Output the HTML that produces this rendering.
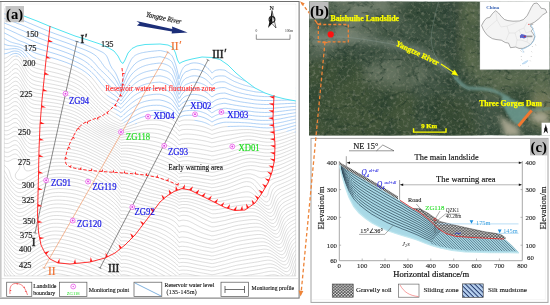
<!DOCTYPE html><html><head><meta charset="utf-8"><title>Baishuihe landslide</title><style>html,body{margin:0;padding:0;background:#fff;overflow:hidden}svg{display:block}</style></head><body><svg width="550" height="305" viewBox="0 0 550 305" font-family="'Liberation Serif','Times New Roman',serif"><rect x="0.5" y="1.5" width="298.6" height="296.6" fill="#fff" stroke="#6e6e6e" stroke-width="1"/>
<line x1="0.8" y1="2" x2="0.8" y2="298" stroke="#c8c8c8" stroke-width="1.6"/>
<rect x="4.2" y="4.2" width="291.6" height="271.8" fill="none" stroke="#d4d4d4" stroke-width="0.6"/>
<defs><clipPath id="mapclip"><rect x="4.2" y="4.2" width="291.6" height="271.8"/></clipPath></defs>
<g clip-path="url(#mapclip)" fill="none" stroke-linejoin="round">
<path d="M91.0,77.0 92.0,78.0 92.9,79.0 93.5,79.8 94.1,80.5 94.9,81.5 95.5,82.3 96.0,83.0 96.8,84.0 97.5,85.0 98.0,85.7 98.6,86.5 99.3,87.5 100.0,88.4 100.9,89.5 101.5,90.1 102.3,91.0 103.0,91.7 103.8,92.5 104.5,93.2 105.4,94.0 106.5,94.9 107.3,95.5 M36.0,58.5 37.0,58.8 38.0,59.1 39.0,59.4 40.0,59.7 41.0,59.9 42.0,60.2 43.0,60.5 44.0,60.7 45.0,61.0 46.0,61.2 47.0,61.5 48.0,61.8 49.0,62.0 50.0,62.3 51.0,62.6 52.0,62.8 53.0,63.1 54.0,63.4 55.0,63.6 56.0,63.9 57.0,64.2 58.0,64.5 59.0,64.8 60.0,65.1 61.0,65.4 62.0,65.7 63.0,66.1 64.0,66.4 65.0,66.7 66.0,67.1 67.0,67.4 68.0,67.8 69.0,68.2 70.0,68.6 71.0,69.0 72.0,69.4 73.0,69.8 74.0,70.2 75.0,70.7 76.0,71.1 77.0,71.6 77.8,72.0 78.8,72.5 79.7,73.0 80.6,73.5 81.5,74.0 82.2,74.5 83.0,75.0 83.7,75.5 84.5,76.1 85.5,76.9 86.3,77.5 87.0,78.2 87.9,79.0 88.9,80.0 89.5,80.6 90.3,81.5 91.0,82.3 91.9,83.5 92.5,84.2 93.1,85.0 93.9,86.0 94.5,86.9 95.3,88.0 96.0,88.9 96.8,90.0 97.5,90.9 98.4,92.0 99.0,92.8 99.6,93.5 100.5,94.5 101.5,95.5 102.5,96.5 103.5,97.4 104.2,98.0 105.0,98.6 106.0,99.4 106.9,100.0 107.6,100.5 108.3,101.0 109.1,101.5 109.9,102.0 110.8,102.5 111.6,103.0 M27.6,57.0 28.4,58.0 29.0,58.8 29.7,59.5 30.5,60.3 31.3,61.0 32.0,61.5 33.0,62.2 34.0,62.7 35.0,63.1 36.0,63.5 37.0,63.8 38.0,64.1 39.0,64.4 40.0,64.6 41.0,64.9 42.0,65.1 43.0,65.3 44.0,65.6 45.0,65.8 46.0,66.1 47.0,66.3 48.0,66.5 49.0,66.8 50.0,67.0 51.0,67.3 52.0,67.5 53.0,67.8 54.0,68.0 55.0,68.3 56.0,68.5 57.0,68.8 58.0,69.1 59.0,69.4 60.0,69.7 61.0,69.9 62.0,70.2 63.0,70.5 64.0,70.9 65.0,71.2 66.0,71.5 67.0,71.8 68.0,72.2 68.9,72.5 70.0,72.9 71.0,73.3 72.0,73.7 73.0,74.1 73.9,74.5 75.0,75.0 76.0,75.4 77.0,75.9 78.0,76.4 79.0,77.0 79.9,77.5 80.8,78.0 81.5,78.5 82.2,79.0 83.0,79.5 84.0,80.3 84.8,81.0 85.5,81.6 86.4,82.5 87.4,83.5 88.4,84.5 89.0,85.2 89.7,86.0 90.5,87.0 91.3,88.0 92.0,88.9 92.8,90.0 93.5,90.9 94.4,92.0 95.0,92.8 95.6,93.5 96.4,94.5 97.0,95.3 97.6,96.0 98.5,97.0 99.4,98.0 100.4,99.0 101.5,100.0 102.5,100.9 103.2,101.5 104.0,102.1 105.0,102.9 105.8,103.5 106.5,104.0 107.5,104.7 108.5,105.4 109.4,106.0 110.2,106.5 111.0,107.0 111.9,107.5 112.9,108.0 114.0,108.5 M25.0,57.5 25.5,58.4 26.0,59.2 26.5,60.0 27.0,60.9 27.5,61.7 28.0,62.4 28.8,63.5 29.5,64.3 30.2,65.0 31.0,65.6 32.0,66.4 33.0,67.0 34.0,67.4 35.0,67.8 36.0,68.2 37.0,68.5 38.0,68.8 39.0,69.0 40.0,69.2 41.0,69.5 42.0,69.7 43.0,69.9 44.0,70.1 45.0,70.4 46.0,70.6 47.0,70.8 48.0,71.1 49.0,71.3 50.0,71.5 51.0,71.7 52.0,72.0 53.0,72.2 54.0,72.4 55.0,72.7 56.0,72.9 57.0,73.2 58.0,73.4 59.0,73.7 60.0,74.0 61.0,74.2 62.0,74.5 63.0,74.8 64.0,75.1 65.0,75.4 66.0,75.7 67.0,76.0 68.0,76.3 69.0,76.7 70.0,77.0 71.0,77.4 72.0,77.8 73.0,78.2 74.0,78.7 75.0,79.1 76.0,79.6 77.0,80.1 78.0,80.6 79.0,81.2 80.0,81.8 81.0,82.5 82.0,83.2 83.0,84.0 84.0,84.9 84.7,85.5 85.5,86.3 86.2,87.0 87.0,87.8 87.6,88.5 88.5,89.5 89.4,90.5 90.0,91.2 90.6,92.0 91.4,93.0 92.0,93.7 92.7,94.5 93.5,95.5 94.3,96.5 95.0,97.3 95.6,98.0 96.5,99.0 97.5,100.0 98.4,101.0 99.4,102.0 100.4,103.0 101.5,104.0 102.5,104.8 103.3,105.5 104.0,106.1 105.0,106.9 105.8,107.5 106.5,108.0 107.5,108.8 108.5,109.5 109.3,110.0 110.1,110.5 110.8,111.0 111.6,111.5 112.5,112.0 113.4,112.5 114.3,113.0 115.2,113.5 116.1,114.0 M0.0,57.6 0.9,58.0 2.0,58.3 3.5,58.5 5.0,58.3 6.0,57.9 7.0,57.4 8.0,56.7 9.0,56.1 9.8,55.5 M21.6,56.5 22.4,57.5 23.0,58.4 23.5,59.3 24.0,60.3 24.5,61.3 25.0,62.3 25.5,63.2 25.9,64.0 26.5,65.0 27.0,65.8 27.5,66.5 28.2,67.5 29.0,68.4 30.0,69.4 30.7,70.0 31.5,70.6 32.5,71.2 33.5,71.7 34.5,72.1 35.5,72.5 36.5,72.8 37.5,73.1 38.5,73.3 39.5,73.5 40.5,73.8 41.5,74.0 42.5,74.2 43.5,74.4 44.5,74.6 45.5,74.8 46.5,75.0 47.5,75.2 48.5,75.4 49.5,75.7 50.5,75.9 51.5,76.1 52.5,76.3 53.5,76.5 54.5,76.7 55.5,77.0 56.5,77.2 57.5,77.4 58.5,77.7 59.5,77.9 60.5,78.2 61.5,78.4 62.5,78.7 63.5,79.0 64.5,79.3 65.5,79.6 66.5,79.9 67.5,80.2 68.4,80.5 69.5,80.9 70.5,81.2 71.5,81.6 72.4,82.0 73.5,82.5 74.5,82.9 75.5,83.4 76.5,83.9 77.5,84.5 78.4,85.0 79.2,85.5 79.9,86.0 80.7,86.5 81.5,87.1 82.5,87.9 83.2,88.5 84.0,89.2 84.8,90.0 85.5,90.7 86.3,91.5 87.0,92.2 87.7,93.0 88.5,93.9 89.5,95.0 90.4,96.0 91.0,96.7 91.7,97.5 92.5,98.4 93.5,99.5 94.4,100.5 95.0,101.2 95.8,102.0 96.5,102.7 97.2,103.5 98.0,104.3 98.7,105.0 99.5,105.8 100.3,106.5 101.0,107.2 101.9,108.0 103.0,108.9 103.7,109.5 104.5,110.2 105.5,111.0 106.5,111.8 107.3,112.5 108.5,113.4 109.4,114.0 110.1,114.5 110.8,115.0 111.6,115.5 112.4,116.0 113.2,116.5 114.0,117.0 115.0,117.5 115.9,118.0 116.7,118.5 117.5,119.0 118.4,119.5 119.1,120.0 119.9,120.5 120.6,121.0 122.0,120.5 M178.8,117.5 180.0,117.1 M0.0,62.2 1.0,62.6 2.0,62.9 3.5,63.0 5.0,62.8 5.9,62.5 6.8,62.0 7.5,61.5 8.5,60.7 9.2,60.0 10.0,59.1 10.6,58.5 11.5,57.7 12.5,57.0 13.4,56.5 14.5,56.1 16.0,56.0 M17.5,56.2 18.5,56.7 19.5,57.5 20.4,58.5 21.0,59.3 21.5,60.2 22.0,61.2 22.4,62.0 22.9,63.0 23.4,64.0 23.9,65.0 24.5,66.0 25.0,67.0 25.5,67.9 26.0,68.8 26.5,69.6 27.0,70.4 27.5,71.1 28.2,72.0 29.0,72.9 29.6,73.5 30.5,74.3 31.5,75.0 32.4,75.5 33.4,76.0 34.5,76.5 35.5,76.8 36.5,77.1 37.5,77.3 38.5,77.5 39.5,77.8 40.5,78.0 42.0,78.3 43.3,78.5 44.5,78.7 45.8,79.0 47.0,79.2 48.0,79.4 49.0,79.6 50.0,79.8 51.5,80.1 52.5,80.3 53.5,80.5 54.5,80.8 55.5,81.0 56.5,81.2 57.5,81.4 58.5,81.7 59.5,81.9 60.5,82.1 61.5,82.4 62.5,82.6 63.5,82.9 64.5,83.2 65.5,83.5 66.5,83.8 67.5,84.1 68.5,84.4 69.5,84.8 70.5,85.1 71.4,85.5 72.5,85.9 73.5,86.4 74.5,86.9 75.5,87.4 76.5,87.9 77.5,88.5 78.4,89.0 79.2,89.5 79.9,90.0 81.0,90.8 81.9,91.5 83.0,92.5 84.0,93.4 84.7,94.0 85.5,94.8 86.2,95.5 87.0,96.3 87.7,97.0 88.5,97.8 89.1,98.5 90.0,99.4 91.0,100.5 91.9,101.5 92.9,102.5 93.5,103.2 94.3,104.0 95.0,104.7 95.8,105.5 96.5,106.3 97.2,107.0 98.0,107.8 98.7,108.5 99.5,109.3 100.3,110.0 101.0,110.7 101.9,111.5 103.0,112.5 104.0,113.4 104.7,114.0 105.5,114.7 106.5,115.5 107.5,116.3 108.3,117.0 109.5,117.9 110.4,118.5 111.1,119.0 111.8,119.5 112.7,120.0 113.5,120.5 114.5,121.0 115.5,121.5 116.5,122.0 117.5,122.4 118.5,122.9 119.5,123.4 120.5,124.0 122.0,123.7 123.0,123.1 124.0,122.5 M174.5,116.8 175.2,117.5 176.0,118.3 176.7,119.0 177.5,119.9 178.4,121.0 179.0,121.8 180.0,121.2 181.0,120.8 182.0,120.4 183.0,120.2 184.5,120.0 186.0,120.0 187.5,120.0 189.0,120.0 190.2,120.0 191.5,120.1 193.0,120.2 194.5,120.3 M209.5,124.8 210.5,125.3 211.5,125.9 213.0,125.7 214.0,125.2 M0.0,66.5 1.0,66.9 2.0,67.2 3.5,67.4 5.0,67.2 6.0,66.9 7.0,66.4 8.0,65.7 8.8,65.0 9.5,64.3 10.3,63.5 11.0,62.7 11.6,62.0 12.5,61.1 13.1,60.5 14.0,59.8 15.0,59.3 16.5,59.3 17.5,59.7 18.5,60.5 19.3,61.5 20.0,62.5 20.5,63.3 21.0,64.2 21.5,65.0 22.0,66.0 22.5,66.9 23.0,67.9 23.5,68.8 24.0,69.7 24.5,70.7 25.0,71.5 25.5,72.4 26.0,73.3 26.5,74.0 27.0,74.8 27.5,75.5 28.4,76.5 29.0,77.2 29.9,78.0 31.0,78.9 32.0,79.5 33.0,80.0 34.0,80.4 35.0,80.8 36.0,81.1 37.0,81.3 38.0,81.5 39.0,81.7 40.4,82.0 41.5,82.2 43.0,82.5 44.5,82.7 45.9,83.0 47.0,83.2 48.5,83.5 50.0,83.8 51.2,84.0 52.5,84.3 53.8,84.5 55.0,84.7 56.0,85.0 57.0,85.2 58.0,85.4 59.0,85.6 60.0,85.8 61.0,86.1 62.0,86.3 63.0,86.6 64.0,86.8 65.0,87.1 66.0,87.4 67.0,87.7 68.0,88.0 69.0,88.4 70.0,88.7 71.0,89.1 72.0,89.5 73.0,90.0 74.0,90.4 75.0,90.9 76.0,91.5 77.0,92.0 77.8,92.5 78.6,93.0 79.4,93.5 80.1,94.0 81.0,94.7 82.0,95.5 83.0,96.3 83.8,97.0 84.5,97.6 85.4,98.5 86.5,99.5 87.5,100.5 88.5,101.5 89.5,102.5 90.5,103.5 91.5,104.5 92.5,105.5 93.4,106.5 94.4,107.5 95.4,108.5 96.0,109.1 96.9,110.0 97.5,110.6 98.4,111.5 99.0,112.1 99.9,113.0 100.5,113.6 101.4,114.5 102.5,115.5 103.5,116.5 104.5,117.4 105.2,118.0 106.0,118.7 107.0,119.5 108.0,120.3 109.0,121.0 109.8,121.5 110.6,122.0 111.5,122.5 112.5,123.0 113.5,123.4 114.5,123.8 115.5,124.2 116.5,124.6 117.4,125.0 118.5,125.5 119.5,125.9 120.5,126.4 122.0,126.3 123.0,125.8 124.0,125.4 124.9,125.0 126.0,124.5 M164.5,116.6 165.5,116.9 166.5,117.2 167.5,117.5 168.5,117.9 169.5,118.2 170.5,118.7 171.5,119.1 172.5,119.7 173.5,120.5 174.5,121.4 175.2,122.0 176.0,122.8 176.7,123.5 177.5,124.4 178.3,125.5 179.0,126.4 180.0,125.8 181.0,125.3 182.0,125.0 183.5,124.8 185.0,124.7 186.5,124.7 188.0,124.7 189.5,124.7 191.0,124.8 192.5,124.9 194.0,125.1 195.5,125.3 197.0,125.5 198.5,125.7 199.8,126.0 201.0,126.3 202.0,126.5 203.0,126.8 204.0,127.0 205.0,127.4 206.0,127.7 207.0,128.1 208.0,128.5 209.0,128.9 210.0,129.4 211.0,129.9 212.0,130.4 212.9,130.0 214.0,129.5 215.0,129.2 216.0,128.8 217.0,128.5 218.0,128.2 219.0,127.9 220.0,127.6 221.0,127.4 222.0,127.2 223.1,127.0 224.5,126.8 226.0,126.6 227.5,126.6 M0.0,70.7 1.0,71.1 2.0,71.4 3.5,71.6 4.7,71.5 6.0,71.2 7.0,70.7 8.0,70.0 9.0,69.2 9.7,68.5 10.5,67.7 11.2,67.0 12.0,66.2 12.8,65.5 13.5,64.9 14.5,64.3 15.5,63.9 17.0,64.2 18.0,64.8 18.7,65.5 19.5,66.5 20.0,67.2 20.5,68.0 21.0,68.8 21.5,69.7 22.0,70.5 22.5,71.4 23.0,72.4 23.5,73.3 24.0,74.2 24.5,75.0 25.0,75.9 25.5,76.8 26.0,77.5 26.5,78.3 27.0,79.0 27.8,80.0 28.5,80.9 29.1,81.5 30.0,82.3 31.0,83.0 31.8,83.5 32.8,84.0 34.0,84.5 35.0,84.8 36.0,85.1 37.0,85.3 38.0,85.5 39.5,85.8 40.6,86.0 42.0,86.2 43.5,86.5 45.0,86.7 46.5,87.0 48.0,87.2 49.4,87.5 50.5,87.7 52.0,88.0 53.5,88.2 54.8,88.5 56.0,88.7 57.0,88.9 58.0,89.1 59.0,89.4 60.0,89.6 61.0,89.8 62.0,90.1 63.0,90.3 64.0,90.6 65.0,90.8 66.0,91.1 67.0,91.4 68.0,91.7 69.0,92.1 70.0,92.4 71.0,92.8 72.0,93.2 73.0,93.7 74.0,94.1 75.0,94.6 76.0,95.2 77.0,95.7 78.0,96.3 79.0,97.0 79.8,97.5 80.5,98.0 81.5,98.7 82.5,99.5 83.5,100.4 84.2,101.0 85.0,101.7 85.9,102.5 87.0,103.5 88.0,104.4 89.0,105.4 89.6,106.0 90.5,106.9 91.1,107.5 92.0,108.3 92.6,109.0 93.5,109.9 94.1,110.5 95.0,111.4 95.6,112.0 96.5,112.9 97.5,113.9 98.5,115.0 99.5,116.0 100.5,117.0 101.5,118.0 102.5,118.9 103.5,119.9 104.2,120.5 105.0,121.2 106.0,121.9 106.9,122.5 107.7,123.0 108.5,123.5 109.5,124.0 110.5,124.5 111.5,124.9 112.5,125.4 113.5,125.8 114.5,126.1 115.4,126.5 116.5,126.9 117.5,127.3 118.5,127.7 119.5,128.2 120.5,128.7 122.0,128.6 123.0,128.2 124.0,127.8 125.0,127.5 126.0,127.2 127.0,126.8 128.0,126.5 129.0,126.1 130.0,125.8 131.0,125.4 132.0,125.1 133.0,124.7 134.0,124.3 135.0,124.0 M137.0,123.2 138.0,122.8 139.0,122.5 140.0,122.2 141.0,121.8 142.0,121.6 143.0,121.3 144.0,121.0 145.0,120.8 146.5,120.6 148.0,120.4 149.5,120.2 151.0,120.1 152.5,120.0 154.0,120.0 155.5,120.0 157.0,120.1 158.5,120.2 160.0,120.4 161.0,120.6 162.0,120.8 163.0,121.1 164.0,121.3 165.0,121.6 166.0,121.9 167.0,122.2 168.0,122.6 169.0,122.9 170.0,123.3 171.0,123.7 172.0,124.2 173.0,125.0 174.0,125.8 174.8,126.5 175.5,127.1 176.4,128.0 177.0,128.6 177.7,129.5 178.5,130.5 179.0,131.2 180.0,130.6 181.0,130.1 182.0,129.8 183.5,129.5 185.0,129.5 186.5,129.4 188.0,129.4 189.5,129.5 191.0,129.5 192.5,129.7 194.0,129.8 195.3,130.0 196.5,130.2 198.0,130.4 199.5,130.7 201.0,131.0 202.0,131.2 203.0,131.4 204.0,131.7 205.0,131.9 206.0,132.2 207.0,132.5 208.0,132.9 209.0,133.2 210.0,133.6 210.9,134.0 212.0,134.5 213.0,134.1 214.0,133.8 215.0,133.5 216.0,133.2 217.0,132.9 218.0,132.6 219.0,132.4 220.0,132.1 221.0,131.9 222.0,131.7 223.1,131.5 224.5,131.3 226.0,131.1 227.5,130.9 229.0,130.8 230.5,130.6 231.9,130.5 233.0,130.4 234.5,130.2 236.0,130.1 237.5,130.0 239.0,129.8 240.5,129.7 242.0,129.6 243.5,129.6 245.0,129.6 246.5,129.5 248.0,129.6 249.5,129.6 251.0,129.7 252.5,129.9 254.0,130.1 255.5,130.3 257.0,130.5 258.5,130.7 260.0,130.9 261.5,131.1 263.0,131.2 264.5,131.3 266.0,131.4 267.5,131.5 269.0,131.5 270.5,131.4 272.0,131.3 273.5,131.1 275.0,130.9 M0.0,74.7 1.0,75.1 2.0,75.4 3.5,75.6 5.0,75.5 6.0,75.2 7.0,74.8 8.0,74.2 8.9,73.5 10.0,72.5 11.0,71.6 12.0,70.6 12.7,70.0 13.5,69.4 14.5,68.8 15.5,68.5 17.0,68.8 18.0,69.4 18.6,70.0 19.5,71.0 20.2,72.0 20.9,73.0 21.5,74.0 22.0,74.9 22.5,75.8 23.0,76.7 23.5,77.5 24.0,78.4 24.5,79.3 25.0,80.2 25.5,81.0 26.0,81.7 26.5,82.5 27.3,83.5 28.0,84.4 29.0,85.5 30.0,86.3 30.9,87.0 31.7,87.5 32.7,88.0 34.0,88.5 35.0,88.8 36.0,89.1 37.0,89.3 38.3,89.5 39.5,89.7 41.0,89.9 42.5,90.2 44.0,90.4 45.5,90.6 47.0,90.9 48.5,91.1 50.0,91.4 51.5,91.6 53.0,91.9 54.5,92.2 56.0,92.4 57.5,92.7 58.5,92.9 59.5,93.1 60.5,93.4 61.5,93.6 62.5,93.8 63.5,94.1 64.5,94.3 65.5,94.6 66.5,94.9 67.5,95.2 68.4,95.5 69.5,95.9 70.5,96.2 71.5,96.6 72.4,97.0 73.5,97.5 74.5,98.0 75.5,98.5 76.5,99.0 77.4,99.5 78.2,100.0 79.0,100.5 79.7,101.0 80.5,101.5 81.5,102.3 82.5,103.0 83.5,103.8 84.3,104.5 85.0,105.1 86.0,105.9 86.6,106.5 87.5,107.3 88.3,108.0 89.0,108.7 89.9,109.5 90.5,110.1 91.4,111.0 92.4,112.0 93.4,113.0 94.0,113.6 94.9,114.5 95.5,115.1 96.3,116.0 97.0,116.7 97.8,117.5 98.5,118.3 99.2,119.0 100.0,119.8 100.7,120.5 101.5,121.2 102.5,122.0 103.5,122.8 104.5,123.5 105.3,124.0 106.1,124.5 107.0,125.0 108.0,125.5 109.0,126.0 110.0,126.5 111.0,126.9 112.0,127.3 113.0,127.7 114.0,128.1 115.0,128.4 116.0,128.8 117.0,129.2 118.0,129.6 118.9,130.0 119.9,130.5 120.8,131.0 122.0,130.8 123.0,130.4 124.0,130.2 125.0,129.9 126.0,129.6 127.0,129.4 128.0,129.1 129.0,128.8 130.0,128.6 131.0,128.3 132.0,128.1 133.0,127.8 134.0,127.5 135.0,127.2 136.0,127.0 137.0,126.7 138.0,126.4 139.0,126.2 140.0,125.9 141.0,125.7 142.0,125.5 143.5,125.2 144.8,125.0 146.0,124.8 147.5,124.7 149.0,124.6 150.5,124.5 151.8,124.5 153.3,124.5 154.5,124.5 156.0,124.6 157.5,124.8 159.0,125.0 160.5,125.2 161.5,125.5 162.5,125.7 163.5,126.0 164.5,126.2 165.5,126.5 166.5,126.9 167.5,127.2 168.5,127.6 169.5,128.0 170.5,128.4 171.5,128.9 172.5,129.5 173.5,130.2 174.5,131.0 175.5,131.9 176.1,132.5 177.0,133.4 178.0,134.5 178.5,135.2 179.5,135.5 180.5,135.0 181.5,134.7 182.5,134.4 184.0,134.2 185.5,134.1 187.0,134.1 188.5,134.1 190.0,134.2 191.5,134.3 193.0,134.4 194.5,134.6 196.0,134.8 197.2,135.0 198.5,135.2 200.0,135.5 201.5,135.7 202.8,136.0 204.0,136.3 205.0,136.5 206.0,136.7 207.0,137.0 208.0,137.3 209.0,137.6 210.0,137.9 211.0,138.3 212.0,138.6 213.0,138.3 214.0,138.1 215.0,137.8 216.0,137.6 217.0,137.3 218.0,137.1 219.0,136.8 220.0,136.6 221.0,136.4 222.5,136.1 224.0,135.8 225.5,135.6 227.0,135.3 228.5,135.1 230.0,134.9 231.5,134.7 233.0,134.4 234.5,134.2 236.0,133.9 237.5,133.7 238.6,133.5 240.0,133.3 241.5,133.1 242.6,133.0 244.0,132.9 245.5,132.8 247.0,132.8 248.5,132.7 250.0,132.8 251.5,132.9 253.0,133.1 254.5,133.3 255.8,133.5 257.0,133.7 258.5,134.0 260.0,134.2 261.5,134.4 263.0,134.6 264.5,134.8 266.0,134.9 267.1,135.0 268.5,135.0 270.0,135.0 271.5,134.9 273.0,134.8 274.5,134.6 276.0,134.3 277.5,134.0 278.5,133.8 279.5,133.6 280.5,133.3 281.5,133.0 282.5,132.8 283.5,132.5 284.5,132.2 285.5,131.9 286.5,131.6 M0.0,78.5 1.0,78.9 2.0,79.3 3.0,79.5 4.5,79.5 6.0,79.2 7.0,78.8 8.0,78.2 9.0,77.5 10.0,76.7 10.7,76.0 11.5,75.3 12.4,74.5 13.5,73.7 14.5,73.1 15.5,72.9 16.6,73.0 17.5,73.4 18.3,74.0 19.0,74.7 19.6,75.5 20.3,76.5 21.0,77.5 21.5,78.3 22.0,79.2 22.5,80.0 23.0,80.9 23.5,81.7 24.0,82.6 24.5,83.5 25.0,84.3 25.5,85.1 26.0,85.9 26.5,86.6 27.2,87.5 28.0,88.5 29.0,89.5 30.0,90.4 30.9,91.0 31.7,91.5 32.8,92.0 34.0,92.4 35.0,92.7 36.0,93.0 37.5,93.3 39.0,93.5 40.5,93.7 42.0,93.9 43.5,94.1 45.0,94.3 46.3,94.5 47.5,94.7 49.0,94.9 50.5,95.1 52.0,95.4 53.5,95.6 55.0,95.9 56.5,96.2 58.0,96.5 59.0,96.7 60.0,96.9 61.0,97.1 62.0,97.3 63.0,97.5 64.0,97.8 65.0,98.0 66.0,98.3 67.0,98.6 68.0,98.9 69.0,99.2 70.0,99.6 71.0,100.0 72.0,100.4 73.0,100.8 74.0,101.2 75.0,101.7 76.0,102.2 77.0,102.8 78.0,103.3 79.0,104.0 79.8,104.5 80.6,105.0 81.3,105.5 82.5,106.4 83.3,107.0 84.0,107.5 85.0,108.4 85.8,109.0 86.5,109.6 87.5,110.5 88.5,111.4 89.5,112.4 90.2,113.0 91.0,113.8 91.7,114.5 92.5,115.3 93.2,116.0 94.0,116.8 94.7,117.5 95.5,118.4 96.1,119.0 97.0,119.9 98.0,120.9 99.0,121.9 99.7,122.5 100.5,123.1 101.5,123.9 102.4,124.5 103.2,125.0 104.0,125.5 104.8,126.0 105.8,126.5 106.7,127.0 107.8,127.5 108.9,128.0 110.0,128.5 111.0,128.9 112.0,129.3 113.0,129.7 113.9,130.0 115.0,130.4 116.0,130.8 117.0,131.2 118.0,131.6 118.8,132.0 119.8,132.5 120.7,133.0 122.0,132.9 123.0,132.6 124.0,132.4 125.0,132.2 126.0,132.0 127.5,131.7 129.0,131.4 130.5,131.1 132.0,130.9 133.5,130.6 135.0,130.3 136.5,130.0 138.0,129.8 139.5,129.5 141.0,129.3 142.5,129.1 144.0,128.9 145.5,128.8 147.0,128.7 148.5,128.7 150.0,128.7 151.5,128.7 153.0,128.8 154.5,128.9 156.0,129.1 157.5,129.3 159.0,129.5 160.0,129.7 161.0,129.9 162.0,130.2 163.0,130.5 164.0,130.8 165.0,131.1 166.0,131.4 167.0,131.8 168.0,132.1 168.9,132.5 170.0,133.0 171.0,133.5 172.0,134.0 172.8,134.5 173.5,135.0 174.5,135.8 175.3,136.5 176.0,137.1 176.9,138.0 177.8,139.0 178.5,139.8 179.5,140.2 180.5,139.7 181.5,139.3 182.5,139.1 184.0,138.9 185.5,138.8 187.0,138.7 188.5,138.8 190.0,138.9 191.5,139.0 193.0,139.1 194.5,139.3 195.9,139.5 197.0,139.6 198.5,139.9 200.0,140.1 201.5,140.4 203.0,140.6 204.5,140.9 205.5,141.1 206.5,141.4 207.5,141.6 208.5,141.8 209.5,142.1 210.5,142.4 211.5,142.7 213.0,142.6 214.0,142.4 215.5,142.1 216.5,141.8 217.5,141.6 218.5,141.4 219.5,141.2 220.5,141.0 222.0,140.7 223.5,140.4 225.0,140.1 226.5,139.8 228.0,139.6 229.5,139.3 230.5,139.1 231.5,138.8 232.5,138.6 233.5,138.4 234.5,138.2 235.5,137.9 236.5,137.7 237.5,137.5 238.5,137.3 239.5,137.0 241.0,136.8 242.5,136.5 244.0,136.3 245.5,136.1 247.0,136.0 248.5,136.0 250.0,136.0 251.5,136.2 253.0,136.3 254.5,136.6 256.0,136.8 257.5,137.1 258.5,137.3 260.0,137.6 261.5,137.9 263.0,138.2 264.5,138.3 266.0,138.5 267.5,138.6 269.0,138.6 270.5,138.6 272.0,138.5 273.5,138.3 275.0,138.0 276.5,137.8 277.5,137.6 278.5,137.3 279.5,137.1 280.5,136.8 281.5,136.5 282.5,136.2 283.5,135.9 284.5,135.6 285.5,135.3 286.5,135.0 287.5,134.6 288.5,134.3 289.5,133.9 290.5,133.6 291.5,133.2 292.5,132.9 293.5,132.6 294.5,132.2 M0.0,82.3 1.0,82.7 2.0,83.1 3.0,83.3 4.5,83.4 6.0,83.1 7.0,82.7 8.0,82.2 9.0,81.5 10.0,80.7 10.8,80.0 11.5,79.4 12.5,78.6 13.3,78.0 14.1,77.5 15.5,77.1 17.0,77.4 18.0,78.0 19.0,79.0 19.8,80.0 20.5,80.9 21.0,81.7 21.5,82.5 22.0,83.3 22.5,84.2 23.0,85.0 23.5,85.9 24.0,86.7 24.5,87.5 25.0,88.4 25.5,89.2 26.0,89.9 26.5,90.7 27.1,91.5 28.0,92.5 28.9,93.5 30.0,94.4 30.9,95.0 31.8,95.5 32.9,96.0 34.0,96.4 35.0,96.6 36.0,96.9 37.5,97.1 39.0,97.3 40.5,97.5 42.0,97.7 43.5,97.9 44.7,98.0 46.0,98.2 47.5,98.4 49.0,98.6 50.5,98.8 51.8,99.0 53.0,99.2 54.5,99.4 56.0,99.7 57.5,100.0 59.0,100.2 60.3,100.5 61.5,100.8 62.5,101.0 63.5,101.2 64.5,101.5 65.5,101.7 66.5,102.0 67.5,102.3 68.5,102.6 69.5,102.9 70.5,103.2 71.5,103.6 72.4,104.0 73.5,104.5 74.5,104.9 75.5,105.4 76.5,105.9 77.5,106.4 78.5,107.0 79.3,107.5 80.1,108.0 80.8,108.5 81.6,109.0 82.5,109.7 83.5,110.4 84.2,111.0 85.0,111.6 86.0,112.4 86.6,113.0 87.5,113.7 88.3,114.5 89.0,115.1 89.9,116.0 91.0,117.0 92.0,118.0 93.0,119.0 94.0,120.0 95.0,121.0 96.0,122.0 97.0,122.8 97.8,123.5 98.5,124.1 99.5,124.8 100.5,125.5 101.2,126.0 102.0,126.5 102.9,127.0 103.7,127.5 104.7,128.0 105.5,128.4 106.5,128.9 107.5,129.4 108.5,129.8 109.5,130.2 110.5,130.6 111.5,131.0 112.5,131.4 113.5,131.8 114.5,132.2 115.4,132.5 116.5,133.0 117.5,133.4 118.5,133.9 119.5,134.4 120.5,135.0 121.5,135.2 122.5,135.0 123.5,134.7 124.9,134.5 126.0,134.3 127.5,134.1 129.0,133.9 130.5,133.8 132.0,133.6 133.5,133.4 135.0,133.3 136.5,133.1 138.0,133.0 139.5,132.8 141.0,132.7 142.5,132.6 144.0,132.6 145.5,132.6 147.0,132.6 148.5,132.7 150.0,132.8 151.5,132.9 153.0,133.0 154.5,133.2 156.0,133.4 157.5,133.6 159.0,133.9 160.0,134.2 161.0,134.4 162.0,134.7 163.0,135.0 164.0,135.4 165.0,135.7 166.0,136.0 167.0,136.4 168.0,136.8 169.0,137.2 170.0,137.7 171.0,138.2 172.0,138.7 173.0,139.4 173.9,140.0 175.0,140.9 175.7,141.5 176.5,142.2 177.3,143.0 178.0,143.8 178.6,144.5 179.9,144.5 181.0,144.0 182.0,143.7 183.4,143.5 185.0,143.4 186.5,143.3 188.0,143.3 189.5,143.4 190.7,143.5 192.0,143.6 193.5,143.8 195.0,144.0 196.5,144.2 198.0,144.4 199.5,144.6 201.0,144.9 202.5,145.1 204.0,145.4 205.5,145.7 207.0,145.9 208.0,146.2 209.0,146.4 210.0,146.6 211.0,146.9 212.0,147.1 213.5,146.8 215.0,146.6 216.0,146.4 217.0,146.1 218.0,145.9 219.0,145.7 220.1,145.5 221.5,145.2 222.7,145.0 224.0,144.8 225.3,144.5 226.5,144.3 227.5,144.1 228.5,143.8 229.5,143.6 230.5,143.4 231.5,143.1 232.5,142.9 233.5,142.6 234.5,142.3 235.5,142.1 236.5,141.8 237.5,141.5 238.5,141.3 239.5,141.0 240.5,140.8 241.5,140.5 242.5,140.3 244.0,140.0 245.5,139.8 247.0,139.6 248.5,139.6 250.0,139.5 251.5,139.7 253.0,139.9 254.5,140.1 256.0,140.4 257.0,140.6 258.0,140.9 259.0,141.1 260.0,141.3 261.1,141.5 262.5,141.7 264.0,141.9 265.5,142.1 267.0,142.2 268.5,142.2 270.0,142.2 271.5,142.1 273.0,141.9 274.5,141.7 276.0,141.4 277.0,141.2 278.0,141.0 279.0,140.7 280.0,140.4 281.0,140.1 282.0,139.8 283.0,139.5 284.0,139.2 285.0,138.8 286.0,138.5 287.0,138.1 288.0,137.8 289.0,137.4 290.0,137.1 291.0,136.7 292.0,136.3 292.9,136.0 294.0,135.6 295.0,135.2 296.0,134.9 297.0,134.5 298.0,134.2 299.0,133.8 300.0,133.5 M0.0,86.1 1.0,86.5 2.0,86.8 3.0,87.1 4.5,87.2 5.9,87.0 7.0,86.6 8.0,86.1 8.9,85.5 10.0,84.7 10.8,84.0 11.5,83.4 12.5,82.6 13.4,82.0 14.4,81.5 15.5,81.2 16.9,81.5 17.8,82.0 18.5,82.6 19.3,83.5 20.0,84.3 20.5,85.0 21.0,85.8 21.5,86.6 22.0,87.4 22.5,88.3 23.0,89.1 23.5,90.0 24.0,90.8 24.5,91.6 25.0,92.5 25.5,93.3 26.0,94.0 26.5,94.7 27.1,95.5 27.9,96.5 28.9,97.5 30.0,98.4 30.9,99.0 31.8,99.5 33.0,100.0 34.0,100.3 35.0,100.5 36.5,100.8 37.8,101.0 39.0,101.1 40.5,101.3 42.0,101.4 43.5,101.6 45.0,101.7 46.5,101.9 48.0,102.1 49.5,102.3 51.0,102.5 52.5,102.7 54.0,102.9 55.5,103.2 57.0,103.4 58.5,103.7 60.0,104.0 61.5,104.3 62.5,104.5 63.5,104.7 64.5,104.9 65.5,105.2 66.5,105.5 67.5,105.7 68.5,106.0 69.5,106.3 70.5,106.7 71.5,107.0 72.5,107.4 73.5,107.8 74.5,108.3 75.5,108.8 76.5,109.3 77.5,109.8 78.5,110.3 79.5,110.9 80.4,111.5 81.2,112.0 81.9,112.5 82.6,113.0 83.5,113.7 84.5,114.4 85.2,115.0 86.0,115.7 87.0,116.5 88.0,117.4 88.7,118.0 89.5,118.8 90.3,119.5 91.0,120.2 91.8,121.0 92.5,121.6 93.5,122.5 94.5,123.4 95.3,124.0 96.0,124.6 97.0,125.4 97.9,126.0 98.6,126.5 99.4,127.0 100.1,127.5 101.0,128.0 101.8,128.5 102.7,129.0 103.7,129.5 104.5,129.9 105.5,130.4 106.5,130.8 107.5,131.3 108.5,131.7 109.5,132.1 110.4,132.5 111.5,132.9 112.5,133.3 113.5,133.7 114.5,134.1 115.5,134.5 116.5,135.0 117.5,135.4 118.5,136.0 119.4,136.5 120.1,137.0 121.0,137.7 122.0,137.4 123.0,137.2 124.1,137.0 125.5,136.8 127.0,136.7 128.5,136.6 130.0,136.5 131.5,136.4 133.0,136.3 134.5,136.3 136.0,136.2 137.5,136.2 139.0,136.1 140.5,136.1 142.0,136.1 143.5,136.2 145.0,136.2 146.5,136.4 148.0,136.5 149.5,136.7 151.0,136.9 152.1,137.0 153.5,137.2 155.0,137.4 156.5,137.7 157.5,138.0 158.5,138.2 159.5,138.4 160.5,138.7 161.4,139.0 162.5,139.3 163.5,139.7 164.4,140.0 165.5,140.4 166.5,140.8 167.5,141.2 168.5,141.6 169.4,142.0 170.4,142.5 171.4,143.0 172.2,143.5 173.0,144.0 173.7,144.5 174.5,145.0 175.5,145.8 176.3,146.5 177.0,147.2 177.8,148.0 178.5,148.8 179.5,149.2 180.5,148.7 181.5,148.3 182.5,148.1 184.0,147.9 185.5,147.9 187.0,147.8 188.5,147.8 190.0,148.0 191.5,148.1 193.0,148.3 194.5,148.5 196.0,148.7 197.5,148.9 199.0,149.1 200.5,149.4 202.0,149.6 203.5,149.8 205.0,150.1 206.5,150.4 208.0,150.7 209.0,150.9 210.0,151.1 211.0,151.3 212.0,151.6 213.5,151.3 215.0,151.1 216.0,150.8 217.0,150.6 218.0,150.4 219.0,150.2 220.0,149.9 221.0,149.7 222.0,149.5 223.5,149.2 224.5,149.0 225.5,148.8 226.5,148.6 227.5,148.4 228.5,148.1 229.5,147.9 230.5,147.6 231.5,147.3 232.5,147.1 233.5,146.8 234.4,146.5 235.5,146.2 236.5,145.9 237.5,145.6 238.5,145.3 239.5,145.0 240.5,144.8 241.5,144.5 242.5,144.3 243.5,144.1 245.0,143.8 246.5,143.6 248.0,143.5 249.5,143.4 251.0,143.5 252.5,143.6 254.0,143.8 255.1,144.0 256.5,144.3 257.5,144.5 258.5,144.7 260.0,145.0 261.5,145.2 263.0,145.5 264.5,145.6 266.0,145.7 267.5,145.8 269.0,145.8 270.5,145.7 272.0,145.6 273.5,145.4 275.0,145.1 276.5,144.8 277.5,144.6 278.5,144.3 279.5,144.0 280.5,143.7 281.5,143.4 282.5,143.1 283.5,142.7 284.5,142.4 285.5,142.0 286.5,141.7 287.5,141.3 288.5,140.9 289.5,140.5 290.5,140.2 291.5,139.8 292.5,139.4 293.5,139.0 294.5,138.6 295.5,138.2 296.5,137.8 297.4,137.5 298.5,137.1 299.5,136.8 300.0,136.6 M0.0,89.8 1.0,90.2 2.0,90.6 3.0,90.8 4.5,91.0 6.0,90.8 7.0,90.5 8.0,90.0 8.8,89.5 9.5,89.0 10.5,88.2 11.4,87.5 12.5,86.6 13.4,86.0 14.5,85.5 15.5,85.3 16.7,85.5 17.7,86.0 18.5,86.7 19.3,87.5 20.0,88.4 20.5,89.1 21.0,89.9 21.5,90.7 22.0,91.5 22.5,92.4 23.0,93.2 23.5,94.0 24.0,94.9 24.5,95.7 25.0,96.5 25.5,97.3 26.0,98.1 26.5,98.8 27.1,99.5 27.9,100.5 28.5,101.1 29.5,102.0 30.5,102.8 31.5,103.3 32.5,103.8 33.5,104.1 34.5,104.4 36.0,104.6 37.5,104.8 39.0,104.9 40.5,105.1 42.0,105.2 43.5,105.3 45.0,105.4 46.5,105.6 48.0,105.7 49.5,105.9 51.0,106.1 52.5,106.3 54.0,106.5 55.5,106.7 57.0,106.9 58.5,107.2 60.0,107.5 61.5,107.8 62.5,108.0 63.5,108.2 64.5,108.4 65.5,108.6 66.5,108.9 67.5,109.2 68.5,109.4 69.5,109.8 70.5,110.1 71.5,110.4 72.5,110.8 73.5,111.2 74.5,111.6 75.5,112.1 76.4,112.5 77.3,113.0 78.3,113.5 79.1,114.0 80.0,114.5 80.8,115.0 81.5,115.5 82.2,116.0 83.0,116.5 84.0,117.3 84.9,118.0 86.0,118.9 86.8,119.5 87.5,120.1 88.5,121.0 89.5,121.9 90.2,122.5 91.0,123.1 92.0,124.0 92.7,124.5 93.5,125.2 94.5,125.9 95.3,126.5 96.0,127.0 96.8,127.5 97.5,128.0 98.3,128.5 99.1,129.0 100.0,129.5 100.8,130.0 101.8,130.5 102.7,131.0 103.8,131.5 104.8,132.0 105.9,132.5 107.0,133.0 108.0,133.4 109.0,133.8 110.0,134.2 111.0,134.7 112.0,135.1 113.0,135.5 114.0,135.9 115.0,136.4 116.0,136.8 117.0,137.4 118.0,137.9 118.9,138.5 120.0,139.3 120.7,140.0 122.0,140.0 123.0,139.8 124.5,139.6 126.0,139.4 127.5,139.3 129.0,139.3 130.5,139.3 132.0,139.3 133.5,139.3 135.0,139.4 136.5,139.4 138.0,139.5 139.5,139.5 141.0,139.6 142.5,139.7 144.0,139.9 145.3,140.0 146.5,140.2 148.0,140.4 149.5,140.6 151.0,140.9 152.5,141.1 154.0,141.4 155.0,141.6 156.0,141.8 157.0,142.1 158.0,142.3 159.0,142.6 160.0,142.9 161.0,143.2 162.0,143.5 163.0,143.9 164.0,144.3 165.0,144.6 166.0,145.0 167.0,145.4 168.0,145.9 169.0,146.3 170.0,146.8 171.0,147.3 172.0,147.9 173.0,148.5 173.8,149.0 174.5,149.5 175.5,150.3 176.4,151.0 177.0,151.6 177.9,152.5 178.5,153.2 179.5,153.5 180.5,153.0 181.5,152.7 182.5,152.5 184.0,152.3 185.5,152.3 187.0,152.2 188.5,152.2 190.0,152.4 191.5,152.6 193.0,152.7 194.5,152.9 196.0,153.2 197.5,153.4 199.0,153.6 200.5,153.8 202.0,154.1 203.5,154.3 205.0,154.6 206.5,154.8 208.0,155.1 209.5,155.4 210.5,155.6 211.5,155.9 213.0,155.8 214.5,155.6 215.5,155.3 216.5,155.1 217.5,154.9 218.5,154.6 219.5,154.4 220.5,154.2 221.5,154.0 222.5,153.8 223.5,153.6 224.5,153.3 225.5,153.1 226.5,152.9 227.5,152.6 228.5,152.3 229.5,152.0 230.5,151.8 231.5,151.5 232.5,151.2 233.5,150.9 234.5,150.5 235.5,150.2 236.5,149.9 237.5,149.6 238.5,149.3 239.5,149.0 240.5,148.7 241.5,148.5 242.5,148.2 243.5,148.0 244.5,147.8 246.0,147.5 247.5,147.3 249.0,147.2 250.5,147.2 252.0,147.3 253.5,147.5 255.0,147.7 256.5,148.0 258.0,148.2 259.4,148.5 260.5,148.7 262.0,148.9 263.5,149.1 265.0,149.2 266.5,149.3 268.0,149.4 269.5,149.3 271.0,149.2 272.5,149.0 274.0,148.8 275.0,148.6 276.0,148.4 277.0,148.1 278.0,147.9 279.0,147.6 280.0,147.3 281.0,147.0 282.0,146.7 283.0,146.3 284.0,146.0 285.0,145.6 286.0,145.2 287.0,144.8 288.0,144.4 289.0,144.0 290.0,143.6 291.0,143.2 292.0,142.8 293.0,142.4 294.0,142.0 295.0,141.6 296.0,141.2 297.0,140.8 298.0,140.4 299.0,140.0 300.0,139.7 M0.0,93.4 1.0,93.9 2.0,94.3 3.0,94.6 4.5,94.8 6.0,94.6 7.0,94.3 8.0,93.9 9.0,93.3 10.0,92.5 11.0,91.7 11.9,91.0 13.0,90.3 14.0,89.7 15.0,89.4 16.5,89.5 17.5,89.9 18.2,90.5 19.0,91.3 19.6,92.0 20.3,93.0 21.0,94.0 21.5,94.8 22.0,95.6 22.5,96.4 23.0,97.3 23.5,98.1 24.0,99.0 24.5,99.8 25.0,100.6 25.5,101.4 26.0,102.2 26.5,102.9 27.4,104.0 28.0,104.7 28.8,105.5 29.5,106.1 30.5,106.8 31.5,107.3 32.5,107.7 33.5,108.1 34.5,108.3 36.0,108.5 37.5,108.6 39.0,108.7 40.5,108.8 42.0,108.9 43.5,109.0 45.0,109.1 46.5,109.2 48.0,109.3 49.5,109.5 51.0,109.6 52.5,109.8 53.9,110.0 55.0,110.1 56.5,110.4 58.0,110.6 59.5,110.9 61.0,111.1 62.5,111.4 63.5,111.6 64.5,111.8 65.5,112.1 66.5,112.3 67.5,112.6 68.5,112.8 69.5,113.1 70.5,113.5 71.5,113.8 72.5,114.2 73.4,114.5 74.5,115.0 75.5,115.4 76.5,115.9 77.5,116.4 78.5,116.9 79.5,117.5 80.4,118.0 81.2,118.5 81.9,119.0 82.6,119.5 83.3,120.0 84.5,120.9 85.4,121.5 86.5,122.4 87.3,123.0 88.0,123.5 89.0,124.3 89.9,125.0 91.0,125.8 91.9,126.5 93.0,127.3 94.0,127.9 94.8,128.5 95.6,129.0 96.4,129.5 97.2,130.0 98.0,130.5 98.9,131.0 99.8,131.5 100.8,132.0 101.8,132.5 102.8,133.0 103.8,133.5 104.9,134.0 106.0,134.5 107.0,134.9 108.0,135.4 109.0,135.8 110.0,136.2 111.0,136.7 112.0,137.1 113.0,137.6 113.8,138.0 114.8,138.5 115.7,139.0 116.5,139.5 117.3,140.0 118.0,140.5 119.0,141.3 119.9,142.0 121.0,143.0 122.0,142.8 123.5,142.5 125.0,142.4 126.5,142.3 128.0,142.3 129.5,142.4 131.0,142.4 132.4,142.5 134.0,142.6 135.5,142.7 137.0,142.8 138.5,142.9 140.0,143.1 141.5,143.2 143.0,143.4 144.5,143.6 146.0,143.9 147.5,144.1 148.5,144.3 149.5,144.6 150.5,144.8 151.8,145.0 153.0,145.3 154.0,145.5 155.0,145.7 156.0,146.0 157.0,146.2 158.0,146.5 159.0,146.8 160.0,147.1 161.0,147.5 162.0,147.8 163.0,148.2 164.0,148.6 165.0,149.0 166.0,149.4 167.0,149.8 168.0,150.2 169.0,150.7 170.0,151.2 171.0,151.7 172.0,152.3 173.0,152.9 174.0,153.5 174.7,154.0 175.5,154.6 176.5,155.4 177.1,156.0 178.0,156.9 178.6,157.5 180.0,157.5 181.0,157.1 182.0,156.9 183.5,156.7 185.0,156.6 186.5,156.5 188.0,156.5 189.5,156.6 191.0,156.8 192.4,157.0 193.5,157.2 195.0,157.4 196.5,157.6 198.0,157.8 199.2,158.0 200.5,158.2 202.0,158.4 203.5,158.7 205.0,158.9 206.5,159.2 208.0,159.4 209.5,159.7 210.5,159.9 211.5,160.2 213.0,160.1 214.5,159.8 215.5,159.6 216.5,159.4 217.5,159.1 218.5,158.9 219.5,158.6 220.5,158.4 221.5,158.2 222.5,158.0 223.5,157.7 224.5,157.5 225.5,157.3 226.5,157.0 227.5,156.7 228.5,156.4 229.5,156.1 230.5,155.8 231.5,155.5 232.5,155.2 233.5,154.9 234.5,154.5 235.5,154.2 236.5,153.9 237.5,153.5 238.5,153.2 239.5,152.9 240.5,152.6 241.5,152.3 242.5,152.1 243.5,151.8 244.5,151.6 246.0,151.3 247.5,151.1 249.0,151.0 250.5,150.9 251.9,151.0 253.0,151.1 254.5,151.3 256.0,151.5 257.0,151.7 258.5,152.0 260.0,152.2 261.5,152.4 263.0,152.6 264.5,152.8 266.0,152.9 267.5,152.9 269.0,152.9 270.5,152.8 272.0,152.6 273.5,152.4 275.0,152.1 276.0,151.8 277.0,151.6 278.0,151.3 279.0,151.1 280.0,150.7 281.0,150.4 282.0,150.1 283.0,149.7 284.0,149.3 285.0,148.9 286.0,148.6 287.0,148.2 288.0,147.8 289.0,147.3 290.0,146.9 291.0,146.5 292.0,146.1 293.0,145.7 294.0,145.2 295.0,144.8 296.0,144.4 296.9,144.0 298.0,143.6 299.0,143.2 300.0,142.8 M0.0,97.1 1.0,97.6 1.9,98.0 3.0,98.4 4.5,98.6 6.0,98.5 7.0,98.2 8.0,97.8 9.0,97.2 10.0,96.5 11.0,95.7 11.9,95.0 12.6,94.5 13.4,94.0 14.5,93.5 16.0,93.4 17.0,93.7 18.0,94.4 18.7,95.0 19.5,95.9 20.3,97.0 20.9,98.0 21.5,98.9 22.0,99.7 22.5,100.5 23.0,101.4 23.5,102.3 24.0,103.1 24.5,103.9 25.0,104.8 25.5,105.5 26.0,106.3 26.5,107.0 27.3,108.0 28.0,108.8 28.7,109.5 29.5,110.1 30.5,110.8 31.5,111.3 32.5,111.7 33.5,112.0 35.0,112.3 36.5,112.4 38.0,112.5 39.5,112.6 41.0,112.6 42.5,112.6 44.0,112.7 45.5,112.8 47.0,112.9 48.5,113.0 50.0,113.1 51.5,113.2 53.0,113.4 54.5,113.6 56.0,113.8 57.5,114.0 59.0,114.2 60.5,114.5 62.0,114.7 63.3,115.0 64.5,115.2 65.5,115.5 66.5,115.7 67.5,115.9 68.5,116.2 69.5,116.5 70.5,116.8 71.5,117.1 72.5,117.5 73.5,117.9 74.5,118.3 75.5,118.7 76.5,119.1 77.5,119.6 78.5,120.2 79.5,120.7 80.5,121.3 81.5,121.9 82.4,122.5 83.2,123.0 83.9,123.5 84.7,124.0 85.4,124.5 86.1,125.0 86.9,125.5 87.6,126.0 88.3,126.5 89.0,127.0 89.8,127.5 90.5,128.0 91.3,128.5 92.0,129.0 92.8,129.5 93.6,130.0 94.4,130.5 95.2,131.0 96.0,131.5 96.9,132.0 97.8,132.5 98.7,133.0 99.7,133.5 100.5,133.9 101.5,134.4 102.5,134.9 103.5,135.4 104.5,135.9 105.5,136.3 106.5,136.8 107.5,137.2 108.5,137.7 109.5,138.2 110.5,138.7 111.5,139.2 112.5,139.7 113.5,140.3 114.5,140.9 115.5,141.5 116.3,142.0 117.0,142.5 117.7,143.0 118.5,143.6 119.5,144.4 120.2,145.0 121.0,145.8 122.0,145.6 123.5,145.4 125.0,145.3 126.5,145.3 128.0,145.3 129.5,145.4 131.0,145.5 132.5,145.7 134.0,145.8 135.5,146.0 137.0,146.2 138.5,146.4 140.0,146.6 141.5,146.8 142.7,147.0 144.0,147.2 145.4,147.5 146.5,147.7 147.5,147.9 148.5,148.2 149.5,148.4 150.5,148.7 151.5,148.9 152.5,149.1 153.5,149.4 154.5,149.6 155.5,149.9 156.5,150.2 157.5,150.5 158.5,150.8 159.5,151.1 160.5,151.5 161.5,151.8 162.5,152.2 163.5,152.6 164.5,153.0 165.5,153.4 166.5,153.8 167.5,154.3 168.5,154.7 169.5,155.2 170.5,155.7 171.5,156.3 172.5,156.8 173.5,157.4 174.4,158.0 175.1,158.5 176.0,159.2 177.0,160.0 178.0,161.0 178.9,162.0 180.0,161.6 181.0,161.3 182.0,161.0 183.5,160.8 185.0,160.8 186.5,160.7 188.0,160.7 189.5,160.9 190.7,161.0 192.0,161.2 193.5,161.4 195.0,161.6 196.5,161.8 197.6,162.0 199.0,162.2 200.5,162.4 202.0,162.7 203.5,162.9 205.0,163.1 206.5,163.4 208.0,163.6 209.5,163.9 211.0,164.2 212.0,164.4 213.5,164.1 215.0,163.9 216.0,163.6 217.0,163.4 218.0,163.1 219.0,162.9 220.0,162.6 221.0,162.4 222.0,162.2 223.0,161.9 224.0,161.7 225.0,161.5 226.0,161.2 227.0,160.9 228.0,160.6 229.0,160.3 230.0,159.9 231.0,159.6 232.0,159.3 233.0,158.9 234.0,158.6 235.0,158.2 236.0,157.9 237.0,157.6 238.0,157.2 239.0,156.9 240.0,156.6 241.0,156.3 241.9,156.0 243.0,155.7 244.0,155.5 245.0,155.2 246.2,155.0 247.5,154.8 249.0,154.6 250.5,154.6 252.0,154.7 253.5,154.8 255.0,155.0 256.5,155.2 258.0,155.5 259.5,155.7 261.0,155.9 262.5,156.1 264.0,156.3 265.5,156.4 267.0,156.4 268.5,156.4 270.0,156.3 271.5,156.2 272.7,156.0 274.0,155.8 275.0,155.5 276.0,155.3 277.0,155.1 278.0,154.8 279.0,154.5 280.0,154.2 281.0,153.9 282.0,153.5 283.0,153.1 284.0,152.7 285.0,152.3 286.0,151.9 287.0,151.5 288.0,151.1 289.0,150.7 290.0,150.2 291.0,149.8 292.0,149.4 292.8,149.0 294.0,148.5 295.0,148.0 296.0,147.6 297.0,147.2 298.0,146.7 299.0,146.3 300.0,145.9 M0.0,100.8 1.0,101.3 2.0,101.8 3.0,102.1 4.0,102.4 5.5,102.4 7.0,102.1 8.0,101.7 9.0,101.1 9.9,100.5 11.0,99.7 11.9,99.0 12.6,98.5 13.5,98.0 14.5,97.6 16.0,97.5 17.0,97.8 18.0,98.5 19.0,99.4 19.8,100.5 20.5,101.4 21.0,102.2 21.5,103.0 22.0,103.8 22.5,104.7 23.0,105.5 23.5,106.4 24.0,107.3 24.5,108.1 25.0,108.9 25.5,109.7 26.0,110.4 26.8,111.5 27.5,112.4 28.1,113.0 29.0,113.8 29.9,114.5 30.7,115.0 31.8,115.5 33.0,115.9 34.0,116.1 35.5,116.3 37.0,116.3 38.5,116.4 40.0,116.4 41.5,116.4 43.0,116.4 44.5,116.4 46.0,116.4 47.5,116.5 49.0,116.6 50.5,116.7 52.0,116.8 53.5,117.0 55.0,117.1 56.5,117.3 57.9,117.5 59.0,117.7 60.5,117.9 62.0,118.1 63.5,118.4 65.0,118.7 66.0,118.9 67.0,119.2 68.0,119.4 69.0,119.7 70.0,120.0 71.0,120.3 72.0,120.6 73.0,121.0 74.0,121.3 75.0,121.7 76.0,122.2 77.0,122.6 77.8,123.0 78.8,123.5 79.8,124.0 80.7,124.5 81.5,124.9 82.5,125.5 83.3,126.0 84.1,126.5 84.9,127.0 85.7,127.5 86.5,128.0 87.3,128.5 88.1,129.0 88.9,129.5 89.7,130.0 90.5,130.5 91.4,131.0 92.2,131.5 93.0,132.0 93.9,132.5 94.8,133.0 95.7,133.5 96.5,134.0 97.5,134.5 98.5,135.0 99.4,135.5 100.4,136.0 101.4,136.5 102.4,137.0 103.4,137.5 104.4,138.0 105.4,138.5 106.4,139.0 107.4,139.5 108.3,140.0 109.2,140.5 110.0,140.9 111.0,141.5 111.9,142.0 112.8,142.5 113.6,143.0 114.5,143.5 115.3,144.0 116.0,144.5 116.8,145.0 117.5,145.5 118.5,146.3 119.4,147.0 120.0,147.6 120.9,148.5 122.5,148.3 124.0,148.2 125.5,148.2 127.0,148.2 128.5,148.3 129.9,148.5 131.0,148.6 132.5,148.8 133.6,149.0 135.0,149.2 136.5,149.4 138.0,149.7 139.5,150.0 141.0,150.2 142.3,150.5 143.5,150.8 144.5,151.0 145.5,151.2 146.5,151.5 147.5,151.7 148.5,152.0 149.5,152.3 150.5,152.5 151.5,152.8 152.5,153.0 153.5,153.3 154.5,153.6 155.5,153.9 156.5,154.2 157.4,154.5 158.5,154.9 159.5,155.2 160.5,155.6 161.5,155.9 162.5,156.3 163.5,156.7 164.5,157.1 165.4,157.5 166.5,158.0 167.5,158.4 168.5,158.9 169.5,159.4 170.5,159.9 171.5,160.4 172.5,161.0 173.4,161.5 174.2,162.0 174.9,162.5 176.0,163.3 176.9,164.0 177.5,164.6 178.4,165.5 179.0,166.2 180.0,165.7 181.0,165.3 182.0,165.1 183.5,164.9 185.0,164.9 186.5,164.8 188.0,164.8 189.5,165.0 191.0,165.2 192.5,165.4 194.0,165.6 195.5,165.8 196.6,166.0 198.0,166.2 199.5,166.4 201.0,166.7 202.5,166.9 204.0,167.1 205.5,167.3 207.0,167.6 208.5,167.8 210.0,168.1 211.5,168.4 213.0,168.3 214.5,168.0 215.5,167.8 216.5,167.6 217.5,167.3 218.5,167.0 219.5,166.8 220.5,166.5 221.5,166.3 222.5,166.1 223.5,165.8 224.5,165.6 225.5,165.3 226.5,165.0 227.5,164.7 228.5,164.4 229.5,164.0 230.5,163.7 231.5,163.4 232.5,163.0 233.5,162.6 234.5,162.3 235.5,161.9 236.5,161.6 237.5,161.2 238.5,160.9 239.5,160.5 240.5,160.2 241.5,159.9 242.5,159.6 243.5,159.3 244.5,159.1 245.5,158.8 247.0,158.6 248.5,158.4 250.0,158.2 251.5,158.3 253.0,158.4 254.5,158.5 256.0,158.7 257.5,159.0 259.0,159.2 260.5,159.4 262.0,159.6 263.5,159.8 265.0,159.9 266.5,160.0 268.0,160.0 269.5,159.9 271.0,159.8 272.5,159.6 274.0,159.3 275.0,159.1 276.0,158.8 277.0,158.6 278.0,158.3 279.0,158.0 280.0,157.7 281.0,157.3 281.9,157.0 283.0,156.6 284.0,156.2 285.0,155.8 286.0,155.4 287.0,154.9 288.0,154.5 289.0,154.1 290.0,153.6 291.0,153.2 292.0,152.7 293.0,152.2 294.0,151.8 295.0,151.3 296.0,150.9 297.0,150.4 297.9,150.0 299.0,149.5 300.0,149.1 M0.0,104.5 0.8,105.0 1.8,105.5 3.0,106.0 4.0,106.2 5.5,106.3 7.0,106.0 8.0,105.6 9.0,105.1 9.9,104.5 11.0,103.7 11.9,103.0 12.7,102.5 13.5,102.0 14.5,101.6 16.0,101.6 17.0,101.9 17.9,102.5 18.9,103.5 19.5,104.2 20.1,105.0 20.8,106.0 21.4,107.0 22.0,108.0 22.5,108.9 23.0,109.7 23.5,110.6 24.0,111.5 24.5,112.3 25.0,113.1 25.5,113.9 26.0,114.6 26.7,115.5 27.5,116.5 28.5,117.5 29.5,118.4 30.5,119.0 31.5,119.5 32.5,119.8 33.5,120.0 35.0,120.2 36.5,120.2 38.0,120.2 39.5,120.2 41.0,120.1 42.5,120.1 44.0,120.0 45.5,120.0 47.0,120.1 48.5,120.1 50.0,120.2 51.5,120.3 53.0,120.4 54.5,120.5 56.0,120.7 57.5,120.9 59.0,121.1 60.5,121.3 61.8,121.5 63.0,121.7 64.5,122.0 66.0,122.3 67.0,122.5 68.0,122.7 69.0,123.0 70.0,123.3 71.0,123.6 72.0,123.9 73.0,124.2 74.0,124.5 75.0,124.9 76.0,125.3 77.0,125.7 78.0,126.2 79.0,126.6 80.0,127.1 81.0,127.6 82.0,128.1 83.0,128.7 84.0,129.2 85.0,129.8 86.0,130.4 87.0,130.9 88.0,131.5 88.9,132.0 89.8,132.5 90.6,133.0 91.5,133.5 92.4,134.0 93.3,134.5 94.2,135.0 95.2,135.5 96.0,136.0 97.0,136.5 98.0,137.0 98.9,137.5 99.9,138.0 100.8,138.5 101.8,139.0 102.7,139.5 103.5,140.0 104.4,140.5 105.3,141.0 106.2,141.5 107.2,142.0 108.0,142.5 109.0,143.0 109.9,143.5 110.8,144.0 111.7,144.5 112.5,145.0 113.4,145.5 114.2,146.0 115.0,146.5 115.8,147.0 116.5,147.5 117.5,148.2 118.5,149.0 119.5,149.9 120.2,150.5 121.0,151.4 122.5,151.1 124.0,151.0 125.5,151.1 127.0,151.2 128.5,151.4 130.0,151.6 131.5,151.8 133.0,152.1 134.5,152.4 136.0,152.7 137.0,152.9 138.0,153.1 139.0,153.3 140.0,153.5 141.0,153.8 142.0,154.0 143.0,154.2 144.0,154.5 145.0,154.8 146.0,155.0 147.0,155.3 148.0,155.6 149.0,155.9 150.0,156.2 151.0,156.5 152.0,156.8 153.0,157.1 154.0,157.4 155.0,157.7 156.0,158.0 157.0,158.3 158.0,158.7 158.9,159.0 160.0,159.4 161.0,159.8 162.0,160.1 162.9,160.5 164.0,160.9 165.0,161.4 166.0,161.8 167.0,162.2 168.0,162.7 169.0,163.2 170.0,163.7 171.0,164.2 172.0,164.8 173.0,165.3 174.0,165.9 174.9,166.5 175.6,167.0 176.5,167.7 177.5,168.5 178.5,169.5 179.2,170.0 180.4,169.5 181.5,169.2 182.7,169.0 184.0,168.9 185.5,168.9 187.0,168.8 188.5,168.9 190.0,169.1 191.5,169.3 193.0,169.5 194.5,169.7 196.0,170.0 197.5,170.2 199.0,170.4 200.5,170.6 202.0,170.9 203.5,171.1 205.0,171.3 206.2,171.5 207.5,171.7 209.0,171.9 210.5,172.2 211.5,172.4 213.0,172.3 214.5,172.1 215.5,171.8 216.5,171.6 217.5,171.3 218.5,171.0 219.5,170.8 220.5,170.5 221.5,170.3 222.5,170.0 223.5,169.8 224.5,169.5 225.5,169.3 226.5,168.9 227.5,168.6 228.5,168.3 229.5,167.9 230.5,167.6 231.5,167.2 232.5,166.9 233.5,166.5 234.5,166.1 235.5,165.7 236.5,165.4 237.5,165.0 238.5,164.7 239.5,164.3 240.5,164.0 241.5,163.6 242.5,163.3 243.5,163.0 244.5,162.8 245.5,162.5 247.0,162.2 248.5,162.0 250.0,161.9 251.5,161.9 253.0,162.0 254.5,162.1 256.0,162.3 257.5,162.6 259.0,162.8 260.1,163.0 261.5,163.2 263.0,163.4 264.5,163.5 266.0,163.6 267.5,163.6 269.0,163.6 270.5,163.5 272.0,163.3 273.5,163.0 274.5,162.8 275.5,162.6 276.5,162.3 277.5,162.0 278.5,161.7 279.5,161.4 280.5,161.1 281.5,160.7 282.5,160.3 283.5,159.9 284.4,159.5 285.5,159.0 286.5,158.6 287.5,158.2 288.5,157.7 289.5,157.3 290.5,156.8 291.5,156.3 292.5,155.9 293.5,155.4 294.5,154.9 295.3,154.5 296.4,154.0 297.5,153.5 298.5,153.0 299.5,152.6 300.0,152.3 M0.0,108.3 1.0,108.9 2.0,109.4 3.0,109.8 4.0,110.1 5.5,110.3 7.0,110.0 8.0,109.7 9.0,109.1 10.0,108.5 10.7,108.0 11.5,107.4 12.5,106.7 13.5,106.1 14.5,105.8 16.0,105.7 16.9,106.0 17.7,106.5 18.5,107.2 19.2,108.0 20.0,109.0 20.5,109.8 21.0,110.6 21.5,111.4 22.0,112.2 22.5,113.1 23.0,114.0 23.5,114.8 24.0,115.7 24.5,116.5 25.0,117.3 25.5,118.1 26.0,118.8 26.9,120.0 27.5,120.7 28.3,121.5 29.0,122.1 30.0,122.8 31.0,123.3 32.0,123.7 33.0,123.9 34.5,124.1 36.0,124.1 37.5,124.1 38.9,124.0 40.5,123.9 42.0,123.8 43.5,123.7 45.0,123.7 46.5,123.7 48.0,123.7 49.5,123.7 51.0,123.8 52.5,123.9 54.0,124.0 55.5,124.1 57.0,124.3 58.5,124.4 60.0,124.6 61.5,124.8 62.6,125.0 64.0,125.2 65.4,125.5 66.5,125.7 67.5,125.9 68.5,126.1 69.5,126.4 70.5,126.6 71.5,126.9 72.5,127.2 73.5,127.5 74.5,127.9 75.5,128.2 76.5,128.6 77.5,129.0 78.5,129.4 79.5,129.8 80.5,130.3 81.5,130.8 82.5,131.2 83.5,131.7 84.5,132.2 85.5,132.8 86.5,133.3 87.5,133.8 88.5,134.3 89.5,134.9 90.5,135.4 91.5,135.9 92.5,136.5 93.5,137.0 94.4,137.5 95.3,138.0 96.2,138.5 97.1,139.0 98.0,139.5 98.9,140.0 99.8,140.5 100.6,141.0 101.5,141.5 102.4,142.0 103.3,142.5 104.2,143.0 105.0,143.4 106.0,144.0 107.0,144.5 107.9,145.0 108.8,145.5 109.7,146.0 110.5,146.4 111.5,147.0 112.3,147.5 113.2,148.0 114.0,148.5 114.8,149.0 115.5,149.5 116.2,150.0 117.0,150.5 118.0,151.3 118.8,152.0 119.5,152.7 120.4,153.5 121.0,154.2 122.5,154.0 124.0,154.0 125.5,154.0 127.0,154.2 128.5,154.4 130.0,154.7 131.0,154.9 132.0,155.1 133.0,155.3 134.0,155.6 135.0,155.8 136.0,156.0 137.0,156.3 138.0,156.5 139.0,156.8 140.0,157.0 141.0,157.3 142.0,157.6 143.0,157.8 144.0,158.1 145.0,158.4 146.0,158.7 147.0,159.0 148.0,159.3 149.0,159.7 149.9,160.0 151.0,160.3 152.0,160.6 153.0,160.9 154.0,161.2 155.0,161.5 156.0,161.9 157.0,162.2 158.0,162.6 159.0,162.9 160.0,163.3 161.0,163.7 162.0,164.1 163.0,164.5 164.0,164.9 165.0,165.3 166.0,165.7 167.0,166.2 168.0,166.6 169.0,167.1 170.0,167.6 171.0,168.1 172.0,168.7 173.0,169.2 174.0,169.8 175.0,170.4 175.8,171.0 176.5,171.5 177.5,172.4 178.1,173.0 179.0,173.9 179.9,173.5 181.0,173.2 182.0,173.0 183.5,172.8 185.0,172.8 186.5,172.7 188.0,172.8 189.5,172.9 191.0,173.1 192.5,173.3 194.0,173.6 195.5,173.8 196.7,174.0 198.0,174.2 199.5,174.4 201.0,174.7 202.5,174.9 204.0,175.1 205.5,175.3 206.6,175.5 208.0,175.7 209.5,176.0 211.0,176.3 212.0,176.5 213.5,176.2 215.0,175.9 216.0,175.6 217.0,175.4 218.0,175.1 219.0,174.9 220.0,174.6 221.0,174.3 222.0,174.1 223.0,173.8 224.0,173.6 225.0,173.3 226.0,173.0 227.0,172.7 228.0,172.4 229.0,172.0 230.0,171.7 231.0,171.3 232.0,170.9 233.0,170.5 234.0,170.2 235.0,169.8 236.0,169.4 237.0,169.0 238.0,168.6 239.0,168.3 240.0,167.9 241.0,167.6 242.0,167.2 243.0,166.9 244.0,166.6 245.0,166.4 246.0,166.2 247.5,165.9 249.0,165.7 250.5,165.6 252.0,165.6 253.5,165.7 255.0,165.9 256.5,166.1 258.0,166.4 259.5,166.7 261.0,166.9 262.5,167.1 264.0,167.2 265.5,167.3 267.0,167.4 268.5,167.3 270.0,167.2 271.5,167.1 273.0,166.8 274.0,166.6 275.0,166.4 276.0,166.1 277.0,165.9 278.0,165.6 279.0,165.2 280.0,164.9 281.0,164.5 282.0,164.1 283.0,163.7 284.0,163.3 285.0,162.9 286.0,162.4 286.9,162.0 288.0,161.5 289.0,161.0 290.0,160.6 291.0,160.1 292.0,159.6 293.0,159.1 294.0,158.6 295.0,158.1 296.0,157.6 297.0,157.1 298.0,156.6 299.0,156.1 300.0,155.7 M0.0,112.1 1.0,112.7 2.0,113.3 3.0,113.7 4.0,114.0 5.5,114.2 7.0,114.0 8.0,113.7 9.0,113.2 10.0,112.6 10.8,112.0 11.5,111.5 12.2,111.0 13.0,110.5 14.0,110.1 15.0,109.8 16.5,110.0 17.4,110.5 18.5,111.4 19.4,112.5 20.0,113.3 20.5,114.0 21.0,114.8 21.5,115.7 22.0,116.5 22.5,117.4 23.0,118.2 23.5,119.1 24.0,120.0 24.5,120.8 25.0,121.6 25.5,122.4 26.0,123.1 26.7,124.0 27.5,124.9 28.5,125.9 29.3,126.5 30.0,127.0 31.0,127.5 32.0,127.8 33.2,128.0 34.5,128.1 36.0,128.1 37.5,128.0 39.0,127.8 40.5,127.7 42.0,127.5 43.5,127.4 45.0,127.3 46.5,127.3 48.0,127.2 49.5,127.2 51.0,127.3 52.5,127.3 54.0,127.4 55.5,127.5 57.0,127.7 58.5,127.8 60.0,128.0 61.5,128.2 63.0,128.4 64.5,128.6 66.0,128.9 67.5,129.2 68.5,129.4 69.5,129.6 70.5,129.9 71.5,130.1 72.5,130.4 73.5,130.7 74.5,131.0 75.5,131.3 76.5,131.6 77.5,132.0 78.5,132.4 79.5,132.8 80.5,133.2 81.5,133.6 82.3,134.0 83.4,134.5 84.5,135.0 85.5,135.5 86.5,136.0 87.5,136.5 88.5,137.0 89.5,137.5 90.5,138.0 91.4,138.5 92.4,139.0 93.3,139.5 94.1,140.0 95.0,140.5 95.9,141.0 96.8,141.5 97.7,142.0 98.5,142.5 99.4,143.0 100.3,143.5 101.2,144.0 102.1,144.5 103.0,145.0 104.0,145.5 104.9,146.0 105.8,146.5 106.7,147.0 107.7,147.5 108.5,148.0 109.5,148.5 110.4,149.0 111.3,149.5 112.1,150.0 112.9,150.5 113.7,151.0 114.5,151.5 115.2,152.0 115.9,152.5 117.0,153.3 117.9,154.0 119.0,155.0 120.0,156.0 120.9,157.0 122.5,157.0 124.0,156.9 125.5,157.1 127.0,157.3 128.2,157.5 129.5,157.8 130.5,158.0 131.5,158.3 132.5,158.5 133.5,158.8 134.5,159.0 135.5,159.3 136.5,159.6 137.5,159.9 138.5,160.1 139.5,160.4 140.5,160.7 141.5,161.0 142.5,161.3 143.5,161.6 144.5,161.9 145.5,162.2 146.5,162.6 147.5,162.9 148.5,163.3 149.5,163.6 150.5,163.9 151.5,164.2 152.5,164.6 153.5,164.9 154.5,165.2 155.5,165.5 156.5,165.9 157.5,166.2 158.5,166.6 159.5,167.0 160.5,167.4 161.5,167.8 162.5,168.1 163.4,168.5 164.5,169.0 165.5,169.4 166.5,169.8 167.5,170.3 168.5,170.7 169.5,171.2 170.5,171.7 171.5,172.2 172.5,172.8 173.5,173.3 174.5,173.9 175.4,174.5 176.1,175.0 177.0,175.7 177.9,176.5 178.9,177.5 180.0,177.1 181.0,176.8 182.5,176.6 184.0,176.5 185.5,176.5 187.0,176.5 188.5,176.6 190.0,176.7 191.5,177.0 193.0,177.2 194.5,177.4 196.0,177.7 197.5,177.9 199.0,178.1 200.5,178.4 202.0,178.6 203.5,178.9 205.0,179.1 206.5,179.3 207.6,179.5 209.0,179.7 210.5,180.0 211.5,180.2 213.0,180.1 214.5,179.9 215.5,179.6 216.5,179.4 217.5,179.1 218.5,178.9 219.5,178.6 220.5,178.4 221.5,178.1 222.5,177.9 223.5,177.6 224.5,177.3 225.5,177.1 226.5,176.7 227.5,176.4 228.5,176.1 229.5,175.7 230.5,175.3 231.4,175.0 232.5,174.6 233.5,174.2 234.5,173.8 235.5,173.4 236.5,173.1 237.5,172.7 238.5,172.3 239.5,171.9 240.5,171.6 241.5,171.3 242.5,170.9 243.5,170.6 244.5,170.4 245.5,170.2 247.0,169.9 248.5,169.7 250.0,169.6 251.5,169.7 253.0,169.9 254.5,170.1 255.5,170.4 256.5,170.6 257.5,170.9 258.5,171.1 259.5,171.3 261.0,171.6 262.5,171.7 264.0,171.7 265.5,171.6 267.0,171.6 268.5,171.4 270.0,171.3 271.5,171.0 273.0,170.7 274.0,170.5 275.0,170.3 276.0,170.0 277.0,169.7 278.0,169.4 279.0,169.1 280.0,168.7 281.0,168.3 282.0,167.9 283.0,167.5 284.0,167.1 285.0,166.6 286.0,166.1 287.0,165.7 288.0,165.2 289.0,164.7 290.0,164.2 291.0,163.7 292.0,163.2 293.0,162.7 294.0,162.1 295.0,161.6 296.0,161.1 297.0,160.6 298.0,160.1 299.0,159.6 300.0,159.1 M0.0,115.9 0.9,116.5 1.7,117.0 2.7,117.5 4.0,118.0 5.0,118.2 6.5,118.2 7.5,118.0 8.5,117.6 9.5,117.0 10.3,116.5 11.0,116.0 11.8,115.5 12.5,115.0 13.4,114.5 14.5,114.1 16.0,114.1 17.0,114.5 17.7,115.0 18.5,115.7 19.2,116.5 19.9,117.5 20.5,118.3 21.0,119.1 21.5,120.0 22.0,120.8 22.5,121.7 23.0,122.5 23.5,123.4 24.0,124.3 24.5,125.1 25.0,125.9 25.5,126.7 26.0,127.4 26.9,128.5 27.5,129.2 28.3,130.0 29.5,130.9 30.5,131.4 31.5,131.8 32.5,132.0 34.0,132.1 35.5,132.1 37.0,131.9 38.5,131.7 40.0,131.5 41.5,131.3 43.0,131.1 44.5,131.0 46.0,130.9 47.5,130.8 49.0,130.8 50.5,130.8 52.0,130.8 53.5,130.9 55.0,130.9 56.5,131.0 58.0,131.2 59.5,131.3 61.0,131.5 62.5,131.7 64.0,131.9 65.5,132.1 67.0,132.4 68.5,132.6 69.5,132.8 70.5,133.1 71.5,133.3 72.5,133.5 73.5,133.8 74.5,134.1 75.5,134.4 76.5,134.7 77.4,135.0 78.5,135.4 79.5,135.7 80.5,136.1 81.4,136.5 82.5,136.9 83.5,137.4 84.5,137.8 85.5,138.3 86.5,138.7 87.5,139.2 88.5,139.7 89.5,140.3 90.5,140.8 91.5,141.3 92.5,141.9 93.5,142.4 94.5,143.0 95.4,143.5 96.4,144.0 97.3,144.5 98.2,145.0 99.0,145.4 100.0,146.0 100.9,146.5 101.9,147.0 102.8,147.5 103.7,148.0 104.5,148.4 105.5,149.0 106.5,149.5 107.4,150.0 108.3,150.5 109.2,151.0 110.0,151.4 111.0,152.0 111.8,152.5 112.6,153.0 113.4,153.5 114.1,154.0 114.9,154.5 116.0,155.3 116.8,156.0 118.0,157.0 119.0,157.9 120.0,159.0 120.9,160.0 122.3,160.0 123.5,160.0 125.0,160.1 126.5,160.3 127.5,160.5 128.5,160.8 129.5,161.0 130.5,161.3 131.5,161.6 132.5,161.8 133.5,162.1 134.5,162.4 135.5,162.7 136.5,163.1 137.5,163.4 138.5,163.7 139.5,164.0 140.5,164.3 141.5,164.6 142.5,164.9 143.5,165.3 144.5,165.6 145.5,165.9 146.5,166.3 147.5,166.6 148.5,167.0 149.5,167.4 150.5,167.7 151.5,168.0 152.5,168.3 153.5,168.7 154.5,169.0 155.5,169.3 156.5,169.7 157.5,170.0 158.5,170.4 159.5,170.8 160.5,171.2 161.4,171.5 162.5,171.9 163.5,172.3 164.5,172.7 165.5,173.1 166.5,173.6 167.5,174.0 168.5,174.5 169.5,174.9 170.5,175.4 171.5,175.9 172.5,176.4 173.5,177.0 174.4,177.5 175.2,178.0 176.0,178.5 177.0,179.2 177.9,180.0 179.0,181.0 180.0,180.6 181.0,180.4 182.5,180.1 184.0,180.1 185.5,180.1 187.0,180.1 188.5,180.1 190.0,180.3 191.1,180.5 192.5,180.7 194.0,181.0 195.5,181.2 197.0,181.5 198.5,181.7 200.0,182.0 201.5,182.2 203.0,182.5 204.5,182.7 206.0,183.0 207.5,183.2 209.0,183.5 210.5,183.8 211.5,184.0 213.0,183.9 214.5,183.7 215.5,183.5 216.5,183.2 217.5,183.0 218.5,182.7 219.5,182.5 220.5,182.2 221.5,182.0 222.5,181.7 223.5,181.5 224.5,181.2 225.5,180.9 226.5,180.6 227.5,180.2 228.5,179.9 229.5,179.5 230.5,179.2 231.5,178.8 232.5,178.4 233.5,178.0 234.5,177.6 235.5,177.2 236.5,176.9 237.5,176.5 238.5,176.1 239.5,175.8 240.5,175.4 241.5,175.1 242.5,174.8 243.5,174.5 244.5,174.3 246.0,174.0 247.5,173.8 249.0,173.8 250.5,173.9 251.5,174.2 252.5,174.4 253.5,174.8 254.5,175.1 255.5,175.6 256.5,176.1 257.5,176.7 258.5,177.2 259.5,177.6 260.5,177.9 261.7,178.0 263.0,177.8 264.0,177.5 265.0,177.2 266.0,176.8 266.9,176.5 268.0,176.1 269.0,175.8 270.0,175.6 271.0,175.3 272.0,175.0 273.0,174.8 274.0,174.5 275.0,174.2 276.0,174.0 277.0,173.7 278.0,173.4 279.0,173.1 280.0,172.7 281.0,172.3 282.0,171.9 282.9,171.5 284.0,171.0 285.0,170.5 286.0,170.1 287.0,169.6 288.0,169.1 289.0,168.5 290.0,168.0 291.0,167.5 291.9,167.0 292.8,166.5 293.8,166.0 294.7,165.5 295.5,165.1 296.5,164.5 297.5,164.0 298.4,163.5 299.4,163.0 300.0,162.7 M0.0,119.8 1.0,120.5 1.8,121.0 2.7,121.5 3.9,122.0 5.0,122.3 6.5,122.3 7.5,122.1 8.5,121.7 9.5,121.2 10.5,120.6 11.4,120.0 12.1,119.5 12.9,119.0 14.0,118.5 15.0,118.3 16.4,118.5 17.3,119.0 18.5,120.0 19.3,121.0 20.0,121.9 20.5,122.7 21.0,123.5 21.5,124.3 22.0,125.2 22.5,126.0 23.0,126.9 23.5,127.8 24.0,128.6 24.5,129.4 25.0,130.2 25.5,131.0 26.0,131.7 26.6,132.5 27.5,133.5 28.5,134.4 29.4,135.0 30.4,135.5 31.5,135.9 33.0,136.1 34.5,136.1 35.7,136.0 37.0,135.8 38.5,135.6 40.0,135.3 41.5,135.1 43.0,134.8 44.5,134.7 46.0,134.5 47.5,134.4 49.0,134.3 50.5,134.3 52.0,134.3 53.5,134.3 55.0,134.4 56.5,134.5 58.0,134.6 59.5,134.7 61.0,134.8 62.4,135.0 63.5,135.1 65.0,135.3 66.2,135.5 67.5,135.7 69.0,136.0 70.5,136.3 71.5,136.5 72.5,136.7 73.5,136.9 74.5,137.2 75.5,137.5 76.5,137.8 77.5,138.1 78.5,138.4 79.5,138.8 80.5,139.1 81.5,139.5 82.5,139.9 83.5,140.3 84.5,140.8 85.5,141.2 86.5,141.7 87.5,142.2 88.5,142.7 89.5,143.2 90.5,143.7 91.5,144.2 92.5,144.7 93.5,145.2 94.5,145.8 95.5,146.3 96.5,146.8 97.5,147.4 98.5,147.9 99.5,148.4 100.5,149.0 101.5,149.5 102.5,150.0 103.4,150.5 104.3,151.0 105.2,151.5 106.2,152.0 107.0,152.5 108.0,153.0 108.9,153.5 109.7,154.0 110.5,154.5 111.4,155.0 112.2,155.5 113.0,156.0 113.7,156.5 114.4,157.0 115.5,157.8 116.4,158.5 117.5,159.5 118.5,160.4 119.5,161.5 120.4,162.5 121.0,163.3 122.5,163.1 124.0,163.2 125.5,163.4 127.0,163.7 128.0,163.9 129.0,164.2 130.0,164.5 131.0,164.8 132.0,165.1 133.0,165.4 134.0,165.8 135.0,166.1 136.0,166.4 137.0,166.8 138.0,167.1 139.0,167.4 140.0,167.8 141.0,168.1 142.0,168.4 143.0,168.8 144.0,169.1 145.0,169.5 146.0,169.8 147.0,170.2 147.9,170.5 149.0,170.9 150.0,171.3 151.0,171.6 152.0,171.9 153.0,172.2 154.0,172.6 155.0,172.9 156.0,173.2 157.0,173.6 158.0,174.0 159.0,174.3 160.0,174.7 161.0,175.1 162.0,175.4 163.0,175.8 164.0,176.2 165.0,176.6 165.9,177.0 167.0,177.4 168.0,177.9 169.0,178.3 170.0,178.8 171.0,179.2 172.0,179.7 173.0,180.2 174.0,180.8 175.0,181.3 176.0,182.0 176.8,182.5 177.5,183.0 178.5,183.9 179.5,184.2 180.5,183.8 181.5,183.6 182.6,183.5 184.0,183.4 185.5,183.5 187.0,183.5 188.5,183.6 190.0,183.8 191.5,184.0 193.0,184.2 194.5,184.5 196.0,184.8 197.4,185.0 198.5,185.2 200.0,185.5 201.5,185.7 202.9,186.0 204.0,186.2 205.5,186.5 207.0,186.7 208.3,187.0 209.5,187.2 210.5,187.4 211.5,187.7 213.0,187.6 214.5,187.4 216.0,187.1 217.0,186.9 218.0,186.6 219.0,186.4 220.0,186.2 221.0,185.9 222.0,185.7 223.0,185.4 224.0,185.2 225.0,184.9 226.0,184.6 227.0,184.3 228.0,183.9 229.0,183.6 230.0,183.2 231.0,182.9 231.9,182.5 233.0,182.1 234.0,181.7 235.0,181.3 236.0,180.9 236.9,180.5 238.0,180.1 239.0,179.7 240.0,179.4 241.0,179.0 242.0,178.7 243.0,178.4 244.0,178.2 245.0,178.0 246.5,177.8 248.0,177.8 249.5,177.9 250.5,178.1 251.5,178.5 252.5,178.9 253.5,179.4 254.4,180.0 255.1,180.5 256.0,181.3 256.8,182.0 257.5,182.8 258.1,183.5 258.9,184.5 259.5,185.3 260.0,186.0 260.9,187.0 261.5,187.6 262.5,188.4 264.0,188.2 264.6,187.5 265.2,186.5 265.7,185.5 266.2,184.5 266.9,183.5 267.5,182.6 268.1,182.0 269.0,181.2 269.9,180.5 270.8,180.0 271.8,179.5 273.0,179.0 274.0,178.6 275.0,178.3 276.0,178.0 277.0,177.7 278.0,177.3 279.0,177.0 280.0,176.6 281.0,176.3 282.0,175.9 282.9,175.5 284.0,175.0 285.0,174.5 286.0,174.1 287.0,173.6 288.0,173.1 289.0,172.6 290.0,172.0 291.0,171.5 291.9,171.0 292.8,170.5 293.7,170.0 294.5,169.5 295.4,169.0 296.3,168.5 297.1,168.0 298.0,167.5 298.9,167.0 299.9,166.5 300.0,166.4 M0.0,123.7 1.0,124.4 1.8,125.0 2.7,125.5 3.5,125.9 4.5,126.3 5.9,126.5 7.0,126.4 8.0,126.2 9.0,125.7 10.0,125.2 11.0,124.5 11.8,124.0 12.6,123.5 13.5,123.0 14.5,122.7 16.0,122.7 17.0,123.1 18.0,123.9 18.6,124.5 19.4,125.5 20.0,126.3 20.5,127.1 21.0,127.9 21.5,128.7 22.0,129.5 22.5,130.4 23.0,131.3 23.5,132.2 24.0,133.0 24.5,133.8 25.0,134.6 25.5,135.3 26.4,136.5 27.0,137.2 27.8,138.0 28.5,138.6 29.5,139.3 30.5,139.8 31.5,140.0 33.0,140.2 34.5,140.1 36.0,139.9 37.5,139.6 38.5,139.4 39.5,139.2 40.5,139.0 42.0,138.7 43.3,138.5 44.5,138.3 46.0,138.1 47.4,138.0 49.0,137.9 50.5,137.8 52.0,137.8 53.5,137.8 55.0,137.8 56.5,137.9 58.0,138.0 59.5,138.1 61.0,138.2 62.5,138.4 63.8,138.5 65.0,138.6 66.5,138.8 67.6,139.0 69.0,139.2 70.5,139.5 72.0,139.8 73.0,140.0 74.0,140.2 75.0,140.5 76.0,140.8 77.0,141.0 78.0,141.4 79.0,141.7 79.9,142.0 81.0,142.4 82.0,142.8 83.0,143.2 83.9,143.5 85.0,144.0 86.0,144.4 87.0,144.9 88.0,145.3 89.0,145.8 90.0,146.3 91.0,146.8 92.0,147.3 93.0,147.8 94.0,148.3 95.0,148.8 96.0,149.3 97.0,149.9 98.0,150.4 99.0,150.9 100.0,151.4 101.0,152.0 102.0,152.5 103.0,153.0 103.9,153.5 104.8,154.0 105.7,154.5 106.5,154.9 107.5,155.5 108.4,156.0 109.2,156.5 110.0,157.0 110.9,157.5 111.7,158.0 112.4,158.5 113.2,159.0 114.0,159.6 115.0,160.4 115.8,161.0 116.5,161.6 117.5,162.5 118.5,163.5 119.4,164.5 120.0,165.2 120.6,166.0 121.5,166.4 123.0,166.4 124.2,166.5 125.5,166.7 126.5,166.9 127.5,167.2 128.5,167.5 129.5,167.8 130.5,168.1 131.5,168.4 132.5,168.8 133.5,169.1 134.5,169.5 135.5,169.8 136.5,170.2 137.4,170.5 138.5,170.9 139.5,171.2 140.5,171.6 141.5,171.9 142.5,172.3 143.5,172.6 144.5,173.0 145.5,173.3 146.5,173.7 147.5,174.1 148.5,174.4 149.5,174.8 150.5,175.1 151.5,175.4 152.5,175.8 153.5,176.1 154.5,176.4 155.5,176.8 156.5,177.1 157.5,177.4 158.5,177.8 159.5,178.2 160.4,178.5 161.5,178.9 162.5,179.2 163.5,179.6 164.5,180.0 165.5,180.4 166.5,180.8 167.5,181.2 168.5,181.6 169.5,182.0 170.5,182.5 171.5,182.9 172.5,183.4 173.5,183.9 174.5,184.4 175.5,184.9 176.4,185.5 177.1,186.0 178.0,186.7 179.0,187.5 180.0,187.2 181.0,186.9 182.5,186.7 184.0,186.7 185.5,186.7 187.0,186.7 188.5,186.8 189.9,187.0 191.0,187.2 192.5,187.4 194.0,187.7 195.5,188.0 197.0,188.3 198.2,188.5 199.5,188.8 200.7,189.0 202.0,189.3 203.0,189.5 204.0,189.7 205.0,189.9 206.0,190.1 207.0,190.3 208.0,190.5 209.0,190.7 210.0,190.9 211.0,191.2 212.0,191.4 213.5,191.2 215.0,191.1 216.0,190.8 217.0,190.6 218.0,190.4 219.0,190.2 220.0,190.0 221.0,189.7 222.0,189.5 223.0,189.3 224.0,189.1 225.0,188.8 226.0,188.5 227.0,188.2 228.0,187.9 229.0,187.6 230.0,187.2 231.0,186.9 232.0,186.5 233.0,186.1 234.0,185.7 235.0,185.3 236.0,184.9 237.0,184.5 238.0,184.1 239.0,183.7 240.0,183.4 240.9,183.0 242.0,182.6 243.0,182.3 244.0,182.0 245.0,181.8 246.5,181.6 248.0,181.7 249.5,181.9 250.5,182.2 251.5,182.7 252.5,183.4 253.3,184.0 254.0,184.7 254.8,185.5 255.5,186.4 256.3,187.5 257.0,188.5 257.5,189.3 258.0,190.0 258.5,190.8 259.0,191.5 259.5,192.2 260.1,193.0 260.9,194.0 261.5,194.7 262.3,195.5 263.0,196.1 264.0,196.8 265.0,197.1 266.5,196.7 267.3,195.5 267.7,194.5 268.1,193.5 268.3,192.5 268.6,191.5 268.8,190.5 269.1,189.5 269.5,188.5 269.9,187.5 270.4,186.5 271.0,185.6 271.9,184.5 273.0,183.6 274.0,183.0 274.9,182.5 276.0,182.0 277.0,181.7 278.0,181.3 279.0,180.9 280.0,180.6 281.0,180.2 282.0,179.8 283.0,179.4 283.8,179.0 284.9,178.5 286.0,178.0 287.0,177.6 288.0,177.1 289.0,176.6 290.0,176.1 291.0,175.5 292.0,175.0 292.9,174.5 293.8,174.0 294.6,173.5 295.5,173.0 296.4,172.5 297.2,172.0 298.0,171.6 299.0,171.0 299.8,170.5 300.0,170.4 M0.0,127.7 1.0,128.4 1.8,129.0 2.6,129.5 3.5,130.0 4.5,130.4 5.5,130.7 7.0,130.7 8.0,130.4 9.0,130.0 9.9,129.5 10.7,129.0 11.5,128.5 12.3,128.0 13.2,127.5 14.5,127.1 16.0,127.1 17.0,127.5 18.0,128.3 18.7,129.0 19.5,130.0 20.0,130.7 20.5,131.5 21.0,132.3 21.5,133.1 22.0,134.0 22.5,134.8 23.0,135.7 23.5,136.5 24.0,137.4 24.5,138.2 25.0,139.0 25.5,139.7 26.1,140.5 27.0,141.5 28.0,142.5 29.0,143.2 30.0,143.8 31.0,144.1 32.5,144.3 34.0,144.2 35.5,144.0 36.5,143.8 37.5,143.6 38.5,143.3 39.5,143.1 40.5,142.8 41.5,142.6 42.5,142.4 44.0,142.1 45.5,141.8 47.0,141.6 48.3,141.5 49.5,141.4 51.0,141.3 52.5,141.3 54.0,141.3 55.5,141.3 57.0,141.3 58.5,141.4 59.9,141.5 61.0,141.6 62.5,141.7 64.0,141.9 65.3,142.0 66.5,142.2 68.0,142.4 69.5,142.6 71.0,142.8 72.5,143.1 73.5,143.3 74.5,143.6 75.5,143.8 76.5,144.1 77.5,144.4 78.5,144.7 79.5,145.0 80.5,145.3 81.5,145.6 82.5,146.0 83.5,146.4 84.5,146.8 85.5,147.2 86.5,147.6 87.5,148.1 88.4,148.5 89.5,149.0 90.5,149.5 91.5,149.9 92.5,150.4 93.5,150.9 94.5,151.4 95.5,151.9 96.5,152.4 97.5,152.9 98.5,153.4 99.5,154.0 100.5,154.5 101.5,155.0 102.4,155.5 103.3,156.0 104.2,156.5 105.1,157.0 106.0,157.5 106.9,158.0 107.8,158.5 108.6,159.0 109.4,159.5 110.2,160.0 111.0,160.5 111.8,161.0 112.5,161.5 113.5,162.2 114.5,163.0 115.5,163.9 116.2,164.5 117.0,165.2 117.8,166.0 118.5,166.8 119.2,167.5 120.0,168.5 120.5,169.2 121.0,169.9 122.5,169.8 124.0,169.9 125.5,170.2 126.5,170.4 127.5,170.7 128.5,171.0 129.5,171.3 130.5,171.7 131.5,172.0 132.5,172.4 133.5,172.7 134.5,173.1 135.5,173.5 136.5,173.8 137.5,174.2 138.4,174.5 139.5,174.9 140.5,175.2 141.5,175.6 142.5,176.0 143.5,176.3 144.5,176.7 145.5,177.0 146.5,177.4 147.5,177.7 148.5,178.1 149.5,178.5 150.5,178.8 151.5,179.1 152.5,179.4 153.5,179.7 154.5,180.0 155.5,180.4 156.5,180.7 157.5,181.0 158.5,181.4 159.5,181.7 160.5,182.1 161.5,182.4 162.5,182.8 163.5,183.1 164.5,183.5 165.5,183.8 166.5,184.2 167.5,184.6 168.5,185.0 169.5,185.4 170.5,185.8 171.5,186.2 172.5,186.6 173.5,187.1 174.3,187.5 175.3,188.0 176.2,188.5 176.9,189.0 177.7,189.5 178.5,190.2 179.5,190.4 180.5,190.1 182.0,189.8 183.5,189.7 185.0,189.8 186.5,189.8 188.0,189.9 189.1,190.0 190.5,190.2 192.0,190.5 193.5,190.8 194.7,191.0 196.0,191.3 197.0,191.5 198.0,191.7 199.0,191.9 200.0,192.1 201.0,192.4 202.0,192.6 203.0,192.8 204.0,193.0 205.0,193.3 206.0,193.5 207.0,193.7 208.0,194.0 209.0,194.2 210.0,194.5 211.0,194.7 212.0,195.0 213.5,194.9 215.0,194.7 216.2,194.5 217.5,194.3 218.8,194.0 220.0,193.8 221.0,193.6 222.0,193.4 223.0,193.1 224.0,192.9 225.0,192.7 226.0,192.5 227.0,192.2 228.0,191.9 229.0,191.6 230.0,191.3 231.0,191.0 232.0,190.7 233.0,190.4 234.0,190.0 235.0,189.7 236.0,189.3 237.0,189.0 238.0,188.7 239.0,188.3 239.9,188.0 241.0,187.6 242.0,187.3 243.0,187.0 244.0,186.7 245.0,186.5 246.5,186.3 248.0,186.4 249.5,186.7 250.5,187.1 251.5,187.8 252.4,188.5 253.5,189.5 254.4,190.5 255.3,191.5 256.0,192.4 256.9,193.5 257.5,194.2 258.1,195.0 258.9,196.0 259.8,197.0 260.5,197.8 261.2,198.5 262.0,199.3 262.8,200.0 263.5,200.6 264.5,201.2 265.5,201.7 266.5,202.0 268.0,201.6 268.6,201.0 269.3,200.0 269.7,199.0 270.0,198.0 270.3,197.0 270.6,196.0 270.8,195.0 271.1,194.0 271.4,193.0 271.7,192.0 272.1,191.0 272.5,190.1 273.0,189.3 273.5,188.6 274.5,187.5 275.5,186.7 276.5,186.1 277.5,185.6 278.5,185.1 279.5,184.7 280.5,184.3 281.5,183.9 282.4,183.5 283.5,183.1 284.5,182.6 285.5,182.2 286.5,181.7 287.5,181.3 288.5,180.8 289.5,180.3 290.5,179.8 291.5,179.2 292.5,178.7 293.5,178.1 294.5,177.6 295.5,177.0 296.4,176.5 297.3,176.0 298.2,175.5 299.0,175.0 300.0,174.5 300.0,174.5 M0.0,131.7 1.0,132.5 2.0,133.2 3.0,133.9 4.0,134.4 5.0,134.8 6.5,135.0 8.0,134.7 9.0,134.3 10.0,133.8 11.0,133.2 12.0,132.6 13.0,132.0 14.0,131.6 15.5,131.4 16.5,131.7 17.5,132.3 18.3,133.0 19.0,133.8 19.5,134.5 20.2,135.5 20.9,136.5 21.5,137.5 22.0,138.4 22.5,139.3 23.0,140.1 23.5,141.0 24.0,141.8 24.5,142.6 25.0,143.4 25.5,144.1 26.2,145.0 27.0,145.9 27.6,146.5 28.5,147.2 29.5,147.8 30.5,148.2 31.5,148.4 33.0,148.4 34.5,148.2 35.5,148.0 36.5,147.8 37.5,147.5 38.5,147.2 39.5,146.9 40.5,146.6 41.5,146.4 42.5,146.1 43.5,145.9 44.5,145.7 46.0,145.4 47.5,145.2 49.0,145.0 50.5,144.9 52.0,144.8 53.5,144.8 55.0,144.7 56.5,144.8 58.0,144.8 59.5,144.9 61.0,145.0 62.5,145.1 64.0,145.2 65.5,145.4 66.7,145.5 68.0,145.7 69.5,145.9 71.0,146.1 72.5,146.4 74.0,146.7 75.0,146.9 76.0,147.1 77.0,147.4 78.0,147.7 79.0,148.0 80.0,148.3 81.0,148.6 82.0,148.9 83.0,149.3 84.0,149.7 84.9,150.0 86.0,150.5 87.0,150.9 88.0,151.3 89.0,151.7 90.0,152.2 91.0,152.7 92.0,153.1 93.0,153.6 93.8,154.0 94.8,154.5 95.9,155.0 96.9,155.5 97.8,156.0 98.8,156.5 99.8,157.0 100.7,157.5 101.7,158.0 102.5,158.4 103.5,159.0 104.4,159.5 105.3,160.0 106.1,160.5 107.0,161.0 107.8,161.5 108.6,162.0 109.4,162.5 110.2,163.0 110.9,163.5 111.7,164.0 112.5,164.6 113.5,165.4 114.3,166.0 115.0,166.6 116.0,167.5 117.0,168.5 117.9,169.5 118.8,170.5 119.5,171.3 120.4,172.5 121.0,173.4 122.5,173.3 124.0,173.4 125.5,173.7 126.5,174.0 127.5,174.3 128.5,174.6 129.5,174.9 130.5,175.3 131.5,175.6 132.5,176.0 133.5,176.4 134.5,176.7 135.5,177.1 136.5,177.5 137.5,177.8 138.5,178.2 139.5,178.6 140.5,178.9 141.5,179.3 142.5,179.6 143.5,180.0 144.5,180.3 145.5,180.7 146.4,181.0 147.5,181.4 148.5,181.7 149.5,182.1 150.5,182.4 151.5,182.7 152.5,183.0 153.5,183.3 154.5,183.6 155.5,183.9 156.5,184.2 157.5,184.6 158.5,184.9 159.5,185.2 160.5,185.5 161.5,185.9 162.5,186.2 163.5,186.5 164.5,186.8 165.5,187.2 166.5,187.5 167.5,187.9 168.5,188.2 169.5,188.6 170.5,189.0 171.5,189.4 172.5,189.8 173.5,190.2 174.5,190.7 175.5,191.2 176.5,191.7 177.5,192.4 178.3,193.0 179.0,193.6 180.0,193.2 181.0,193.0 182.5,192.8 184.0,192.7 185.5,192.7 187.0,192.8 188.5,192.9 190.0,193.2 191.5,193.4 193.0,193.7 194.0,193.9 195.0,194.2 196.0,194.4 197.0,194.6 198.0,194.9 199.0,195.1 200.0,195.4 201.0,195.6 202.0,195.9 203.0,196.1 204.0,196.4 205.0,196.6 206.0,196.9 207.0,197.2 208.0,197.4 209.0,197.7 210.0,198.0 211.0,198.3 212.0,198.6 213.5,198.5 215.0,198.4 216.5,198.2 218.0,197.9 219.5,197.6 221.0,197.4 222.5,197.1 224.0,196.8 225.5,196.5 226.5,196.2 227.5,196.0 228.5,195.7 229.5,195.5 230.5,195.2 231.5,195.0 232.5,194.7 233.5,194.4 234.5,194.2 235.5,193.9 236.5,193.7 237.5,193.5 238.5,193.2 239.5,193.0 240.5,192.8 241.5,192.6 242.5,192.3 244.0,192.1 245.5,191.9 247.0,191.8 248.5,191.9 249.5,192.1 250.5,192.5 251.5,193.0 252.3,193.5 253.0,194.0 254.0,194.8 254.9,195.5 256.0,196.5 257.0,197.5 258.0,198.5 259.0,199.5 260.0,200.4 261.0,201.4 261.6,202.0 262.5,202.8 263.3,203.5 264.0,204.1 265.0,204.8 266.0,205.3 267.0,205.7 268.5,205.7 269.5,205.2 270.2,204.5 270.8,203.5 271.3,202.5 271.6,201.5 271.9,200.5 272.2,199.5 272.5,198.6 272.8,197.5 273.1,196.5 273.4,195.5 273.8,194.5 274.3,193.5 274.9,192.5 275.5,191.7 276.1,191.0 277.0,190.2 278.0,189.6 279.0,189.0 280.0,188.5 281.0,188.0 282.0,187.6 283.0,187.2 284.0,186.7 285.0,186.3 286.0,185.8 287.0,185.4 287.8,185.0 288.9,184.5 289.9,184.0 290.9,183.5 291.8,183.0 292.8,182.5 293.7,182.0 294.5,181.6 295.5,181.0 296.4,180.5 297.3,180.0 298.2,179.5 299.1,179.0 300.0,178.5 M0.0,135.7 0.9,136.5 2.0,137.4 2.9,138.0 3.8,138.5 4.9,139.0 6.0,139.2 7.5,139.2 8.5,138.9 9.4,138.5 10.3,138.0 11.2,137.5 12.0,137.0 12.9,136.5 14.0,136.0 15.5,135.9 16.5,136.2 17.5,136.8 18.3,137.5 19.0,138.3 19.5,139.0 20.2,140.0 20.9,141.0 21.5,142.0 22.0,142.9 22.5,143.7 22.9,144.5 23.5,145.4 24.0,146.2 24.5,147.0 25.0,147.8 25.5,148.5 26.3,149.5 27.0,150.2 27.9,151.0 29.0,151.8 30.0,152.2 31.0,152.5 32.5,152.5 34.0,152.4 35.0,152.1 36.0,151.9 37.0,151.6 38.0,151.3 39.0,150.9 40.0,150.6 41.0,150.3 42.0,150.0 43.0,149.7 44.0,149.5 45.0,149.3 46.0,149.1 47.5,148.8 49.0,148.6 50.5,148.4 52.0,148.3 53.5,148.3 55.0,148.2 56.5,148.2 58.0,148.3 59.5,148.3 61.0,148.4 62.5,148.5 64.0,148.6 65.5,148.7 67.0,148.9 68.5,149.1 70.0,149.3 71.5,149.5 73.0,149.8 74.3,150.0 75.5,150.3 76.5,150.5 77.5,150.7 78.5,151.0 79.5,151.3 80.5,151.6 81.5,151.9 82.5,152.2 83.5,152.6 84.5,153.0 85.5,153.3 86.5,153.7 87.5,154.1 88.5,154.6 89.5,155.0 90.5,155.4 91.5,155.9 92.5,156.4 93.5,156.8 94.5,157.3 95.5,157.8 96.5,158.3 97.5,158.8 98.5,159.3 99.5,159.8 100.5,160.4 101.5,160.9 102.5,161.5 103.5,162.0 104.3,162.5 105.2,163.0 106.0,163.5 106.9,164.0 107.7,164.5 108.4,165.0 109.2,165.5 110.0,166.0 110.7,166.5 111.5,167.1 112.5,167.9 113.3,168.5 114.0,169.1 115.0,170.0 116.0,170.9 117.0,172.0 117.9,173.0 118.8,174.0 119.5,174.9 120.3,176.0 121.0,177.0 122.5,176.9 124.0,177.0 125.5,177.3 126.5,177.6 127.5,177.9 128.5,178.2 129.5,178.6 130.5,178.9 131.5,179.3 132.5,179.7 133.4,180.0 134.5,180.4 135.5,180.8 136.5,181.2 137.5,181.5 138.5,181.9 139.5,182.2 140.5,182.6 141.5,182.9 142.5,183.3 143.5,183.6 144.5,184.0 145.5,184.3 146.5,184.6 147.5,185.0 148.5,185.3 149.5,185.7 150.5,186.0 151.5,186.3 152.5,186.5 153.5,186.8 154.5,187.1 155.5,187.4 156.5,187.7 157.5,188.0 158.5,188.3 159.5,188.6 160.5,188.9 161.5,189.2 162.5,189.5 163.5,189.8 164.5,190.1 165.5,190.4 166.5,190.7 167.5,191.0 168.5,191.4 169.5,191.7 170.5,192.1 171.5,192.5 172.5,192.8 173.5,193.2 174.5,193.7 175.5,194.1 176.5,194.7 177.5,195.3 178.4,196.0 179.5,196.3 180.5,196.0 182.0,195.7 183.5,195.6 185.0,195.7 186.5,195.7 188.0,195.8 189.4,196.0 190.5,196.2 191.5,196.4 192.5,196.6 193.5,196.9 194.5,197.1 195.5,197.3 196.5,197.6 197.5,197.9 198.5,198.1 199.5,198.4 200.5,198.7 201.5,199.0 202.5,199.3 203.5,199.6 204.5,199.9 205.5,200.2 206.5,200.5 207.5,200.8 208.5,201.1 209.5,201.4 210.5,201.7 211.5,202.0 213.0,202.2 214.5,202.1 215.7,202.0 217.0,201.8 218.5,201.6 220.0,201.3 221.5,201.1 223.0,200.8 224.5,200.6 225.5,200.4 226.5,200.1 227.5,199.9 228.5,199.7 229.5,199.4 230.5,199.2 231.5,199.0 232.5,198.8 233.5,198.5 234.5,198.3 236.0,198.1 237.5,197.8 239.0,197.6 240.5,197.4 242.0,197.2 243.5,197.1 245.0,196.9 246.5,196.9 248.0,196.9 249.4,197.0 250.5,197.2 251.5,197.5 252.5,197.9 253.5,198.4 254.5,199.0 255.4,199.5 256.1,200.0 257.0,200.7 258.0,201.5 259.0,202.4 259.7,203.0 260.5,203.7 261.3,204.5 262.0,205.1 263.0,206.0 264.0,206.8 264.9,207.5 266.0,208.3 267.0,208.9 268.0,209.3 269.5,209.3 270.5,208.8 271.3,208.0 271.9,207.0 272.4,206.0 272.8,205.0 273.2,204.0 273.6,203.0 273.9,202.0 274.2,201.0 274.5,200.1 274.9,199.0 275.3,198.0 275.8,197.0 276.4,196.0 277.0,195.1 278.0,194.1 278.7,193.5 279.5,192.9 280.5,192.3 281.5,191.8 282.5,191.3 283.5,190.8 284.5,190.4 285.5,189.9 286.5,189.5 287.5,189.0 288.5,188.6 289.5,188.1 290.5,187.6 291.5,187.1 292.5,186.6 293.5,186.0 294.5,185.5 295.4,185.0 296.4,184.5 297.3,184.0 298.2,183.5 299.0,183.1 300.0,182.5 M0.0,139.8 0.8,140.5 1.5,141.2 2.5,141.9 3.3,142.5 4.2,143.0 5.5,143.5 7.0,143.6 8.5,143.3 9.5,142.9 10.5,142.3 11.5,141.7 12.5,141.2 13.5,140.7 14.5,140.4 16.0,140.5 17.0,140.9 17.8,141.5 18.5,142.2 19.2,143.0 19.9,144.0 20.5,144.9 21.0,145.7 21.5,146.5 22.0,147.4 22.5,148.2 23.0,149.0 23.5,149.9 24.0,150.7 24.5,151.4 25.0,152.2 25.6,153.0 26.4,154.0 27.5,155.0 28.5,155.8 29.5,156.3 30.5,156.6 32.0,156.7 33.5,156.6 34.5,156.3 35.5,156.0 36.5,155.7 37.5,155.4 38.5,155.0 39.5,154.6 40.5,154.3 41.4,154.0 42.5,153.7 43.5,153.4 44.5,153.1 45.5,152.9 46.5,152.6 48.0,152.4 49.5,152.1 50.7,152.0 52.0,151.9 53.5,151.8 55.0,151.7 56.5,151.7 58.0,151.7 59.5,151.8 61.0,151.8 62.5,151.9 63.9,152.0 65.0,152.1 66.5,152.2 68.0,152.4 69.5,152.6 71.0,152.8 72.5,153.0 74.0,153.2 75.3,153.5 76.5,153.8 77.5,154.0 78.5,154.3 79.5,154.5 80.5,154.8 81.5,155.1 82.5,155.4 83.5,155.8 84.5,156.1 85.5,156.5 86.5,156.9 87.5,157.3 88.5,157.7 89.5,158.1 90.4,158.5 91.5,159.0 92.5,159.5 93.5,159.9 94.5,160.4 95.5,160.9 96.5,161.4 97.5,161.9 98.5,162.4 99.5,162.9 100.5,163.5 101.4,164.0 102.3,164.5 103.2,165.0 104.0,165.5 104.9,166.0 105.7,166.5 106.5,167.0 107.3,167.5 108.0,168.0 108.8,168.5 109.5,169.0 110.5,169.7 111.5,170.5 112.5,171.3 113.4,172.0 114.0,172.6 115.0,173.5 116.0,174.5 117.0,175.5 117.9,176.5 118.5,177.2 119.1,178.0 119.8,179.0 120.5,179.9 121.0,180.7 122.5,180.6 124.0,180.7 125.5,181.0 126.5,181.3 127.5,181.6 128.5,181.9 129.5,182.2 130.5,182.6 131.5,183.0 132.5,183.3 133.5,183.7 134.5,184.1 135.5,184.5 136.5,184.8 137.5,185.2 138.4,185.5 139.5,185.9 140.5,186.2 141.5,186.6 142.5,186.9 143.5,187.2 144.5,187.6 145.5,187.9 146.5,188.2 147.5,188.6 148.5,188.9 149.5,189.2 150.5,189.5 151.5,189.8 152.5,190.0 153.5,190.3 154.5,190.6 155.5,190.8 156.5,191.1 157.5,191.4 158.5,191.7 159.5,191.9 160.5,192.2 161.5,192.5 162.5,192.8 163.5,193.0 164.5,193.3 165.5,193.6 166.5,193.9 167.5,194.2 168.5,194.5 169.5,194.8 170.5,195.1 171.5,195.5 172.5,195.8 173.5,196.2 174.5,196.6 175.5,197.1 176.3,197.5 177.1,198.0 177.9,198.5 179.0,199.4 180.0,199.0 181.0,198.8 182.5,198.6 184.0,198.5 185.5,198.6 187.0,198.6 188.5,198.8 189.7,199.0 191.0,199.3 192.0,199.5 193.0,199.7 194.0,200.0 195.0,200.3 196.0,200.6 197.0,200.9 198.0,201.2 199.0,201.5 200.0,201.8 201.0,202.1 202.0,202.4 203.0,202.8 204.0,203.1 205.0,203.4 206.0,203.8 207.0,204.1 208.0,204.5 209.0,204.8 210.0,205.2 211.0,205.5 212.0,205.9 213.5,205.9 215.0,205.9 216.5,205.7 217.7,205.5 219.0,205.3 220.5,205.1 222.0,204.9 223.5,204.6 225.0,204.4 226.0,204.1 227.0,203.9 228.0,203.7 229.0,203.4 230.0,203.2 231.0,203.0 232.0,202.7 233.0,202.5 234.0,202.3 235.5,202.1 237.0,201.8 238.5,201.6 240.0,201.4 241.5,201.3 243.0,201.1 244.5,201.0 246.0,200.9 247.5,200.9 249.0,200.9 250.4,201.0 251.5,201.2 252.5,201.5 253.5,201.8 254.5,202.2 255.5,202.7 256.5,203.3 257.5,204.0 258.5,204.8 259.4,205.5 260.5,206.4 261.1,207.0 262.0,207.8 262.8,208.5 263.5,209.1 264.5,210.0 265.2,210.5 266.0,211.2 267.0,211.9 268.0,212.5 269.0,212.8 270.5,212.9 271.4,212.5 272.4,211.5 273.0,210.5 273.5,209.5 273.9,208.5 274.3,207.5 274.6,206.5 275.0,205.5 275.4,204.5 275.7,203.5 276.1,202.5 276.5,201.6 277.0,200.6 277.5,199.7 278.0,198.9 278.8,198.0 279.5,197.3 280.5,196.5 281.2,196.0 282.0,195.5 283.0,195.0 284.0,194.5 285.0,194.0 286.0,193.6 287.0,193.1 288.0,192.7 289.0,192.2 290.0,191.7 291.0,191.2 292.0,190.7 293.0,190.2 294.0,189.7 295.0,189.2 296.0,188.6 297.0,188.1 298.0,187.5 299.0,187.0 299.9,186.5 300.0,186.5 M0.0,144.0 1.0,144.9 1.7,145.5 2.5,146.2 3.5,146.9 4.5,147.4 5.5,147.8 6.8,148.0 8.0,147.9 9.0,147.6 10.0,147.1 11.0,146.5 11.9,146.0 12.8,145.5 14.0,145.0 15.5,144.9 16.5,145.2 17.5,145.8 18.3,146.5 19.0,147.3 19.5,148.0 20.2,149.0 20.9,150.0 21.5,151.0 22.0,151.8 22.5,152.7 23.0,153.5 23.5,154.3 24.0,155.1 24.5,155.9 25.0,156.6 25.7,157.5 26.5,158.4 27.5,159.4 28.4,160.0 29.3,160.5 30.5,160.8 32.0,160.9 33.5,160.7 34.5,160.4 35.5,160.1 36.5,159.7 37.5,159.3 38.5,158.9 39.5,158.5 40.5,158.2 41.5,157.8 42.5,157.5 43.5,157.1 44.5,156.8 45.5,156.6 46.5,156.3 47.5,156.1 49.0,155.8 50.5,155.6 51.6,155.5 53.0,155.4 54.5,155.3 56.0,155.2 57.5,155.2 59.0,155.2 60.5,155.3 62.0,155.3 63.5,155.4 65.0,155.5 66.5,155.7 68.0,155.8 69.5,156.0 71.0,156.1 72.5,156.4 74.0,156.6 75.5,156.9 76.5,157.1 77.5,157.3 78.5,157.6 79.5,157.8 80.5,158.1 81.5,158.4 82.5,158.7 83.5,159.0 84.5,159.4 85.5,159.8 86.5,160.1 87.5,160.5 88.5,160.9 89.5,161.3 90.5,161.8 91.5,162.2 92.5,162.7 93.5,163.1 94.5,163.6 95.5,164.1 96.5,164.6 97.5,165.1 98.5,165.6 99.5,166.2 100.5,166.7 101.5,167.3 102.5,167.9 103.5,168.5 104.3,169.0 105.1,169.5 105.9,170.0 106.7,170.5 107.4,171.0 108.1,171.5 108.9,172.0 110.0,172.8 110.9,173.5 112.0,174.4 112.7,175.0 113.5,175.7 114.4,176.5 115.4,177.5 116.4,178.5 117.0,179.2 117.7,180.0 118.5,180.9 119.3,182.0 120.0,182.9 120.5,183.7 121.0,184.4 122.5,184.3 124.0,184.4 125.5,184.7 126.5,185.0 127.5,185.3 128.5,185.6 129.5,185.9 130.5,186.3 131.5,186.7 132.4,187.0 133.5,187.4 134.5,187.8 135.5,188.1 136.5,188.5 137.5,188.8 138.5,189.2 139.4,189.5 140.5,189.9 141.5,190.2 142.5,190.5 143.5,190.8 144.5,191.1 145.5,191.5 146.5,191.8 147.5,192.1 148.5,192.4 149.5,192.7 150.5,193.0 151.5,193.2 152.5,193.5 153.5,193.7 154.5,194.0 155.5,194.2 156.5,194.5 157.5,194.7 158.5,195.0 159.5,195.2 160.5,195.5 161.5,195.7 162.5,196.0 163.5,196.2 164.5,196.5 165.5,196.7 166.5,197.0 167.5,197.2 168.5,197.5 169.5,197.8 170.5,198.1 171.5,198.5 172.5,198.8 173.5,199.2 174.5,199.6 175.4,200.0 176.4,200.5 177.2,201.0 178.0,201.5 179.0,202.3 180.0,201.9 181.0,201.7 182.3,201.5 183.5,201.4 185.0,201.5 186.5,201.5 188.0,201.7 189.5,202.0 190.5,202.2 191.5,202.4 192.5,202.7 193.5,203.0 194.5,203.3 195.5,203.6 196.5,203.9 197.5,204.2 198.5,204.6 199.5,204.9 200.5,205.3 201.5,205.7 202.5,206.1 203.5,206.4 204.5,206.8 205.5,207.2 206.5,207.6 207.5,208.0 208.5,208.4 209.5,208.8 210.5,209.2 211.5,209.6 212.5,209.8 214.0,209.8 215.5,209.7 217.0,209.5 218.5,209.3 220.0,209.1 221.5,208.8 223.0,208.6 224.5,208.4 226.0,208.0 227.0,207.8 228.0,207.6 229.0,207.3 230.0,207.1 231.0,206.9 232.0,206.7 233.0,206.4 234.0,206.2 235.2,206.0 236.5,205.8 238.0,205.6 239.5,205.4 241.0,205.2 242.5,205.0 244.0,204.9 245.5,204.8 247.0,204.7 248.5,204.6 250.0,204.6 251.5,204.7 252.9,205.0 254.0,205.3 255.0,205.6 256.0,206.1 257.0,206.7 258.0,207.3 259.0,208.0 260.0,208.8 260.9,209.5 262.0,210.4 262.7,211.0 263.5,211.7 264.4,212.5 265.5,213.5 266.5,214.3 267.4,215.0 268.1,215.5 269.0,216.0 270.0,216.4 271.1,216.5 272.5,216.0 273.4,215.0 274.0,214.1 274.5,213.0 274.9,212.0 275.3,211.0 275.7,210.0 276.0,209.1 276.4,208.0 276.8,207.0 277.2,206.0 277.6,205.0 278.2,204.0 278.7,203.0 279.5,202.0 280.3,201.0 281.0,200.4 282.0,199.6 282.9,199.0 283.8,198.5 284.8,198.0 285.8,197.5 286.9,197.0 288.0,196.5 289.0,196.0 290.0,195.5 291.0,195.1 292.0,194.6 293.0,194.1 294.0,193.5 295.0,193.0 296.0,192.5 297.0,192.0 297.9,191.5 298.8,191.0 299.8,190.5 300.0,190.4 M0.0,148.1 0.9,149.0 1.5,149.6 2.5,150.5 3.2,151.0 4.0,151.5 4.9,152.0 6.0,152.3 7.5,152.4 8.5,152.2 9.5,151.8 10.5,151.3 11.5,150.7 12.5,150.2 13.5,149.7 14.5,149.5 15.8,149.5 17.0,150.0 17.7,150.5 18.5,151.3 19.1,152.0 19.9,153.0 20.5,153.9 21.0,154.7 21.5,155.5 22.0,156.3 22.5,157.2 23.0,158.0 23.5,158.8 24.0,159.6 24.5,160.3 25.0,161.1 25.5,161.9 26.0,162.6 26.7,163.5 27.5,164.3 28.5,165.0 29.5,165.3 31.0,165.4 32.5,165.2 33.5,164.9 34.5,164.6 35.5,164.2 36.5,163.8 37.5,163.3 38.5,162.9 39.4,162.5 40.5,162.1 41.5,161.7 42.5,161.3 43.5,160.9 44.5,160.6 45.5,160.3 46.5,160.1 47.5,159.8 48.5,159.6 50.0,159.3 51.5,159.1 52.8,159.0 54.0,158.9 55.5,158.8 57.0,158.8 58.5,158.8 60.0,158.8 61.5,158.8 63.0,158.9 64.5,159.0 66.0,159.1 67.5,159.2 69.0,159.4 70.2,159.5 71.5,159.7 73.0,159.9 74.5,160.1 76.0,160.4 77.0,160.6 78.0,160.8 79.0,161.1 80.0,161.4 81.0,161.6 82.0,161.9 83.0,162.2 84.0,162.6 85.0,162.9 86.0,163.3 87.0,163.7 88.0,164.1 89.0,164.5 90.0,164.9 91.0,165.3 92.0,165.8 93.0,166.3 94.0,166.7 95.0,167.2 96.0,167.7 97.0,168.2 98.0,168.8 99.0,169.3 100.0,169.9 101.0,170.5 101.9,171.0 102.7,171.5 103.5,172.0 104.3,172.5 105.1,173.0 105.9,173.5 106.6,174.0 107.3,174.5 108.1,175.0 109.0,175.7 110.0,176.4 110.7,177.0 111.5,177.6 112.5,178.4 113.5,179.3 114.2,180.0 115.0,180.8 115.7,181.5 116.5,182.3 117.1,183.0 118.0,184.0 118.5,184.7 119.1,185.5 119.9,186.5 120.5,187.4 121.0,188.2 122.5,188.1 124.0,188.2 125.5,188.5 126.5,188.7 127.5,189.0 128.5,189.3 129.5,189.7 130.5,190.0 131.5,190.4 132.5,190.7 133.5,191.1 134.5,191.5 135.5,191.8 136.5,192.2 137.5,192.5 138.5,192.8 139.5,193.2 140.5,193.5 141.5,193.8 142.5,194.1 143.5,194.4 144.5,194.7 145.5,195.0 146.5,195.3 147.5,195.6 148.5,195.9 149.5,196.2 150.5,196.5 151.5,196.7 152.5,196.9 153.5,197.1 154.5,197.4 155.5,197.6 156.5,197.8 157.5,198.0 158.5,198.3 159.5,198.5 160.5,198.7 161.5,198.9 162.5,199.2 163.5,199.4 164.5,199.6 165.5,199.8 166.5,200.1 167.5,200.3 168.5,200.6 169.5,200.9 170.5,201.2 171.5,201.5 172.5,201.8 173.5,202.2 174.5,202.6 175.4,203.0 176.4,203.5 177.2,204.0 177.9,204.5 179.0,205.4 180.0,205.0 181.0,204.7 182.5,204.5 184.0,204.5 185.5,204.5 187.0,204.6 188.5,204.8 189.5,205.1 190.5,205.3 191.5,205.6 192.5,205.9 193.5,206.2 194.5,206.6 195.5,206.9 196.5,207.3 197.5,207.7 198.5,208.1 199.5,208.5 200.5,208.9 201.5,209.3 202.5,209.7 203.5,210.2 204.5,210.6 205.5,211.0 206.5,211.4 207.5,211.9 208.5,212.3 209.5,212.7 210.5,213.1 211.5,213.6 212.5,213.8 214.0,213.8 215.5,213.7 217.0,213.5 218.5,213.3 220.0,213.1 221.5,212.9 223.0,212.6 224.5,212.3 225.5,212.1 226.5,211.9 227.5,211.7 228.5,211.4 229.5,211.2 230.5,210.9 231.5,210.7 232.5,210.5 233.5,210.3 234.5,210.1 236.0,209.8 237.5,209.5 239.0,209.3 240.5,209.1 242.0,208.9 243.5,208.8 245.0,208.6 246.5,208.5 248.0,208.4 249.5,208.3 251.0,208.3 252.5,208.5 254.0,208.7 255.0,208.9 256.0,209.3 257.0,209.8 258.0,210.3 259.0,210.9 259.9,211.5 261.0,212.3 261.8,213.0 262.5,213.6 263.5,214.4 264.2,215.0 265.0,215.7 265.9,216.5 267.0,217.5 267.7,218.0 268.5,218.6 269.5,219.3 270.5,219.7 271.5,220.0 273.0,219.8 274.0,219.1 274.8,218.0 275.3,217.0 275.8,216.0 276.2,215.0 276.5,214.1 276.9,213.0 277.2,212.0 277.6,211.0 278.0,210.0 278.4,209.0 278.9,208.0 279.4,207.0 280.0,206.1 280.9,205.0 281.5,204.3 282.4,203.5 283.5,202.7 284.5,202.1 285.5,201.5 286.5,201.0 287.5,200.5 288.5,200.1 289.5,199.6 290.5,199.1 291.5,198.6 292.5,198.1 293.5,197.6 294.5,197.1 295.5,196.6 296.5,196.1 297.5,195.6 298.5,195.1 299.5,194.5 300.0,194.3 M0.0,152.4 0.6,153.0 1.5,153.9 2.2,154.5 3.0,155.2 4.0,155.9 5.0,156.4 6.0,156.8 7.5,156.9 9.0,156.5 10.0,156.1 11.0,155.5 12.0,155.0 13.0,154.5 14.0,154.1 15.5,154.0 16.5,154.3 17.5,154.9 18.2,155.5 19.0,156.4 19.8,157.5 20.5,158.5 21.0,159.2 21.5,160.0 22.0,160.9 22.5,162.0 22.9,163.0 23.2,164.0 23.4,165.0 23.7,166.0 24.0,167.0 24.3,168.0 24.6,169.0 25.2,170.0 26.0,170.6 27.0,170.9 28.5,170.9 30.0,170.6 31.0,170.3 32.0,169.9 33.0,169.5 34.0,169.1 35.0,168.6 36.0,168.1 37.0,167.6 38.0,167.1 39.0,166.7 40.0,166.2 41.0,165.8 42.0,165.3 42.9,165.0 44.0,164.6 45.0,164.3 46.0,164.0 47.0,163.7 48.0,163.4 49.0,163.2 50.2,163.0 51.5,162.8 53.0,162.6 54.5,162.5 56.0,162.4 57.5,162.4 59.0,162.4 60.5,162.4 62.0,162.4 63.5,162.5 65.0,162.6 66.5,162.7 68.0,162.8 69.5,162.9 71.0,163.1 72.5,163.3 73.7,163.5 75.0,163.7 76.5,164.0 77.5,164.2 78.5,164.5 79.5,164.7 80.5,165.0 81.5,165.3 82.5,165.6 83.5,165.9 84.5,166.2 85.5,166.6 86.5,166.9 87.5,167.3 88.5,167.7 89.5,168.2 90.5,168.6 91.4,169.0 92.5,169.5 93.5,170.0 94.5,170.5 95.5,171.0 96.5,171.5 97.4,172.0 98.3,172.5 99.2,173.0 100.0,173.4 100.9,174.0 101.8,174.5 102.6,175.0 103.4,175.5 104.2,176.0 104.9,176.5 105.7,177.0 106.4,177.5 107.1,178.0 107.8,178.5 109.0,179.4 109.8,180.0 111.0,180.9 111.7,181.5 112.5,182.2 113.4,183.0 114.5,184.0 115.5,185.0 116.4,186.0 117.0,186.7 117.7,187.5 118.5,188.5 119.3,189.5 120.0,190.5 120.5,191.2 121.0,192.0 122.5,191.9 124.0,192.0 125.5,192.2 126.5,192.5 127.5,192.7 128.5,193.1 129.5,193.4 130.5,193.7 131.5,194.1 132.5,194.4 133.5,194.8 134.5,195.1 135.5,195.5 136.5,195.8 137.5,196.1 138.5,196.4 139.5,196.8 140.5,197.1 141.5,197.4 142.5,197.7 143.5,198.0 144.5,198.3 145.5,198.5 146.5,198.8 147.5,199.1 148.5,199.4 149.5,199.7 150.5,199.9 151.5,200.1 152.5,200.3 153.5,200.5 154.5,200.7 155.5,200.9 156.5,201.1 157.5,201.4 158.5,201.6 159.5,201.8 160.5,202.0 161.5,202.2 162.5,202.4 163.5,202.6 164.5,202.8 165.5,203.0 166.5,203.2 167.5,203.5 168.5,203.7 169.5,204.0 170.5,204.3 171.5,204.6 172.5,205.0 173.5,205.3 174.5,205.7 175.5,206.2 176.5,206.7 177.5,207.4 178.2,208.0 179.0,208.7 180.0,208.3 181.0,208.0 182.5,207.7 184.0,207.7 185.5,207.8 187.0,207.9 188.5,208.2 189.5,208.4 190.5,208.7 191.5,209.0 192.5,209.4 193.5,209.7 194.5,210.1 195.5,210.5 196.5,210.9 197.5,211.4 198.5,211.8 199.5,212.3 200.5,212.8 201.5,213.2 202.5,213.7 203.5,214.2 204.5,214.7 205.5,215.1 206.5,215.6 207.4,216.0 208.5,216.5 209.5,216.9 210.5,217.4 211.5,217.8 212.5,218.0 214.0,218.0 215.5,217.9 217.0,217.7 218.2,217.5 219.5,217.3 221.0,217.0 222.5,216.8 224.0,216.5 225.0,216.3 226.0,216.1 227.0,215.8 228.0,215.6 229.0,215.3 230.0,215.1 231.0,214.8 232.0,214.6 233.0,214.3 234.0,214.1 235.0,213.9 236.5,213.6 238.0,213.4 239.5,213.2 240.8,213.0 242.0,212.8 243.5,212.7 244.9,212.5 246.5,212.4 248.0,212.2 249.5,212.1 251.0,212.0 252.5,212.1 254.0,212.2 255.5,212.5 256.5,212.8 257.5,213.2 258.5,213.6 259.5,214.2 260.5,214.8 261.5,215.5 262.5,216.3 263.4,217.0 264.5,217.9 265.5,218.8 266.3,219.5 267.0,220.1 268.0,221.0 269.0,221.8 270.0,222.5 270.9,223.0 272.0,223.4 273.5,223.5 274.5,223.0 275.5,222.0 276.0,221.2 276.5,220.2 277.0,219.0 277.4,218.0 277.7,217.0 278.1,216.0 278.4,215.0 278.8,214.0 279.2,213.0 279.6,212.0 280.1,211.0 280.7,210.0 281.4,209.0 282.0,208.2 282.7,207.5 283.5,206.8 284.5,206.1 285.4,205.5 286.3,205.0 287.2,204.5 288.2,204.0 289.3,203.5 290.3,203.0 291.4,202.5 292.4,202.0 293.4,201.5 294.4,201.0 295.4,200.5 296.4,200.0 297.3,199.5 298.3,199.0 299.3,198.5 300.0,198.1 M0.0,156.6 0.8,157.5 1.5,158.2 2.4,159.0 3.5,159.9 4.4,160.5 5.3,161.0 6.5,161.4 8.0,161.4 9.0,161.1 10.0,160.6 11.0,160.1 12.0,159.5 13.0,159.0 14.0,158.7 15.5,158.6 16.5,158.8 17.5,159.4 18.5,160.4 19.0,161.1 19.4,162.0 19.8,163.0 20.0,164.5 20.0,166.0 19.6,167.5 19.3,168.5 18.7,169.5 18.0,170.5 17.5,171.2 16.8,172.0 16.1,173.0 15.6,174.0 15.3,175.0 15.4,176.5 15.7,177.5 16.4,178.5 17.5,179.4 18.5,179.8 19.5,180.0 21.0,180.0 22.5,179.7 23.5,179.4 24.3,179.0 25.3,178.5 26.1,178.0 26.9,177.5 27.7,177.0 28.5,176.5 29.4,176.0 30.2,175.5 31.1,175.0 32.0,174.5 32.9,174.0 33.8,173.5 34.7,173.0 35.5,172.6 36.5,172.0 37.5,171.5 38.4,171.0 39.4,170.5 40.4,170.0 41.5,169.5 42.5,169.1 43.5,168.6 44.5,168.3 45.5,167.9 46.5,167.6 47.5,167.3 48.5,167.1 49.5,166.9 51.0,166.6 52.5,166.4 54.0,166.2 55.5,166.1 57.0,166.1 58.5,166.0 60.0,166.0 61.5,166.1 63.0,166.1 64.5,166.2 66.0,166.3 67.5,166.4 68.9,166.5 70.0,166.6 71.5,166.8 73.0,167.0 74.5,167.2 76.0,167.5 77.0,167.7 78.0,167.9 79.0,168.2 80.0,168.4 81.0,168.7 82.0,169.0 83.0,169.3 84.0,169.7 85.0,170.0 86.0,170.4 87.0,170.8 88.0,171.2 89.0,171.6 90.0,172.0 91.0,172.5 92.0,172.9 93.0,173.4 94.0,173.9 95.0,174.4 96.0,174.9 97.0,175.4 98.0,176.0 98.9,176.5 99.8,177.0 100.6,177.5 101.5,178.0 102.3,178.5 103.1,179.0 103.8,179.5 104.6,180.0 105.3,180.5 106.1,181.0 106.8,181.5 107.5,182.0 108.5,182.7 109.5,183.5 110.5,184.3 111.4,185.0 112.5,186.0 113.5,186.9 114.1,187.5 115.0,188.3 115.6,189.0 116.5,189.9 117.5,191.0 118.0,191.7 118.7,192.5 119.4,193.5 120.0,194.3 120.5,195.0 121.0,195.8 122.5,195.6 124.0,195.7 125.5,196.0 126.5,196.2 127.5,196.5 128.5,196.8 129.5,197.1 130.5,197.4 131.5,197.8 132.5,198.1 133.5,198.5 134.5,198.8 135.5,199.1 136.5,199.4 137.5,199.8 138.5,200.1 139.5,200.4 140.5,200.7 141.5,201.0 142.5,201.2 143.5,201.5 144.5,201.8 145.5,202.1 146.5,202.3 147.5,202.6 148.5,202.9 149.5,203.1 150.5,203.4 152.0,203.7 153.5,204.0 155.0,204.2 156.3,204.5 157.5,204.7 158.9,205.0 160.0,205.2 161.5,205.5 163.0,205.8 164.1,206.0 165.5,206.3 166.5,206.5 167.5,206.8 168.5,207.0 169.5,207.3 170.5,207.6 171.5,207.9 172.5,208.2 173.5,208.6 174.4,209.0 175.4,209.5 176.2,210.0 177.0,210.5 178.0,211.3 178.7,212.0 180.0,211.9 181.0,211.5 182.5,211.3 184.0,211.3 185.5,211.4 186.9,211.5 188.0,211.7 189.0,211.9 190.0,212.3 191.0,212.6 192.0,213.0 193.0,213.4 194.0,213.9 195.0,214.3 196.0,214.8 197.0,215.3 198.0,215.8 199.0,216.3 200.0,216.8 201.0,217.4 202.0,217.9 203.0,218.4 204.0,218.9 205.0,219.4 206.0,219.8 207.0,220.3 208.0,220.8 209.0,221.2 210.0,221.6 210.9,222.0 212.0,222.5 213.5,222.4 215.0,222.3 216.5,222.1 218.0,221.8 219.5,221.5 221.0,221.2 222.1,221.0 223.5,220.7 224.6,220.5 226.0,220.2 227.0,219.9 228.0,219.6 229.0,219.4 230.0,219.1 231.0,218.8 232.0,218.6 233.0,218.4 234.0,218.1 235.0,217.9 236.5,217.6 238.0,217.4 239.5,217.1 241.0,216.9 242.5,216.7 244.0,216.5 245.5,216.3 247.0,216.2 248.5,216.0 250.0,215.9 251.5,215.8 253.0,215.8 254.5,215.9 255.6,216.0 257.0,216.3 258.0,216.6 258.9,217.0 259.9,217.5 260.8,218.0 261.6,218.5 262.4,219.0 263.5,219.9 264.3,220.5 265.0,221.1 266.0,221.9 266.6,222.5 267.5,223.2 268.4,224.0 269.5,224.9 270.3,225.5 271.0,226.0 271.9,226.5 273.0,226.9 274.5,227.0 275.5,226.5 276.5,225.5 277.0,224.7 277.5,223.7 278.0,222.5 278.4,221.5 278.7,220.5 279.1,219.5 279.4,218.5 279.8,217.5 280.2,216.5 280.6,215.5 281.0,214.7 281.5,213.7 282.0,212.9 282.5,212.2 283.1,211.5 284.0,210.6 284.7,210.0 285.5,209.4 286.5,208.8 287.5,208.2 288.5,207.7 289.5,207.2 290.5,206.7 291.5,206.2 292.5,205.7 293.5,205.2 294.5,204.7 295.5,204.2 296.5,203.7 297.5,203.2 298.5,202.7 299.5,202.2 300.0,202.0 M0.0,160.9 1.0,162.0 1.9,163.0 2.5,163.6 3.4,164.5 4.0,165.1 5.0,166.0 6.0,166.9 7.0,167.9 7.6,168.5 8.4,169.5 9.0,170.5 9.4,171.5 9.7,172.5 10.0,173.5 10.3,174.5 10.6,175.5 10.9,176.5 11.3,177.5 11.8,178.5 12.5,179.5 13.3,180.5 14.0,181.2 14.8,182.0 15.5,182.6 16.5,183.3 17.5,183.8 18.5,184.1 20.0,184.4 21.5,184.2 22.5,184.0 23.5,183.7 24.5,183.2 25.5,182.8 26.5,182.2 27.5,181.6 28.5,181.0 29.4,180.5 30.2,180.0 31.0,179.5 31.8,179.0 32.6,178.5 33.4,178.0 34.2,177.5 35.0,177.0 35.8,176.5 36.7,176.0 37.5,175.5 38.5,175.0 39.4,174.5 40.4,174.0 41.4,173.5 42.5,173.0 43.5,172.6 44.5,172.2 45.5,171.8 46.4,171.5 47.5,171.2 48.5,170.9 49.5,170.7 50.5,170.5 52.0,170.2 53.5,170.0 55.0,169.9 56.5,169.8 58.0,169.8 59.5,169.7 61.0,169.8 62.5,169.8 64.0,169.9 65.5,169.9 67.0,170.0 68.5,170.2 70.0,170.3 71.5,170.5 73.0,170.7 74.5,170.9 76.0,171.2 77.0,171.4 78.0,171.6 79.0,171.9 80.0,172.2 81.0,172.4 82.0,172.7 83.0,173.0 84.0,173.4 85.0,173.7 86.0,174.1 87.0,174.5 88.0,174.9 89.0,175.3 90.0,175.7 91.0,176.2 92.0,176.6 93.0,177.1 94.0,177.6 95.0,178.1 96.0,178.7 97.0,179.2 98.0,179.7 99.0,180.3 100.0,180.9 101.0,181.5 101.8,182.0 102.6,182.5 103.4,183.0 104.1,183.5 104.9,184.0 105.6,184.5 106.3,185.0 107.0,185.5 108.0,186.2 109.0,187.0 109.7,187.5 110.5,188.1 111.5,188.9 112.5,189.8 113.3,190.5 114.0,191.2 114.8,192.0 115.5,192.7 116.3,193.5 117.0,194.3 117.6,195.0 118.4,196.0 119.0,196.7 119.6,197.5 120.3,198.5 120.9,199.5 122.5,199.4 124.0,199.5 125.5,199.7 126.5,200.0 127.5,200.2 128.5,200.5 129.5,200.8 130.5,201.1 131.5,201.5 132.5,201.8 133.5,202.1 134.5,202.4 135.5,202.8 136.5,203.1 137.5,203.4 138.5,203.7 139.5,204.0 140.5,204.3 141.5,204.5 142.5,204.8 143.5,205.1 144.5,205.4 145.5,205.6 146.5,205.9 147.5,206.1 148.5,206.4 149.5,206.7 150.5,206.9 152.0,207.2 153.5,207.4 155.0,207.7 156.5,208.0 158.0,208.3 159.2,208.5 160.5,208.7 161.9,209.0 163.0,209.2 164.0,209.4 165.0,209.6 166.0,209.9 167.0,210.1 168.0,210.3 169.0,210.6 170.0,210.9 171.0,211.3 172.0,211.6 173.0,212.0 174.0,212.5 175.0,213.0 175.8,213.5 177.0,214.4 177.7,215.0 178.5,215.9 179.5,216.2 180.5,215.8 181.5,215.5 183.0,215.3 184.5,215.4 185.8,215.5 187.0,215.7 188.5,216.0 189.5,216.4 190.5,216.8 191.5,217.2 192.5,217.7 193.5,218.2 194.5,218.7 195.5,219.2 196.5,219.8 197.5,220.3 198.5,220.9 199.5,221.4 200.5,221.9 201.5,222.5 202.5,223.0 203.5,223.5 204.5,223.9 205.5,224.4 206.5,224.8 207.5,225.2 208.5,225.7 209.4,226.0 210.5,226.4 211.5,226.8 213.0,226.9 214.5,226.8 216.0,226.5 217.0,226.3 218.0,226.1 219.0,225.9 220.0,225.7 221.0,225.4 222.0,225.2 223.0,225.0 224.0,224.8 225.0,224.6 226.0,224.3 227.0,224.0 228.0,223.7 229.0,223.4 230.0,223.2 231.0,222.9 232.0,222.6 233.0,222.4 234.0,222.1 235.0,221.9 236.0,221.7 237.1,221.5 238.5,221.2 240.0,221.0 241.5,220.8 243.0,220.6 244.5,220.4 246.0,220.2 247.5,220.0 249.0,219.8 250.5,219.7 252.0,219.6 253.5,219.5 255.0,219.5 256.5,219.7 258.0,220.0 259.0,220.3 260.0,220.7 261.0,221.1 262.0,221.7 263.0,222.3 264.0,223.0 265.0,223.8 265.9,224.5 267.0,225.5 268.0,226.3 268.8,227.0 269.5,227.6 270.5,228.4 271.3,229.0 272.0,229.5 272.9,230.0 274.0,230.4 275.4,230.5 276.5,230.0 277.5,229.0 278.0,228.2 278.5,227.2 279.0,226.0 279.4,225.0 279.7,224.0 280.1,223.0 280.4,222.0 280.8,221.0 281.1,220.0 281.5,219.1 282.0,218.0 282.5,217.1 283.0,216.3 283.5,215.6 284.4,214.5 285.5,213.5 286.5,212.7 287.5,212.1 288.5,211.5 289.5,211.0 290.5,210.5 291.5,210.0 292.5,209.5 293.5,209.0 294.5,208.5 295.5,208.0 296.5,207.5 297.5,207.0 298.5,206.5 299.5,206.0 300.0,205.8 M0.0,165.3 0.9,166.5 1.5,167.2 2.1,168.0 2.9,169.0 3.5,169.8 4.3,171.0 5.0,172.0 5.5,172.8 6.0,173.7 6.5,174.5 7.0,175.5 7.5,176.5 8.0,177.5 8.5,178.4 9.0,179.2 9.5,180.0 10.0,180.7 10.6,181.5 11.3,182.5 12.0,183.3 12.6,184.0 13.5,185.0 14.5,186.0 15.5,186.9 16.5,187.5 17.4,188.0 18.5,188.4 20.0,188.6 21.2,188.5 22.5,188.2 23.5,187.9 24.3,187.5 25.4,187.0 26.3,186.5 27.1,186.0 28.0,185.5 28.8,185.0 29.6,184.5 30.4,184.0 31.1,183.5 31.9,183.0 32.7,182.5 33.5,182.0 34.3,181.5 35.1,181.0 35.9,180.5 36.7,180.0 37.5,179.5 38.4,179.0 39.3,178.5 40.3,178.0 41.2,177.5 42.3,177.0 43.4,176.5 44.5,176.0 45.5,175.7 46.5,175.3 47.5,175.0 48.5,174.7 49.5,174.5 50.5,174.3 52.0,174.0 53.5,173.8 55.0,173.7 56.5,173.6 58.0,173.5 59.5,173.5 61.0,173.5 62.5,173.6 64.0,173.6 65.5,173.7 67.0,173.8 68.5,173.9 70.0,174.1 71.5,174.3 73.0,174.5 74.5,174.7 76.0,175.0 77.0,175.2 78.0,175.4 79.0,175.7 80.0,175.9 81.0,176.2 82.0,176.5 83.0,176.8 84.0,177.1 85.0,177.5 86.0,177.9 87.0,178.3 88.0,178.7 89.0,179.1 90.0,179.5 91.0,180.0 92.0,180.4 93.0,180.9 94.0,181.4 95.0,181.9 96.0,182.5 97.0,183.0 97.9,183.5 98.7,184.0 99.6,184.5 100.4,185.0 101.3,185.5 102.0,186.0 102.8,186.5 103.6,187.0 104.3,187.5 105.1,188.0 105.8,188.5 106.5,189.0 107.5,189.7 108.5,190.5 109.2,191.0 110.0,191.6 111.0,192.4 111.7,193.0 112.5,193.7 113.4,194.5 114.4,195.5 115.4,196.5 116.4,197.5 117.0,198.2 117.7,199.0 118.5,199.9 119.3,201.0 120.0,201.9 120.5,202.6 121.0,203.4 122.5,203.2 124.0,203.3 125.5,203.5 126.5,203.7 127.5,204.0 128.5,204.2 129.5,204.5 130.5,204.8 131.5,205.2 132.5,205.5 133.5,205.8 134.5,206.1 135.5,206.4 136.5,206.7 137.5,207.0 138.5,207.3 139.5,207.6 140.5,207.9 141.5,208.1 142.5,208.4 143.5,208.7 144.5,208.9 145.5,209.2 146.5,209.5 147.5,209.7 148.5,210.0 149.5,210.2 150.5,210.4 152.0,210.7 153.5,211.0 155.0,211.3 156.2,211.5 157.5,211.8 158.8,212.0 160.0,212.2 161.3,212.5 162.5,212.7 163.5,213.0 164.5,213.2 165.5,213.4 166.5,213.7 167.5,213.9 168.5,214.2 169.5,214.6 170.5,214.9 171.5,215.3 172.5,215.8 173.5,216.3 174.5,216.9 175.4,217.5 176.5,218.4 177.1,219.0 178.0,220.0 178.7,221.0 180.0,220.8 181.0,220.4 182.0,220.2 183.5,220.1 185.0,220.3 186.5,220.5 187.5,220.7 188.5,221.0 189.5,221.4 190.5,221.9 191.5,222.4 192.5,222.9 193.5,223.4 194.5,224.0 195.5,224.5 196.4,225.0 197.3,225.5 198.3,226.0 199.2,226.5 200.2,227.0 201.3,227.5 202.4,228.0 203.5,228.5 204.5,228.9 205.5,229.3 206.5,229.7 207.4,230.0 208.5,230.4 209.5,230.7 210.5,231.0 211.5,231.4 213.0,231.4 214.5,231.2 215.6,231.0 217.0,230.7 218.0,230.4 219.0,230.2 220.0,229.9 221.0,229.7 222.0,229.4 223.0,229.2 224.0,229.0 225.0,228.7 226.0,228.4 227.0,228.1 228.0,227.8 229.0,227.5 230.0,227.3 231.0,227.0 232.0,226.7 233.0,226.4 234.0,226.2 235.0,225.9 236.0,225.7 237.0,225.5 238.5,225.2 239.9,225.0 241.0,224.8 242.5,224.6 244.0,224.4 245.5,224.2 246.9,224.0 248.0,223.9 249.5,223.6 251.0,223.5 252.5,223.4 254.0,223.3 255.5,223.3 257.0,223.3 258.2,223.5 259.5,223.8 260.5,224.1 261.5,224.5 262.5,225.0 263.4,225.5 264.1,226.0 264.9,226.5 266.0,227.4 266.8,228.0 267.5,228.6 268.5,229.4 269.5,230.3 270.3,231.0 271.0,231.5 272.0,232.3 273.0,233.0 273.9,233.5 275.0,233.9 276.4,234.0 277.5,233.5 278.5,232.5 279.0,231.7 279.5,230.7 280.0,229.5 280.3,228.5 280.7,227.5 281.0,226.6 281.4,225.5 281.7,224.5 282.1,223.5 282.5,222.5 283.0,221.5 283.5,220.5 284.0,219.6 284.5,218.9 285.2,218.0 286.0,217.2 286.9,216.5 288.0,215.7 289.0,215.1 290.0,214.5 291.0,214.0 292.0,213.5 293.0,213.0 294.0,212.5 295.0,212.0 296.0,211.5 297.0,211.0 298.0,210.5 299.0,210.0 300.0,209.5 M0.0,169.9 0.8,171.0 1.5,172.0 2.0,172.7 2.5,173.5 3.0,174.2 3.5,175.0 4.0,175.8 4.5,176.7 5.0,177.5 5.5,178.3 6.0,179.1 6.5,179.9 7.0,180.7 7.5,181.4 8.0,182.1 8.5,182.9 9.0,183.6 9.5,184.3 10.4,185.5 11.0,186.3 11.9,187.5 12.5,188.2 13.2,189.0 14.0,189.8 14.8,190.5 15.5,191.1 16.5,191.7 17.5,192.2 18.5,192.5 20.0,192.7 21.5,192.6 22.5,192.3 23.5,192.0 24.5,191.5 25.5,191.0 26.5,190.5 27.3,190.0 28.1,189.5 28.9,189.0 29.7,188.5 30.4,188.0 31.2,187.5 32.0,187.0 32.7,186.5 33.5,186.0 34.3,185.5 35.1,185.0 35.9,184.5 36.7,184.0 37.5,183.5 38.3,183.0 39.2,182.5 40.0,182.1 41.0,181.5 42.0,181.0 43.0,180.5 44.0,180.1 45.0,179.7 46.0,179.3 47.0,179.0 48.0,178.7 49.0,178.4 50.0,178.2 51.0,178.0 52.5,177.7 54.0,177.5 55.5,177.4 57.0,177.3 58.5,177.3 60.0,177.3 61.5,177.3 63.0,177.3 64.5,177.4 65.9,177.5 67.0,177.6 68.5,177.7 70.0,177.9 71.1,178.0 72.5,178.2 74.0,178.4 75.5,178.7 76.5,178.9 77.5,179.1 78.5,179.4 79.5,179.6 80.5,179.9 81.5,180.2 82.5,180.5 83.5,180.8 84.5,181.2 85.4,181.5 86.5,181.9 87.5,182.3 88.5,182.7 89.5,183.2 90.5,183.6 91.3,184.0 92.4,184.5 93.4,185.0 94.4,185.5 95.3,186.0 96.2,186.5 97.2,187.0 98.0,187.5 98.9,188.0 99.8,188.5 100.6,189.0 101.4,189.5 102.2,190.0 102.9,190.5 103.7,191.0 104.5,191.5 105.2,192.0 105.9,192.5 106.6,193.0 107.5,193.6 108.5,194.4 109.3,195.0 110.5,195.9 111.2,196.5 112.0,197.2 113.0,198.0 114.0,199.0 115.0,199.9 116.0,200.9 117.0,202.0 117.9,203.0 118.5,203.8 119.1,204.5 119.8,205.5 120.5,206.5 121.0,207.2 122.5,207.0 124.0,207.0 125.5,207.2 126.5,207.4 127.5,207.7 128.5,207.9 129.5,208.2 130.5,208.5 131.5,208.8 132.5,209.1 133.5,209.5 134.5,209.8 135.5,210.1 136.5,210.4 137.5,210.7 138.5,210.9 139.5,211.2 140.5,211.5 141.5,211.8 142.5,212.0 143.5,212.3 144.5,212.6 145.5,212.8 146.5,213.1 147.5,213.3 148.5,213.6 149.5,213.9 150.5,214.1 152.0,214.4 153.5,214.7 155.0,215.0 156.0,215.2 157.0,215.4 158.0,215.6 159.0,215.8 160.0,216.0 161.0,216.3 162.0,216.5 163.0,216.7 164.0,217.0 165.0,217.3 166.0,217.6 167.0,217.9 168.0,218.2 169.0,218.6 170.0,219.0 171.0,219.5 172.0,220.0 172.9,220.5 173.7,221.0 174.4,221.5 175.5,222.4 176.5,223.4 177.4,224.5 178.0,225.3 178.5,226.1 179.0,227.0 179.7,226.5 180.9,226.0 182.0,225.8 183.5,225.7 185.0,226.0 186.5,226.2 187.5,226.4 188.5,226.7 189.5,227.2 190.5,227.6 191.5,228.1 192.5,228.6 193.5,229.1 194.5,229.6 195.3,230.0 196.4,230.5 197.4,231.0 198.5,231.5 199.5,231.9 200.5,232.3 201.5,232.7 202.5,233.1 203.5,233.4 204.5,233.8 205.5,234.1 206.5,234.4 207.5,234.7 208.5,235.0 209.5,235.2 210.5,235.5 211.5,235.8 213.0,235.8 214.5,235.5 215.5,235.3 216.5,235.1 217.5,234.8 218.5,234.5 219.5,234.3 220.5,234.0 221.5,233.8 222.5,233.5 223.5,233.2 224.5,233.0 225.5,232.7 226.5,232.4 227.5,232.1 228.5,231.8 229.4,231.5 230.5,231.2 231.5,230.9 232.5,230.6 233.5,230.3 234.5,230.1 235.5,229.8 236.5,229.6 237.5,229.4 239.0,229.1 240.5,228.9 242.0,228.6 243.5,228.4 245.0,228.2 246.4,228.0 247.5,227.8 249.0,227.6 250.5,227.4 252.0,227.3 253.5,227.2 255.0,227.0 256.5,227.0 258.0,227.1 259.5,227.2 260.5,227.4 261.5,227.7 262.5,228.1 263.5,228.6 264.5,229.2 265.5,229.8 266.5,230.5 267.5,231.3 268.3,232.0 269.0,232.6 270.0,233.4 270.7,234.0 271.5,234.6 272.5,235.4 273.3,236.0 274.1,236.5 275.0,237.0 276.0,237.4 277.2,237.5 278.5,237.0 279.5,236.0 280.0,235.2 280.5,234.1 281.0,233.0 281.3,232.0 281.7,231.0 282.0,230.0 282.3,229.0 282.7,228.0 283.0,227.1 283.4,226.0 283.9,225.0 284.4,224.0 285.0,223.0 285.5,222.2 286.1,221.5 287.0,220.5 288.0,219.7 289.0,219.0 289.8,218.5 290.6,218.0 291.5,217.5 292.5,217.0 293.5,216.5 294.5,216.0 295.5,215.5 296.5,215.0 297.5,214.5 298.5,214.0 299.5,213.5 300.0,213.3 M0.0,174.4 0.5,175.1 1.0,175.9 1.5,176.6 2.0,177.4 2.5,178.2 3.0,178.9 3.5,179.7 4.0,180.5 4.5,181.2 5.0,182.0 5.5,182.7 6.0,183.5 6.5,184.2 7.0,185.0 7.5,185.7 8.0,186.4 8.5,187.1 9.0,187.9 9.5,188.6 10.2,189.5 10.9,190.5 11.5,191.2 12.2,192.0 13.0,192.9 14.0,193.9 15.0,194.8 15.9,195.5 16.8,196.0 18.0,196.5 19.0,196.7 20.5,196.8 22.0,196.5 23.0,196.2 24.0,195.8 25.0,195.3 26.0,194.8 27.0,194.2 28.0,193.6 28.9,193.0 29.7,192.5 30.5,192.0 31.2,191.5 32.0,191.0 32.7,190.5 33.5,190.0 34.2,189.5 35.0,189.0 35.8,188.5 36.6,188.0 37.4,187.5 38.2,187.0 39.0,186.5 39.9,186.0 40.8,185.5 41.8,185.0 42.8,184.5 43.9,184.0 45.0,183.5 46.0,183.2 47.0,182.8 48.0,182.5 49.0,182.2 50.0,182.0 51.0,181.8 52.5,181.5 54.0,181.3 55.5,181.2 57.0,181.1 58.5,181.1 60.0,181.1 61.5,181.1 63.0,181.1 64.5,181.2 66.0,181.3 67.5,181.4 69.0,181.6 70.5,181.7 72.0,181.9 73.5,182.2 75.0,182.4 76.0,182.6 77.0,182.8 78.0,183.1 79.0,183.3 80.0,183.6 81.0,183.9 82.0,184.2 82.9,184.5 84.0,184.9 85.0,185.2 86.0,185.6 87.0,186.0 88.0,186.4 89.0,186.9 90.0,187.3 91.0,187.8 92.0,188.2 93.0,188.7 94.0,189.3 95.0,189.8 96.0,190.3 97.0,190.9 98.0,191.4 99.0,192.0 99.8,192.5 100.7,193.0 101.5,193.5 102.2,194.0 103.0,194.5 103.8,195.0 104.5,195.5 105.3,196.0 106.0,196.5 106.7,197.0 107.5,197.6 108.5,198.3 109.4,199.0 110.5,199.8 111.3,200.5 112.0,201.1 113.0,201.9 114.0,202.9 114.7,203.5 115.5,204.3 116.2,205.0 117.0,205.9 118.0,207.0 118.8,208.0 119.5,208.9 120.3,210.0 121.0,211.0 122.5,210.8 124.0,210.8 125.5,211.0 127.0,211.3 128.0,211.5 129.0,211.8 130.0,212.1 131.0,212.4 132.0,212.7 133.0,213.0 134.0,213.3 135.0,213.6 136.0,213.9 137.0,214.2 138.0,214.4 139.0,214.7 140.0,215.0 141.0,215.3 142.0,215.5 143.0,215.8 144.0,216.1 145.0,216.3 146.0,216.6 147.0,216.9 148.0,217.2 149.0,217.4 150.0,217.7 151.0,217.9 152.0,218.1 153.0,218.3 154.0,218.6 155.0,218.8 156.0,219.0 157.0,219.3 158.0,219.5 159.0,219.8 160.0,220.0 161.0,220.3 162.0,220.6 163.0,220.9 164.0,221.2 165.0,221.5 166.0,221.9 167.0,222.3 168.0,222.7 169.0,223.2 170.0,223.7 171.0,224.3 172.0,225.0 172.8,225.5 173.5,226.0 174.5,226.8 175.2,227.5 176.0,228.3 176.6,229.0 177.3,230.0 178.0,231.0 178.5,231.7 179.0,232.6 180.0,232.1 181.0,231.7 182.5,231.6 184.0,231.7 185.5,231.9 187.0,232.2 188.0,232.4 189.0,232.8 190.0,233.2 191.0,233.6 192.0,234.0 193.0,234.4 194.0,234.8 195.0,235.2 196.0,235.6 197.0,236.0 198.0,236.4 199.0,236.7 200.0,237.0 201.0,237.4 202.0,237.7 203.0,238.0 204.0,238.3 205.0,238.5 206.0,238.8 207.0,239.0 208.0,239.3 209.0,239.5 210.0,239.7 211.0,240.0 212.0,240.2 213.2,240.0 214.5,239.8 215.5,239.5 216.5,239.3 217.5,239.0 218.5,238.7 219.5,238.4 220.5,238.2 221.5,237.9 222.5,237.6 223.5,237.4 224.5,237.1 225.5,236.8 226.5,236.5 227.5,236.2 228.5,235.9 229.5,235.5 230.5,235.2 231.5,234.9 232.5,234.7 233.5,234.4 234.5,234.1 235.5,233.9 236.5,233.6 237.5,233.4 239.0,233.1 240.5,232.9 242.0,232.6 243.5,232.4 245.0,232.1 246.5,231.9 248.0,231.7 249.3,231.5 250.5,231.3 252.0,231.2 253.5,231.0 255.0,230.8 256.5,230.8 258.0,230.7 259.5,230.8 261.0,231.0 262.0,231.2 263.0,231.5 264.0,232.0 265.0,232.4 265.9,233.0 266.7,233.5 267.4,234.0 268.5,234.9 269.3,235.5 270.0,236.1 271.0,236.9 271.7,237.5 272.5,238.1 273.5,238.9 274.3,239.5 275.1,240.0 276.0,240.5 277.0,240.9 278.5,240.9 279.5,240.5 280.4,239.5 281.0,238.6 281.5,237.6 281.9,236.5 282.3,235.5 282.6,234.5 283.0,233.5 283.3,232.5 283.6,231.5 284.0,230.5 284.4,229.5 284.8,228.5 285.3,227.5 285.9,226.5 286.5,225.5 287.4,224.5 288.0,223.8 289.0,223.0 290.0,222.3 291.0,221.6 292.0,221.1 293.0,220.5 294.0,220.0 295.0,219.5 296.0,219.0 297.0,218.5 298.0,218.0 299.0,217.5 300.0,217.0 M0.0,178.8 0.5,179.5 1.0,180.3 1.5,181.0 2.0,181.7 2.5,182.5 3.0,183.2 3.5,184.0 4.0,184.7 4.5,185.5 5.0,186.2 5.5,187.0 6.0,187.7 6.5,188.4 7.0,189.2 7.5,189.9 8.0,190.6 8.5,191.3 9.0,192.0 9.7,193.0 10.4,194.0 11.0,194.7 11.6,195.5 12.5,196.5 13.4,197.5 14.5,198.5 15.5,199.3 16.5,199.9 17.5,200.4 18.5,200.7 20.0,200.8 21.5,200.7 22.5,200.4 23.5,200.0 24.5,199.6 25.5,199.1 26.5,198.5 27.3,198.0 28.1,197.5 28.9,197.0 29.7,196.5 30.4,196.0 31.1,195.5 31.9,195.0 32.6,194.5 33.4,194.0 34.1,193.5 34.9,193.0 35.6,192.5 36.4,192.0 37.2,191.5 38.0,191.0 38.8,190.5 39.7,190.0 40.5,189.5 41.5,189.0 42.5,188.5 43.5,188.0 44.5,187.6 45.5,187.2 46.5,186.8 47.5,186.5 48.5,186.2 49.5,185.9 50.5,185.7 52.0,185.4 53.5,185.2 55.0,185.0 56.5,184.9 58.0,184.9 59.5,184.8 61.0,184.9 62.5,184.9 64.0,185.0 65.5,185.1 67.0,185.2 68.5,185.3 69.8,185.5 71.0,185.6 72.5,185.9 74.0,186.1 75.5,186.4 76.5,186.6 77.5,186.8 78.5,187.1 79.5,187.4 80.5,187.7 81.5,188.0 82.5,188.3 83.5,188.6 84.5,189.0 85.5,189.4 86.5,189.8 87.5,190.2 88.5,190.6 89.4,191.0 90.5,191.5 91.5,192.0 92.5,192.5 93.5,193.0 94.5,193.5 95.4,194.0 96.3,194.5 97.2,195.0 98.1,195.5 99.0,196.0 99.8,196.5 100.7,197.0 101.5,197.5 102.3,198.0 103.0,198.5 103.8,199.0 104.5,199.5 105.3,200.0 106.0,200.5 106.7,201.0 107.4,201.5 108.5,202.3 109.5,203.0 110.5,203.8 111.4,204.5 112.5,205.4 113.2,206.0 114.0,206.7 114.8,207.5 115.5,208.2 116.3,209.0 117.0,209.7 117.7,210.5 118.5,211.4 119.3,212.5 120.0,213.4 120.8,214.5 122.0,214.6 123.5,214.5 125.0,214.6 126.5,214.9 127.5,215.1 128.5,215.4 129.5,215.6 130.5,215.9 131.5,216.2 132.5,216.5 133.5,216.8 134.5,217.1 135.5,217.4 136.5,217.7 137.5,218.0 138.5,218.3 139.5,218.5 140.5,218.8 141.5,219.1 142.5,219.4 143.5,219.6 144.5,219.9 145.5,220.2 146.5,220.5 147.5,220.8 148.5,221.1 149.5,221.3 150.5,221.6 151.5,221.8 152.5,222.1 153.5,222.3 154.5,222.6 155.5,222.9 156.5,223.1 157.5,223.4 158.5,223.7 159.5,224.1 160.5,224.4 161.5,224.7 162.5,225.1 163.5,225.5 164.5,225.9 165.5,226.3 166.5,226.8 167.5,227.3 168.5,227.8 169.5,228.4 170.5,229.0 171.2,229.5 172.0,230.1 173.0,230.9 173.7,231.5 174.5,232.2 175.3,233.0 176.0,233.7 176.7,234.5 177.4,235.5 178.0,236.3 178.5,237.0 179.0,237.8 180.0,237.4 181.0,237.1 182.5,237.0 184.0,237.1 185.5,237.3 186.8,237.5 188.0,237.7 189.0,238.1 190.0,238.4 191.0,238.7 192.0,239.1 193.0,239.4 194.0,239.8 195.0,240.1 196.0,240.4 197.0,240.7 198.0,241.0 199.0,241.3 200.0,241.6 201.0,241.9 202.0,242.1 203.0,242.4 204.0,242.6 205.0,242.9 206.0,243.1 207.0,243.3 208.0,243.5 209.0,243.7 210.0,243.9 211.0,244.1 212.0,244.3 213.5,244.1 215.0,243.8 216.0,243.5 217.0,243.2 218.0,242.9 219.0,242.6 220.0,242.4 221.0,242.1 222.0,241.8 223.0,241.5 224.0,241.3 225.0,241.0 226.0,240.7 227.0,240.4 228.0,240.1 229.0,239.7 230.0,239.4 231.0,239.1 232.0,238.8 233.0,238.5 234.0,238.3 235.0,238.0 236.0,237.8 237.0,237.5 238.0,237.3 239.5,237.0 241.0,236.8 242.5,236.5 244.0,236.3 245.5,236.0 247.0,235.8 248.5,235.6 250.0,235.3 251.5,235.2 252.8,235.0 254.0,234.8 255.5,234.7 257.0,234.5 258.5,234.5 260.0,234.5 261.5,234.6 263.0,234.9 264.0,235.2 264.9,235.5 265.9,236.0 266.8,236.5 267.6,237.0 268.3,237.5 269.0,238.0 270.0,238.8 270.9,239.5 272.0,240.4 272.7,241.0 273.5,241.6 274.5,242.4 275.4,243.0 276.1,243.5 277.0,244.0 278.0,244.3 279.5,244.4 280.4,244.0 281.4,243.0 282.0,242.0 282.5,241.0 282.9,240.0 283.2,239.0 283.6,238.0 283.9,237.0 284.2,236.0 284.6,235.0 284.9,234.0 285.3,233.0 285.7,232.0 286.2,231.0 286.7,230.0 287.4,229.0 288.0,228.2 288.6,227.5 289.5,226.7 290.3,226.0 291.5,225.2 292.5,224.6 293.5,224.0 294.5,223.5 295.4,223.0 296.4,222.5 297.4,222.0 298.4,221.5 299.5,221.0 300.0,220.7 M0.0,183.1 0.5,183.8 1.0,184.5 1.5,185.2 2.0,186.0 2.5,186.7 3.0,187.4 3.5,188.2 4.0,188.9 4.5,189.7 5.0,190.4 5.5,191.1 6.0,191.9 6.5,192.6 7.0,193.3 7.5,194.1 8.0,194.8 8.5,195.5 9.2,196.5 10.0,197.5 10.8,198.5 11.5,199.4 12.4,200.5 13.4,201.5 14.5,202.5 15.5,203.3 16.5,203.9 17.5,204.4 18.5,204.7 20.0,204.8 21.5,204.6 22.5,204.4 23.5,204.0 24.5,203.5 25.5,203.0 26.4,202.5 27.2,202.0 28.0,201.5 28.8,201.0 29.5,200.5 30.3,200.0 31.0,199.5 31.8,199.0 32.5,198.5 33.2,198.0 34.0,197.5 34.7,197.0 35.5,196.5 36.2,196.0 37.0,195.5 37.8,195.0 38.6,194.5 39.4,194.0 40.3,193.5 41.2,193.0 42.0,192.6 43.0,192.1 44.0,191.6 45.0,191.2 46.0,190.8 47.0,190.4 48.0,190.1 49.0,189.8 50.0,189.6 51.0,189.4 52.5,189.1 54.0,188.9 55.5,188.8 57.0,188.7 58.5,188.6 60.0,188.6 61.5,188.7 63.0,188.7 64.5,188.8 66.0,189.0 67.5,189.1 69.0,189.3 70.5,189.5 72.0,189.7 73.5,189.9 75.0,190.2 76.0,190.4 77.0,190.6 78.0,190.9 79.0,191.2 80.0,191.5 81.0,191.8 82.0,192.1 83.0,192.4 84.0,192.8 85.0,193.1 85.9,193.5 87.0,193.9 88.0,194.4 89.0,194.8 90.0,195.3 91.0,195.8 92.0,196.2 93.0,196.7 94.0,197.3 95.0,197.8 96.0,198.3 97.0,198.9 98.0,199.5 99.0,200.0 99.8,200.5 100.6,201.0 101.4,201.5 102.2,202.0 103.0,202.5 103.8,203.0 104.6,203.5 105.3,204.0 106.0,204.5 106.8,205.0 107.5,205.5 108.2,206.0 109.0,206.6 110.0,207.3 110.9,208.0 112.0,208.9 112.7,209.5 113.5,210.2 114.4,211.0 115.5,212.0 116.5,213.0 117.4,214.0 118.0,214.7 118.7,215.5 119.5,216.5 120.2,217.5 120.9,218.5 122.5,218.3 124.0,218.3 125.5,218.5 127.0,218.7 128.0,219.0 129.0,219.2 130.0,219.5 131.0,219.8 132.0,220.1 133.0,220.3 134.0,220.6 135.0,220.9 136.0,221.2 137.0,221.5 138.0,221.8 139.0,222.1 140.0,222.4 141.0,222.7 142.0,222.9 143.0,223.2 144.0,223.5 145.0,223.8 146.0,224.1 147.0,224.4 148.0,224.7 149.0,225.0 150.0,225.4 151.0,225.6 152.0,225.9 153.0,226.2 154.0,226.5 155.0,226.8 156.0,227.1 157.0,227.4 158.0,227.8 159.0,228.1 160.0,228.5 161.0,228.9 162.0,229.3 163.0,229.8 164.0,230.2 165.0,230.7 166.0,231.2 167.0,231.8 168.0,232.4 169.0,233.0 169.8,233.5 170.5,234.0 171.5,234.8 172.5,235.5 173.5,236.3 174.2,237.0 175.0,237.7 175.8,238.5 176.5,239.3 177.1,240.0 177.9,241.0 178.5,241.8 179.0,242.6 180.0,242.2 181.0,241.9 182.5,241.8 184.0,242.0 185.5,242.2 187.0,242.4 188.5,242.7 189.5,243.0 190.5,243.2 191.5,243.5 192.5,243.8 193.5,244.1 194.5,244.4 195.5,244.7 196.5,245.0 197.5,245.3 198.5,245.5 199.5,245.8 200.5,246.0 201.5,246.2 202.5,246.5 203.5,246.7 204.5,246.9 206.0,247.2 207.5,247.5 209.0,247.7 210.3,248.0 211.5,248.2 213.0,248.2 214.5,247.9 215.5,247.6 216.5,247.4 217.5,247.1 218.5,246.8 219.5,246.5 220.5,246.2 221.5,246.0 222.5,245.7 223.5,245.4 224.5,245.2 225.5,244.9 226.5,244.5 227.5,244.2 228.5,243.9 229.5,243.6 230.5,243.3 231.5,243.0 232.5,242.7 233.5,242.4 234.5,242.1 235.5,241.9 236.5,241.7 237.5,241.4 238.5,241.2 239.7,241.0 241.0,240.8 242.5,240.5 243.5,240.3 245.0,240.1 246.5,239.8 248.0,239.6 249.5,239.4 251.0,239.2 252.2,239.0 253.5,238.8 255.0,238.6 256.5,238.4 258.0,238.3 259.5,238.2 261.0,238.2 262.5,238.2 264.0,238.5 265.0,238.8 266.0,239.2 267.0,239.7 268.0,240.2 269.0,240.9 269.9,241.5 271.0,242.3 271.9,243.0 273.0,243.9 273.7,244.5 274.5,245.1 275.5,245.9 276.4,246.5 277.2,247.0 278.0,247.4 279.0,247.8 280.5,247.8 281.5,247.3 282.3,246.5 283.0,245.5 283.4,244.5 283.8,243.5 284.2,242.5 284.5,241.5 284.9,240.5 285.2,239.5 285.5,238.5 285.9,237.5 286.2,236.5 286.6,235.5 287.1,234.5 287.5,233.7 288.0,232.8 288.5,232.1 289.4,231.0 290.0,230.4 291.0,229.5 292.0,228.7 293.0,228.1 294.0,227.5 294.9,227.0 295.9,226.5 296.9,226.0 297.9,225.5 298.9,225.0 299.9,224.5 300.0,224.5 M0.0,187.2 0.5,187.9 1.0,188.7 1.5,189.4 2.0,190.1 2.5,190.9 3.0,191.6 3.5,192.3 4.0,193.1 4.5,193.8 5.0,194.5 5.5,195.2 6.0,196.0 6.5,196.7 7.0,197.4 7.5,198.1 8.0,198.8 8.8,200.0 9.5,200.9 10.3,202.0 11.0,202.8 11.6,203.5 12.4,204.5 13.4,205.5 14.5,206.5 15.5,207.2 16.5,207.9 17.5,208.3 18.5,208.6 20.0,208.7 21.5,208.6 22.5,208.3 23.5,207.9 24.4,207.5 25.4,207.0 26.3,206.5 27.1,206.0 27.9,205.5 28.6,205.0 29.4,204.5 30.1,204.0 30.9,203.5 31.6,203.0 32.3,202.5 33.1,202.0 33.8,201.5 34.5,201.0 35.3,200.5 36.0,200.0 36.8,199.5 37.6,199.0 38.4,198.5 39.2,198.0 40.0,197.5 40.9,197.0 41.8,196.5 42.8,196.0 43.8,195.5 45.0,195.0 46.0,194.6 47.0,194.2 48.0,193.9 49.0,193.6 50.0,193.4 51.0,193.1 52.5,192.9 54.0,192.7 55.5,192.6 57.0,192.5 58.5,192.4 60.0,192.5 61.5,192.5 63.0,192.6 64.5,192.7 66.0,192.8 67.5,193.0 69.0,193.1 70.5,193.3 71.5,193.5 73.0,193.7 74.4,194.0 75.5,194.2 76.5,194.5 77.5,194.7 78.5,195.0 79.5,195.3 80.5,195.6 81.5,195.9 82.5,196.2 83.5,196.6 84.5,197.0 85.5,197.4 86.5,197.8 87.5,198.2 88.5,198.6 89.5,199.1 90.4,199.5 91.4,200.0 92.4,200.5 93.4,201.0 94.4,201.5 95.3,202.0 96.2,202.5 97.0,202.9 98.0,203.5 98.9,204.0 99.8,204.5 100.6,205.0 101.4,205.5 102.2,206.0 103.0,206.5 103.8,207.0 104.6,207.5 105.3,208.0 106.1,208.5 106.8,209.0 107.5,209.5 108.2,210.0 108.9,210.5 110.0,211.3 111.0,212.0 112.0,212.8 112.8,213.5 113.5,214.1 114.5,215.0 115.5,215.9 116.1,216.5 117.0,217.4 118.0,218.5 118.9,219.5 119.5,220.3 120.0,221.0 120.8,222.0 122.0,222.2 123.5,222.1 125.0,222.1 126.5,222.4 127.5,222.6 128.5,222.8 129.5,223.1 130.5,223.3 131.5,223.6 132.5,223.9 133.5,224.2 134.5,224.5 135.5,224.8 136.5,225.1 137.5,225.4 138.5,225.7 139.5,225.9 140.5,226.2 141.5,226.5 142.5,226.8 143.5,227.1 144.5,227.4 145.5,227.7 146.5,228.1 147.5,228.4 148.5,228.7 149.5,229.1 150.5,229.4 151.5,229.7 152.5,230.0 153.5,230.3 154.5,230.7 155.5,231.0 156.5,231.4 157.5,231.8 158.5,232.2 159.5,232.6 160.4,233.0 161.5,233.5 162.5,234.0 163.5,234.5 164.5,235.0 165.5,235.5 166.3,236.0 167.2,236.5 168.0,237.0 168.7,237.5 169.5,238.0 170.2,238.5 171.0,239.1 172.0,239.9 172.8,240.5 173.5,241.1 174.5,241.9 175.1,242.5 176.0,243.3 176.6,244.0 177.5,245.0 178.3,246.0 179.0,247.0 180.0,246.6 181.0,246.4 182.5,246.3 184.0,246.4 185.5,246.6 187.0,246.8 188.3,247.0 189.5,247.3 190.5,247.6 191.5,247.8 192.5,248.1 193.5,248.4 194.5,248.6 195.5,248.9 196.5,249.2 197.5,249.4 198.5,249.6 199.5,249.9 200.5,250.1 201.5,250.3 202.5,250.5 204.0,250.8 205.2,251.0 206.5,251.2 208.0,251.5 209.5,251.8 210.7,252.0 212.0,252.3 213.4,252.0 214.5,251.8 215.5,251.6 216.5,251.3 217.5,251.0 218.5,250.7 219.5,250.4 220.5,250.2 221.5,249.9 222.5,249.6 223.5,249.4 224.5,249.1 225.5,248.8 226.5,248.5 227.5,248.2 228.5,247.9 229.5,247.6 230.5,247.3 231.5,247.0 232.5,246.7 233.5,246.4 234.5,246.1 235.5,245.9 236.5,245.6 237.5,245.4 238.5,245.2 239.6,245.0 241.0,244.7 242.3,244.5 243.5,244.3 245.0,244.0 246.5,243.8 248.0,243.6 249.5,243.3 251.0,243.1 252.5,242.9 254.0,242.7 255.1,242.5 256.5,242.3 258.0,242.2 259.4,242.0 260.5,241.9 262.0,241.8 263.5,241.9 265.0,242.1 266.0,242.4 267.0,242.8 268.0,243.2 269.0,243.8 270.0,244.4 270.8,245.0 272.0,245.8 272.9,246.5 274.0,247.4 274.8,248.0 275.5,248.6 276.5,249.3 277.4,250.0 278.3,250.5 279.3,251.0 280.5,251.3 282.0,251.1 282.8,250.5 283.5,249.6 284.0,248.8 284.5,247.7 285.0,246.5 285.3,245.5 285.6,244.5 286.0,243.5 286.3,242.5 286.6,241.5 287.0,240.5 287.3,239.5 287.8,238.5 288.2,237.5 288.8,236.5 289.4,235.5 290.0,234.7 290.6,234.0 291.5,233.1 292.3,232.5 293.0,232.0 294.0,231.3 295.0,230.7 296.0,230.2 297.0,229.6 298.0,229.1 299.0,228.6 300.0,228.2 M0.0,191.3 0.5,192.1 1.0,192.8 1.5,193.5 2.0,194.2 2.5,194.9 3.0,195.7 3.5,196.4 4.0,197.1 4.5,197.9 5.0,198.6 5.5,199.3 6.0,200.0 6.5,200.7 7.0,201.4 7.5,202.2 8.1,203.0 8.8,204.0 9.5,204.9 10.4,206.0 11.0,206.8 11.6,207.5 12.5,208.5 13.5,209.5 14.5,210.4 15.3,211.0 16.0,211.5 17.0,212.0 18.0,212.4 19.0,212.6 20.5,212.6 22.0,212.3 23.0,212.0 24.0,211.6 25.0,211.1 26.0,210.5 26.9,210.0 27.7,209.5 28.4,209.0 29.2,208.5 29.9,208.0 30.7,207.5 31.4,207.0 32.1,206.5 32.8,206.0 33.6,205.5 34.3,205.0 35.0,204.5 35.8,204.0 36.5,203.5 37.3,203.0 38.1,202.5 38.9,202.0 39.7,201.5 40.5,201.0 41.5,200.5 42.4,200.0 43.4,199.5 44.5,199.0 45.5,198.6 46.5,198.2 47.5,197.8 48.5,197.5 49.5,197.3 50.5,197.0 52.0,196.8 53.5,196.5 55.0,196.4 56.5,196.3 58.0,196.3 59.5,196.3 61.0,196.3 62.5,196.4 64.0,196.5 65.5,196.6 67.0,196.8 68.5,197.0 70.0,197.2 71.5,197.4 73.0,197.7 74.5,198.0 75.5,198.2 76.5,198.4 77.5,198.7 78.5,199.0 79.5,199.3 80.5,199.6 81.5,199.9 82.5,200.3 83.5,200.6 84.5,201.0 85.5,201.4 86.5,201.8 87.5,202.2 88.5,202.7 89.5,203.1 90.5,203.6 91.5,204.1 92.5,204.6 93.5,205.1 94.5,205.6 95.5,206.2 96.5,206.7 97.5,207.3 98.5,207.8 99.5,208.4 100.5,209.0 101.3,209.5 102.2,210.0 103.0,210.5 103.8,211.0 104.5,211.5 105.3,212.0 106.1,212.5 106.8,213.0 107.6,213.5 108.3,214.0 109.0,214.5 110.0,215.2 111.0,215.9 111.7,216.5 112.5,217.1 113.5,218.0 114.5,218.8 115.2,219.5 116.0,220.2 116.8,221.0 117.5,221.8 118.2,222.5 119.0,223.5 119.8,224.5 120.5,225.4 121.0,226.1 122.0,225.9 123.5,225.8 125.0,225.9 126.5,226.1 128.0,226.4 129.0,226.6 130.0,226.9 131.0,227.2 132.0,227.5 133.0,227.7 134.0,228.0 135.0,228.3 136.0,228.6 137.0,228.9 138.0,229.2 138.9,229.5 140.0,229.8 141.0,230.1 142.0,230.4 143.0,230.7 144.0,231.1 145.0,231.4 146.0,231.7 147.0,232.1 148.0,232.4 149.0,232.8 150.0,233.2 151.0,233.5 152.0,233.8 153.0,234.2 154.0,234.5 155.0,234.9 156.0,235.3 157.0,235.7 158.0,236.1 159.0,236.6 159.9,237.0 160.9,237.5 161.9,238.0 162.9,238.5 163.8,239.0 164.7,239.5 165.5,239.9 166.4,240.5 167.3,241.0 168.0,241.5 168.8,242.0 169.5,242.5 170.2,243.0 171.0,243.5 172.0,244.3 172.9,245.0 174.0,245.9 174.7,246.5 175.5,247.2 176.3,248.0 177.0,248.7 177.7,249.5 178.5,250.5 179.3,251.0 180.5,250.7 182.0,250.5 183.5,250.6 185.0,250.7 186.5,250.9 188.0,251.1 189.0,251.3 190.0,251.5 191.0,251.8 192.0,252.0 193.0,252.3 194.0,252.5 195.0,252.8 196.0,253.0 197.0,253.2 198.0,253.5 199.0,253.7 200.0,253.9 201.0,254.1 202.5,254.4 204.0,254.7 205.5,254.9 207.0,255.2 208.5,255.4 210.0,255.7 211.5,256.0 213.0,255.9 214.5,255.6 215.5,255.4 216.5,255.1 217.5,254.9 218.5,254.6 219.5,254.3 220.5,254.1 221.5,253.8 222.5,253.5 223.5,253.3 224.5,253.0 225.5,252.7 226.5,252.4 227.5,252.1 228.5,251.8 229.5,251.5 230.5,251.2 231.5,250.9 232.5,250.6 233.5,250.4 234.5,250.1 235.5,249.8 236.5,249.6 237.5,249.4 238.5,249.2 240.0,248.9 241.5,248.6 243.0,248.4 244.5,248.1 246.0,247.9 247.5,247.6 249.0,247.4 250.5,247.1 252.0,246.9 253.5,246.7 254.7,246.5 256.0,246.3 257.5,246.1 259.0,245.9 260.5,245.7 262.0,245.6 263.5,245.5 265.0,245.6 266.5,245.9 267.5,246.2 268.5,246.6 269.3,247.0 270.2,247.5 271.0,248.0 271.8,248.5 272.5,249.0 273.5,249.7 274.5,250.5 275.5,251.3 276.4,252.0 277.5,252.8 278.5,253.5 279.4,254.0 280.5,254.5 281.5,254.7 282.9,254.5 283.7,254.0 284.5,253.0 285.0,252.2 285.5,251.1 285.9,250.0 286.3,249.0 286.6,248.0 286.9,247.0 287.2,246.0 287.6,245.0 287.9,244.0 288.3,243.0 288.7,242.0 289.1,241.0 289.6,240.0 290.2,239.0 291.0,238.0 291.8,237.0 292.5,236.4 293.5,235.6 294.3,235.0 295.1,234.5 295.9,234.0 296.8,233.5 297.7,233.0 298.7,232.5 299.5,232.1 300.0,231.8 M0.0,195.4 0.5,196.1 1.0,196.8 1.5,197.5 2.0,198.3 2.5,199.0 3.0,199.7 3.5,200.4 4.0,201.1 4.5,201.9 5.0,202.6 5.5,203.3 6.0,204.0 6.5,204.7 7.0,205.4 7.8,206.5 8.5,207.5 9.3,208.5 10.0,209.5 10.8,210.5 11.5,211.3 12.1,212.0 13.0,212.9 14.0,213.9 14.8,214.5 15.5,215.0 16.5,215.6 17.5,216.1 18.5,216.4 20.0,216.5 21.5,216.3 22.5,216.0 23.5,215.7 24.5,215.2 25.5,214.7 26.5,214.1 27.4,213.5 28.2,213.0 29.0,212.5 29.7,212.0 30.4,211.5 31.2,211.0 31.9,210.5 32.6,210.0 33.3,209.5 34.1,209.0 34.8,208.5 35.5,208.0 36.3,207.5 37.0,207.0 37.8,206.5 38.6,206.0 39.4,205.5 40.2,205.0 41.0,204.6 42.0,204.0 43.0,203.5 44.0,203.0 45.0,202.6 46.0,202.2 47.0,201.8 47.9,201.5 49.0,201.2 50.0,200.9 51.0,200.7 52.3,200.5 53.5,200.3 55.0,200.2 56.5,200.1 58.0,200.1 59.5,200.1 61.0,200.2 62.5,200.3 64.0,200.4 65.3,200.5 66.5,200.6 68.0,200.8 69.2,201.0 70.5,201.2 72.0,201.5 73.5,201.7 74.5,202.0 75.5,202.2 76.5,202.4 77.5,202.7 78.5,203.0 79.5,203.3 80.5,203.6 81.5,204.0 82.5,204.3 83.5,204.7 84.5,205.1 85.5,205.5 86.5,205.9 87.5,206.3 88.5,206.8 89.5,207.2 90.5,207.7 91.5,208.2 92.5,208.7 93.5,209.2 94.5,209.7 95.5,210.3 96.5,210.8 97.5,211.3 98.5,211.9 99.5,212.5 100.5,213.0 101.3,213.5 102.1,214.0 102.9,214.5 103.8,215.0 104.5,215.5 105.3,216.0 106.1,216.5 106.9,217.0 107.6,217.5 108.4,218.0 109.1,218.5 109.8,219.0 111.0,219.9 111.9,220.5 113.0,221.4 113.7,222.0 114.5,222.7 115.4,223.5 116.4,224.5 117.4,225.5 118.3,226.5 119.0,227.3 119.6,228.0 120.4,229.0 121.0,229.9 122.0,229.7 123.5,229.6 125.0,229.6 126.5,229.8 128.0,230.1 129.0,230.4 130.0,230.6 131.0,230.9 132.0,231.2 133.0,231.5 134.0,231.8 135.0,232.0 136.0,232.3 137.0,232.6 138.0,233.0 139.0,233.3 140.0,233.6 141.0,233.9 142.0,234.2 142.9,234.5 144.0,234.8 145.0,235.2 146.0,235.5 147.0,235.9 148.0,236.3 149.0,236.7 150.0,237.1 151.0,237.4 152.0,237.8 153.0,238.1 154.0,238.5 155.0,238.9 156.0,239.3 157.0,239.8 158.0,240.2 159.0,240.7 160.0,241.2 161.0,241.7 162.0,242.2 163.0,242.8 164.0,243.3 165.0,243.9 166.0,244.5 166.8,245.0 167.6,245.5 168.4,246.0 169.2,246.5 169.9,247.0 170.6,247.5 171.5,248.2 172.5,248.9 173.3,249.5 174.0,250.0 175.0,250.9 175.7,251.5 176.5,252.3 177.2,253.0 178.0,253.9 178.9,255.0 180.0,254.8 181.5,254.6 183.0,254.6 184.5,254.7 186.0,254.8 187.5,255.0 189.0,255.3 190.0,255.5 191.0,255.7 192.0,256.0 193.0,256.2 194.0,256.4 195.0,256.7 196.0,256.9 197.0,257.1 198.0,257.3 199.0,257.5 200.0,257.7 201.4,258.0 202.5,258.2 204.0,258.5 205.5,258.7 207.0,259.0 208.5,259.2 209.9,259.5 211.0,259.7 212.0,259.9 213.5,259.6 215.0,259.4 216.0,259.1 217.0,258.8 218.0,258.6 219.0,258.3 220.0,258.0 221.0,257.8 222.0,257.5 223.0,257.3 224.0,257.0 225.0,256.8 225.9,256.5 227.0,256.2 228.0,255.9 229.0,255.6 230.0,255.3 231.0,255.0 232.0,254.7 233.0,254.4 234.0,254.2 235.0,253.9 236.0,253.7 237.0,253.5 238.0,253.3 239.3,253.0 240.5,252.8 242.0,252.5 243.5,252.2 244.9,252.0 246.0,251.8 247.5,251.6 249.0,251.3 250.5,251.1 252.0,250.9 253.5,250.6 255.0,250.4 256.5,250.2 257.7,250.0 259.0,249.8 260.5,249.6 262.0,249.4 263.5,249.2 265.0,249.2 266.5,249.3 268.0,249.7 269.0,250.0 270.0,250.4 271.0,250.9 272.0,251.5 272.8,252.0 273.5,252.5 274.5,253.2 275.5,254.0 276.5,254.8 277.5,255.5 278.5,256.3 279.5,256.9 280.5,257.5 281.5,257.9 282.5,258.1 283.7,258.0 284.5,257.5 285.4,256.5 286.0,255.6 286.5,254.5 286.9,253.5 287.2,252.5 287.5,251.5 287.9,250.5 288.2,249.5 288.5,248.5 288.8,247.5 289.2,246.5 289.6,245.5 290.0,244.5 290.5,243.5 291.0,242.6 291.5,241.8 292.1,241.0 293.0,240.1 294.0,239.2 294.9,238.5 295.6,238.0 296.4,237.5 297.2,237.0 298.2,236.5 299.0,236.1 300.0,235.6 M0.0,199.4 0.5,200.1 1.0,200.8 1.5,201.5 2.0,202.3 2.5,203.0 3.0,203.7 3.5,204.4 4.0,205.1 4.5,205.8 5.0,206.5 5.5,207.2 6.0,208.0 6.5,208.7 7.1,209.5 7.8,210.5 8.5,211.4 9.3,212.5 10.0,213.4 10.9,214.5 11.5,215.2 12.2,216.0 13.0,216.8 13.7,217.5 14.5,218.2 15.5,218.9 16.5,219.5 17.5,219.9 18.5,220.2 20.0,220.3 21.5,220.2 22.5,219.9 23.5,219.5 24.5,219.0 25.5,218.5 26.4,218.0 27.2,217.5 28.0,217.0 28.7,216.5 29.5,216.0 30.2,215.5 30.9,215.0 31.6,214.5 32.4,214.0 33.1,213.5 33.8,213.0 34.5,212.5 35.2,212.0 36.0,211.5 36.7,211.0 37.5,210.5 38.3,210.0 39.1,209.5 39.9,209.0 40.7,208.5 41.6,208.0 42.5,207.5 43.5,207.0 44.5,206.6 45.5,206.2 46.5,205.8 47.5,205.4 48.5,205.1 49.5,204.9 50.5,204.6 52.0,204.4 53.5,204.2 55.0,204.0 56.5,204.0 58.0,203.9 59.5,204.0 61.0,204.0 62.5,204.1 64.0,204.3 65.5,204.4 67.0,204.6 68.5,204.8 69.6,205.0 71.0,205.2 72.3,205.5 73.5,205.7 74.5,206.0 75.5,206.2 76.5,206.5 77.5,206.7 78.5,207.0 79.5,207.4 80.5,207.7 81.4,208.0 82.5,208.4 83.5,208.8 84.5,209.1 85.4,209.5 86.5,210.0 87.5,210.4 88.5,210.9 89.5,211.3 90.5,211.8 91.5,212.3 92.5,212.8 93.5,213.3 94.5,213.8 95.5,214.3 96.5,214.9 97.5,215.4 98.5,215.9 99.5,216.5 100.4,217.0 101.2,217.5 102.0,217.9 102.9,218.5 103.8,219.0 104.5,219.5 105.4,220.0 106.2,220.5 107.0,221.0 107.7,221.5 108.5,222.0 109.2,222.5 109.9,223.0 110.7,223.5 111.5,224.1 112.5,224.9 113.3,225.5 114.0,226.1 115.0,227.0 116.0,227.9 116.6,228.5 117.5,229.4 118.5,230.5 119.4,231.5 120.0,232.3 120.5,233.0 121.5,233.5 123.0,233.3 124.5,233.3 126.0,233.5 127.5,233.7 128.5,234.0 129.5,234.2 130.5,234.5 131.5,234.7 132.5,235.0 133.5,235.3 134.5,235.6 135.5,235.9 136.5,236.2 137.5,236.5 138.5,236.8 139.5,237.2 140.5,237.5 141.5,237.8 142.5,238.1 143.5,238.5 144.5,238.8 145.5,239.2 146.5,239.6 147.5,239.9 148.5,240.3 149.5,240.8 150.5,241.1 151.5,241.5 152.5,241.9 153.5,242.3 154.5,242.7 155.5,243.1 156.5,243.6 157.4,244.0 158.4,244.5 159.4,245.0 160.4,245.5 161.4,246.0 162.3,246.5 163.2,247.0 164.0,247.5 164.9,248.0 165.8,248.5 166.6,249.0 167.4,249.5 168.2,250.0 169.0,250.5 169.7,251.0 170.4,251.5 171.1,252.0 172.0,252.6 173.0,253.4 173.9,254.0 175.0,254.9 175.7,255.5 176.5,256.3 177.2,257.0 178.0,257.9 178.9,259.0 180.0,258.8 181.5,258.5 183.0,258.5 184.5,258.6 186.0,258.7 187.5,258.9 189.0,259.1 190.0,259.4 191.0,259.6 192.0,259.8 193.0,260.0 194.0,260.3 195.0,260.5 196.0,260.7 197.0,260.9 198.0,261.1 199.5,261.4 201.0,261.7 202.5,262.0 204.0,262.2 205.5,262.5 207.0,262.7 208.5,263.0 210.0,263.3 211.2,263.5 212.5,263.6 214.0,263.3 215.5,263.0 216.5,262.7 217.5,262.5 218.5,262.2 219.5,262.0 220.5,261.7 221.5,261.5 222.5,261.2 223.5,261.0 224.5,260.8 225.5,260.5 226.5,260.2 227.5,259.9 228.5,259.6 229.5,259.3 230.5,259.0 231.5,258.8 232.5,258.5 233.5,258.2 234.5,258.0 235.5,257.7 236.5,257.5 237.5,257.3 239.0,257.0 240.5,256.7 241.7,256.5 243.0,256.3 244.5,256.0 246.0,255.8 247.5,255.5 249.0,255.3 250.5,255.0 252.0,254.8 253.5,254.6 255.0,254.3 256.5,254.1 258.0,253.9 259.5,253.6 261.0,253.4 262.5,253.2 263.6,253.0 265.0,252.9 266.5,252.9 268.0,253.1 269.0,253.3 270.0,253.6 271.0,254.0 272.0,254.5 272.9,255.0 273.7,255.5 274.5,256.0 275.2,256.5 276.0,257.1 277.0,257.9 277.8,258.5 279.0,259.4 279.9,260.0 280.7,260.5 281.5,260.9 282.5,261.3 283.5,261.6 285.0,261.2 286.0,260.5 286.5,259.8 287.0,259.0 287.4,258.0 287.8,257.0 288.2,256.0 288.5,255.0 288.8,254.0 289.1,253.0 289.4,252.0 289.7,251.0 290.1,250.0 290.5,249.0 290.9,248.0 291.4,247.0 291.9,246.0 292.5,245.1 293.3,244.0 294.0,243.3 294.8,242.5 296.0,241.6 296.9,241.0 297.7,240.5 298.5,240.1 299.5,239.5 300.0,239.3 M0.0,203.4 0.8,204.5 1.5,205.5 2.0,206.2 2.5,206.9 3.0,207.6 3.5,208.3 4.0,209.0 4.5,209.7 5.0,210.4 5.5,211.2 6.0,211.9 6.8,213.0 7.5,213.9 8.3,215.0 9.0,215.9 9.8,217.0 10.5,217.8 11.5,219.0 12.4,220.0 13.0,220.6 13.9,221.5 15.0,222.4 15.9,223.0 16.9,223.5 18.0,223.9 19.5,224.2 21.0,224.1 22.0,223.8 23.0,223.5 24.0,223.1 25.0,222.6 26.0,222.0 26.9,221.5 27.7,221.0 28.4,220.5 29.2,220.0 29.9,219.5 30.6,219.0 31.4,218.5 32.1,218.0 32.8,217.5 33.5,217.0 34.2,216.5 35.0,216.0 35.7,215.5 36.4,215.0 37.2,214.5 38.0,214.0 38.7,213.5 39.5,213.0 40.4,212.5 41.3,212.0 42.2,211.5 43.0,211.1 44.0,210.6 45.0,210.2 46.0,209.8 47.0,209.4 48.0,209.1 49.0,208.8 50.0,208.5 51.0,208.3 52.5,208.1 54.0,207.9 55.5,207.8 57.0,207.8 58.5,207.8 60.0,207.8 61.5,207.9 63.0,208.1 64.5,208.2 66.0,208.4 67.5,208.6 69.0,208.9 70.5,209.1 72.0,209.4 73.0,209.6 74.0,209.9 75.0,210.1 76.0,210.4 77.0,210.6 78.0,210.9 79.0,211.3 80.0,211.6 81.0,211.9 82.0,212.3 83.0,212.7 83.9,213.0 85.0,213.4 86.0,213.9 87.0,214.3 88.0,214.7 89.0,215.2 90.0,215.7 91.0,216.1 92.0,216.6 93.0,217.1 94.0,217.6 95.0,218.1 96.0,218.7 97.0,219.2 98.0,219.7 99.0,220.3 100.0,220.8 101.0,221.4 102.0,222.0 102.9,222.5 103.8,223.0 104.6,223.5 105.4,224.0 106.2,224.5 107.0,225.0 107.8,225.5 108.6,226.0 109.4,226.5 110.1,227.0 110.8,227.5 111.5,228.0 112.5,228.7 113.5,229.5 114.5,230.4 115.2,231.0 116.0,231.7 116.8,232.5 117.5,233.2 118.3,234.0 119.0,234.8 119.5,235.5 120.3,236.5 121.0,237.4 122.0,237.2 123.5,237.0 125.0,237.1 126.5,237.3 127.7,237.5 129.0,237.8 130.0,238.1 131.0,238.3 132.0,238.6 133.0,238.9 134.0,239.2 135.0,239.5 136.0,239.8 137.0,240.1 138.0,240.4 139.0,240.8 140.0,241.1 141.0,241.4 142.0,241.8 143.0,242.1 144.0,242.5 145.0,242.8 146.0,243.2 147.0,243.6 148.0,244.0 149.0,244.4 150.0,244.9 151.0,245.2 152.0,245.6 152.9,246.0 154.0,246.4 155.0,246.9 156.0,247.3 157.0,247.8 158.0,248.3 159.0,248.8 160.0,249.3 161.0,249.9 162.0,250.4 163.0,250.9 164.0,251.5 164.9,252.0 165.7,252.5 166.5,253.0 167.3,253.5 168.1,254.0 168.9,254.5 169.7,255.0 170.4,255.5 171.1,256.0 172.0,256.7 173.0,257.4 173.9,258.0 175.0,258.9 175.7,259.5 176.5,260.2 177.3,261.0 178.0,261.8 178.6,262.5 179.5,262.8 180.5,262.6 182.0,262.4 183.5,262.4 184.7,262.5 186.0,262.6 187.5,262.7 189.0,263.0 190.0,263.2 191.0,263.4 192.0,263.6 193.0,263.8 194.0,264.0 195.0,264.2 196.0,264.5 197.0,264.7 198.5,265.0 200.0,265.2 201.4,265.5 202.5,265.7 204.0,266.0 205.5,266.2 207.0,266.5 208.5,266.7 210.0,267.0 211.5,267.3 213.0,267.2 214.3,267.0 215.5,266.8 216.5,266.5 217.5,266.3 218.5,266.0 219.5,265.8 220.5,265.5 221.5,265.3 222.5,265.0 223.5,264.8 224.5,264.6 225.5,264.3 226.5,264.0 227.5,263.8 228.5,263.5 229.5,263.2 230.5,262.9 231.5,262.6 232.5,262.4 233.5,262.1 234.5,261.9 235.5,261.6 236.5,261.4 237.5,261.2 238.7,261.0 240.0,260.8 241.4,260.5 242.5,260.3 244.0,260.1 245.5,259.8 247.0,259.6 248.5,259.3 250.0,259.0 251.5,258.9 253.0,258.6 254.5,258.4 256.0,258.1 257.5,257.9 259.0,257.7 260.5,257.4 262.0,257.1 263.5,256.9 265.0,256.6 266.5,256.6 268.0,256.6 269.5,256.8 270.5,257.0 271.5,257.4 272.5,257.8 273.5,258.3 274.5,258.9 275.5,259.5 276.2,260.0 277.0,260.6 278.0,261.3 278.9,262.0 280.0,262.8 281.0,263.5 281.8,264.0 282.8,264.5 284.0,264.9 285.5,264.8 286.5,264.3 287.3,263.5 287.9,262.5 288.4,261.5 288.8,260.5 289.1,259.5 289.4,258.5 289.7,257.5 290.0,256.5 290.3,255.5 290.7,254.5 291.0,253.5 291.4,252.5 291.8,251.5 292.2,250.5 292.7,249.5 293.4,248.5 294.0,247.6 295.0,246.5 296.0,245.6 296.7,245.0 297.5,244.5 298.2,244.0 299.0,243.5 300.0,243.0 300.0,243.0 M0.0,207.3 0.9,208.5 1.5,209.4 2.0,210.1 2.5,210.8 3.0,211.5 3.5,212.2 4.0,212.9 4.5,213.6 5.0,214.3 5.8,215.5 6.5,216.4 7.3,217.5 8.0,218.5 8.8,219.5 9.5,220.4 10.4,221.5 11.0,222.3 11.6,223.0 12.5,223.9 13.5,224.9 14.5,225.8 15.4,226.5 16.3,227.0 17.3,227.5 18.5,227.8 20.0,228.0 21.5,227.8 22.5,227.5 23.5,227.1 24.5,226.7 25.5,226.1 26.5,225.5 27.4,225.0 28.1,224.5 28.9,224.0 29.6,223.5 30.4,223.0 31.1,222.5 31.8,222.0 32.5,221.5 33.2,221.0 33.9,220.5 34.7,220.0 35.4,219.5 36.1,219.0 36.9,218.5 37.6,218.0 38.4,217.5 39.2,217.0 40.0,216.5 40.9,216.0 41.8,215.5 42.8,215.0 43.8,214.5 44.9,214.0 46.0,213.6 47.0,213.2 48.0,212.9 49.0,212.6 50.0,212.4 51.0,212.2 52.5,211.9 54.0,211.8 55.5,211.7 57.0,211.6 58.5,211.7 60.0,211.7 61.5,211.8 63.0,212.0 64.5,212.2 66.0,212.4 67.5,212.6 69.0,212.8 70.5,213.1 71.5,213.3 72.5,213.5 73.5,213.8 74.5,214.0 75.5,214.3 76.5,214.6 77.5,214.9 78.5,215.2 79.5,215.5 80.5,215.8 81.5,216.2 82.5,216.6 83.5,216.9 84.5,217.3 85.5,217.8 86.5,218.2 87.5,218.6 88.3,219.0 89.4,219.5 90.5,220.0 91.5,220.5 92.5,221.0 93.5,221.5 94.5,222.0 95.5,222.5 96.5,223.0 97.5,223.5 98.4,224.0 99.4,224.5 100.3,225.0 101.2,225.5 102.0,226.0 103.0,226.5 103.8,227.0 104.7,227.5 105.5,228.0 106.3,228.5 107.2,229.0 108.0,229.5 108.7,230.0 109.5,230.5 110.3,231.0 111.0,231.5 111.7,232.0 112.5,232.6 113.5,233.4 114.3,234.0 115.0,234.6 116.0,235.5 117.0,236.5 118.0,237.5 118.9,238.5 119.5,239.2 120.1,240.0 120.9,241.0 122.5,240.9 124.0,240.8 125.5,240.9 127.0,241.1 128.0,241.3 129.0,241.5 130.0,241.8 131.0,242.1 132.0,242.3 133.0,242.6 134.0,242.9 135.0,243.3 136.0,243.6 137.0,243.9 138.0,244.2 139.0,244.5 140.0,244.9 141.0,245.2 142.0,245.6 143.0,245.9 144.0,246.3 145.0,246.7 145.9,247.0 147.0,247.5 148.0,247.9 149.0,248.3 150.0,248.8 151.0,249.1 151.9,249.5 153.0,250.0 154.0,250.4 155.0,250.8 156.0,251.3 157.0,251.8 158.0,252.3 159.0,252.8 160.0,253.3 161.0,253.9 162.0,254.4 163.0,255.0 164.0,255.5 164.8,256.0 165.7,256.5 166.5,257.0 167.3,257.5 168.1,258.0 168.9,258.5 169.7,259.0 170.4,259.5 171.1,260.0 172.0,260.6 173.0,261.3 173.9,262.0 175.0,262.9 175.8,263.5 176.5,264.2 177.3,265.0 178.0,265.7 178.7,266.5 180.0,266.6 181.0,266.3 182.5,266.2 184.0,266.3 185.5,266.4 187.0,266.5 188.5,266.7 190.0,267.0 191.0,267.2 192.0,267.4 193.0,267.6 194.0,267.8 195.0,268.0 196.0,268.2 197.5,268.5 199.0,268.8 200.3,269.0 201.5,269.2 203.0,269.5 204.5,269.7 206.0,270.0 207.5,270.2 209.0,270.5 210.5,270.8 211.5,271.0 213.0,270.9 214.5,270.7 215.5,270.5 216.5,270.2 217.5,270.0 218.5,269.8 219.5,269.5 220.5,269.3 221.5,269.1 222.5,268.8 223.5,268.6 224.5,268.4 225.5,268.1 226.5,267.9 227.5,267.6 228.5,267.3 229.5,267.0 230.5,266.8 231.5,266.5 232.5,266.3 233.5,266.0 234.5,265.8 235.5,265.5 236.5,265.3 238.0,265.0 239.5,264.8 241.0,264.5 242.5,264.3 244.0,264.0 245.5,263.8 247.0,263.5 248.5,263.3 250.0,263.0 251.5,262.8 253.0,262.6 254.5,262.3 256.0,262.1 257.5,261.9 259.0,261.6 260.5,261.3 262.0,261.0 263.5,260.7 264.9,260.5 266.0,260.4 267.5,260.2 269.0,260.2 270.5,260.4 271.5,260.6 272.5,260.9 273.5,261.3 274.5,261.8 275.5,262.4 276.5,263.0 277.2,263.5 277.9,264.0 279.0,264.8 280.0,265.5 281.0,266.3 282.0,266.9 283.0,267.5 284.0,268.0 285.0,268.3 286.5,268.2 287.5,267.7 288.2,267.0 288.8,266.0 289.3,265.0 289.7,264.0 290.0,263.0 290.4,262.0 290.7,261.0 291.0,260.0 291.3,259.0 291.6,258.0 291.9,257.0 292.3,256.0 292.7,255.0 293.1,254.0 293.5,253.2 294.0,252.3 294.5,251.5 295.3,250.5 296.0,249.7 296.8,249.0 297.5,248.4 298.5,247.7 299.5,247.1 300.0,246.8 M0.0,211.2 0.6,212.0 1.3,213.0 2.0,214.0 2.7,215.0 3.5,216.0 4.0,216.8 4.5,217.5 5.2,218.5 6.0,219.5 6.5,220.2 7.1,221.0 7.8,222.0 8.5,222.9 9.3,224.0 10.0,224.9 10.9,226.0 11.5,226.7 12.3,227.5 13.0,228.3 13.8,229.0 14.5,229.6 15.5,230.3 16.5,230.9 17.5,231.4 18.5,231.6 20.0,231.8 21.5,231.6 22.5,231.3 23.5,230.9 24.4,230.5 25.4,230.0 26.2,229.5 27.0,229.0 27.8,228.5 28.6,228.0 29.3,227.5 30.1,227.0 30.8,226.5 31.5,226.0 32.2,225.5 32.9,225.0 33.7,224.5 34.4,224.0 35.1,223.5 35.8,223.0 36.6,222.5 37.3,222.0 38.1,221.5 38.9,221.0 39.7,220.5 40.5,220.0 41.4,219.5 42.4,219.0 43.4,218.5 44.4,218.0 45.5,217.6 46.5,217.2 47.5,216.8 48.5,216.5 49.5,216.3 50.5,216.1 52.0,215.8 53.5,215.6 55.0,215.5 56.5,215.5 58.0,215.5 59.5,215.6 61.0,215.7 62.5,215.9 63.7,216.0 65.0,216.2 66.5,216.4 68.0,216.7 69.5,216.9 70.5,217.1 71.5,217.3 72.5,217.6 73.5,217.8 74.5,218.1 75.5,218.3 76.5,218.6 77.5,218.9 78.5,219.2 79.5,219.6 80.5,219.9 81.5,220.3 82.5,220.7 83.4,221.0 84.5,221.4 85.5,221.9 86.5,222.3 87.5,222.7 88.5,223.2 89.5,223.6 90.5,224.1 91.4,224.5 92.4,225.0 93.4,225.5 94.4,226.0 95.4,226.5 96.4,227.0 97.4,227.5 98.4,228.0 99.3,228.5 100.3,229.0 101.2,229.5 102.0,229.9 103.0,230.5 103.9,231.0 104.8,231.5 105.6,232.0 106.5,232.5 107.3,233.0 108.1,233.5 108.9,234.0 109.7,234.5 110.5,235.0 111.2,235.5 111.9,236.0 113.0,236.8 113.9,237.5 115.0,238.4 115.7,239.0 116.5,239.8 117.3,240.5 118.0,241.3 118.7,242.0 119.5,243.0 120.3,244.0 121.0,244.9 122.0,244.7 123.5,244.5 125.0,244.6 126.5,244.8 127.8,245.0 129.0,245.3 130.0,245.5 131.0,245.8 132.0,246.1 133.0,246.4 134.0,246.7 135.0,247.0 136.0,247.3 137.0,247.7 138.0,248.0 139.0,248.3 140.0,248.7 141.0,249.0 142.0,249.4 143.0,249.7 144.0,250.1 145.0,250.5 146.0,250.9 147.0,251.3 148.0,251.8 149.0,252.2 150.0,252.7 150.9,253.0 152.0,253.5 153.0,253.9 154.0,254.3 155.0,254.8 156.0,255.3 157.0,255.8 158.0,256.3 159.0,256.8 160.0,257.3 161.0,257.8 162.0,258.4 163.0,258.9 164.0,259.5 164.8,260.0 165.7,260.5 166.5,261.0 167.3,261.5 168.1,262.0 168.9,262.5 169.7,263.0 170.4,263.5 171.2,264.0 171.9,264.5 172.6,265.0 173.3,265.5 174.5,266.4 175.3,267.0 176.0,267.6 176.9,268.5 177.9,269.5 178.5,270.2 179.5,270.6 180.5,270.3 182.0,270.1 183.5,270.1 185.0,270.2 186.5,270.2 188.0,270.4 189.5,270.6 191.0,270.9 192.5,271.2 194.0,271.5 195.5,271.8 196.6,272.0 198.0,272.3 199.3,272.5 200.5,272.7 202.0,273.0 203.5,273.2 205.0,273.5 206.5,273.7 208.0,274.0 209.5,274.3 210.7,274.5 212.0,274.8 213.5,274.5 215.0,274.3 216.0,274.1 217.0,273.8 218.0,273.6 219.0,273.4 220.0,273.1 221.0,272.9 222.0,272.7 223.0,272.5 224.0,272.3 225.0,272.1 226.0,271.8 227.0,271.5 228.0,271.3 229.0,271.0 230.0,270.7 231.0,270.5 232.0,270.2 233.0,270.0 234.0,269.8 235.0,269.5 236.0,269.3 237.5,269.0 239.0,268.8 240.5,268.5 242.0,268.3 243.5,268.0 245.0,267.8 246.5,267.6 248.0,267.3 249.5,267.0 251.0,266.8 252.5,266.6 254.0,266.4 255.5,266.1 257.0,265.9 258.5,265.6 260.0,265.4 261.5,265.1 262.5,264.9 263.5,264.7 264.5,264.5 266.0,264.2 267.5,264.0 269.0,263.9 270.5,263.9 272.0,264.1 273.0,264.3 274.0,264.7 275.0,265.1 275.8,265.5 276.7,266.0 277.5,266.5 278.2,267.0 278.9,267.5 280.0,268.3 281.0,269.0 281.7,269.5 282.5,270.0 283.3,270.5 284.2,271.0 285.0,271.4 286.0,271.7 287.5,271.6 288.5,271.1 289.4,270.0 290.0,269.0 290.4,268.0 290.8,267.0 291.1,266.0 291.5,265.0 291.8,264.0 292.1,263.0 292.4,262.0 292.7,261.0 293.0,260.0 293.4,259.0 293.8,258.0 294.2,257.0 294.7,256.0 295.3,255.0 296.0,254.0 296.9,253.0 298.0,252.0 299.0,251.2 300.0,250.6 M0.0,215.0 0.7,216.0 1.4,217.0 2.0,217.8 2.9,219.0 3.5,219.9 4.3,221.0 5.0,222.0 5.7,223.0 6.5,224.0 7.0,224.7 7.6,225.5 8.3,226.5 9.0,227.4 9.9,228.5 10.5,229.3 11.1,230.0 12.0,231.0 12.9,232.0 14.0,233.0 15.0,233.8 16.0,234.5 17.0,235.0 18.0,235.3 19.0,235.5 20.5,235.5 22.0,235.3 23.0,234.9 24.0,234.5 25.0,234.0 25.9,233.5 26.7,233.0 27.5,232.5 28.3,232.0 29.0,231.5 29.8,231.0 30.5,230.5 31.2,230.0 31.9,229.5 32.7,229.0 33.4,228.5 34.1,228.0 34.8,227.5 35.5,227.0 36.3,226.5 37.0,226.0 37.8,225.5 38.6,225.0 39.4,224.5 40.2,224.0 41.0,223.5 42.0,223.0 42.9,222.5 44.0,222.0 45.0,221.6 46.0,221.2 47.0,220.8 48.0,220.5 49.0,220.2 50.0,220.0 51.5,219.7 53.0,219.5 54.5,219.4 56.0,219.4 57.5,219.4 59.0,219.5 60.5,219.6 62.0,219.7 63.5,219.9 65.0,220.1 66.5,220.4 68.0,220.6 69.5,220.9 70.5,221.2 71.5,221.4 72.5,221.6 73.5,221.9 74.5,222.1 75.5,222.4 76.5,222.7 77.5,223.0 78.5,223.3 79.5,223.7 80.5,224.0 81.5,224.4 82.5,224.8 83.5,225.1 84.4,225.5 85.5,226.0 86.5,226.4 87.5,226.8 88.5,227.3 89.5,227.7 90.5,228.2 91.5,228.6 92.5,229.1 93.5,229.6 94.3,230.0 95.4,230.5 96.4,231.0 97.4,231.5 98.4,232.0 99.4,232.5 100.3,233.0 101.3,233.5 102.2,234.0 103.0,234.4 104.0,235.0 104.9,235.5 105.8,236.0 106.6,236.5 107.5,237.0 108.3,237.5 109.1,238.0 109.9,238.5 110.7,239.0 111.4,239.5 112.2,240.0 113.0,240.6 114.0,241.4 114.7,242.0 115.5,242.6 116.4,243.5 117.5,244.5 118.4,245.5 119.0,246.1 119.7,247.0 120.5,248.0 121.0,248.7 122.0,248.5 123.5,248.3 125.0,248.3 126.5,248.5 127.5,248.7 128.5,248.9 129.5,249.2 130.5,249.4 131.5,249.7 132.5,250.0 133.5,250.3 134.5,250.6 135.5,251.0 136.5,251.3 137.5,251.6 138.5,252.0 139.5,252.3 140.5,252.7 141.4,253.0 142.5,253.4 143.5,253.8 144.5,254.2 145.5,254.6 146.5,255.0 147.5,255.4 148.5,255.9 149.5,256.3 150.5,256.8 151.5,257.2 152.5,257.6 153.3,258.0 154.4,258.5 155.5,259.0 156.5,259.5 157.5,260.0 158.5,260.5 159.4,261.0 160.3,261.5 161.3,262.0 162.2,262.5 163.0,263.0 164.0,263.5 164.8,264.0 165.7,264.5 166.5,265.0 167.3,265.5 168.2,266.0 168.9,266.5 169.7,267.0 170.5,267.5 171.2,268.0 171.9,268.5 172.7,269.0 173.4,269.5 174.5,270.3 175.4,271.0 176.5,272.0 177.5,273.0 178.4,274.0 179.0,274.7 180.0,274.3 181.0,274.1 182.5,273.9 184.0,273.9 185.5,274.0 187.0,274.0 188.5,274.2 190.0,274.5 191.5,274.7 192.9,275.0 194.0,275.2 195.5,275.5 197.0,275.8 198.3,276.0 199.5,276.2 201.0,276.5 202.5,276.7 204.0,277.0 205.5,277.2 207.0,277.5 208.5,277.7 209.9,278.0 211.0,278.2 212.0,278.4 213.5,278.2 215.0,278.0 216.0,277.8 217.0,277.5 218.0,277.3 219.0,277.1 220.0,276.9 221.0,276.7 222.0,276.5 223.0,276.2 224.0,276.0 225.0,275.8 226.0,275.6 227.0,275.3 228.0,275.1 229.0,274.8 230.0,274.6 231.0,274.3 232.0,274.1 233.0,273.8 234.0,273.6 235.0,273.4 236.5,273.1 238.0,272.8 239.5,272.6 241.0,272.3 242.5,272.1 244.0,271.9 245.5,271.6 247.0,271.4 248.5,271.2 250.0,270.9 251.5,270.7 253.0,270.5 254.0,270.3 255.5,270.1 257.0,269.8 258.5,269.6 260.0,269.3 261.5,269.0 262.5,268.8 263.5,268.6 264.5,268.4 266.0,268.1 267.5,267.8 269.0,267.6 270.5,267.5 272.0,267.6 273.5,267.8 274.5,268.0 275.5,268.4 276.5,268.9 277.5,269.4 278.5,270.0 279.3,270.5 280.0,271.0 280.7,271.5 281.4,272.0 282.1,272.5 282.9,273.0 283.6,273.5 284.4,274.0 285.4,274.5 286.5,275.0 288.0,275.1 289.0,274.8 290.0,274.0 290.5,273.3 291.0,272.3 291.4,271.5 291.7,270.5 292.1,269.5 292.4,268.5 292.7,267.5 293.0,266.5 293.3,265.5 293.6,264.5 293.9,263.5 294.3,262.5 294.6,261.5 295.0,260.7 295.5,259.6 296.0,258.7 296.5,257.9 297.2,257.0 298.0,256.1 298.7,255.5 299.5,254.8 300.0,254.5 M0.0,218.9 0.8,220.0 1.5,220.9 2.3,222.0 3.0,223.0 3.7,224.0 4.4,225.0 5.0,225.8 5.5,226.5 6.3,227.5 7.0,228.5 7.5,229.2 8.1,230.0 8.9,231.0 9.5,231.8 10.0,232.5 10.9,233.5 11.5,234.2 12.2,235.0 13.0,235.8 13.7,236.5 14.5,237.2 15.5,237.9 16.4,238.5 17.5,239.0 18.5,239.2 20.0,239.4 21.5,239.2 22.5,238.9 23.5,238.5 24.5,238.1 25.5,237.5 26.4,237.0 27.2,236.5 28.0,236.0 28.8,235.5 29.5,235.0 30.2,234.5 30.9,234.0 31.7,233.5 32.4,233.0 33.1,232.5 33.8,232.0 34.5,231.5 35.2,231.0 36.0,230.5 36.7,230.0 37.5,229.5 38.2,229.0 39.0,228.5 39.9,228.0 40.7,227.5 41.5,227.1 42.5,226.5 43.5,226.0 44.5,225.6 45.5,225.2 46.5,224.8 47.4,224.5 48.5,224.2 49.5,223.9 50.5,223.7 52.0,223.5 53.5,223.3 55.0,223.3 56.5,223.3 58.0,223.3 59.5,223.4 61.0,223.5 62.5,223.7 64.0,223.9 65.5,224.2 67.0,224.4 68.5,224.7 69.5,224.9 70.5,225.2 71.5,225.4 72.5,225.6 73.5,225.9 74.5,226.2 75.5,226.4 76.5,226.8 77.5,227.1 78.5,227.4 79.5,227.7 80.5,228.1 81.5,228.5 82.5,228.8 83.5,229.2 84.5,229.6 85.4,230.0 86.5,230.5 87.5,230.9 88.5,231.3 89.5,231.8 90.5,232.2 91.5,232.7 92.5,233.2 93.5,233.6 94.5,234.1 95.5,234.6 96.3,235.0 97.4,235.5 98.4,236.0 99.4,236.5 100.4,237.0 101.3,237.5 102.3,238.0 103.2,238.5 104.2,239.0 105.0,239.5 106.0,240.0 106.9,240.5 107.7,241.0 108.5,241.5 109.4,242.0 110.2,242.5 111.0,243.0 111.7,243.5 112.4,244.0 113.5,244.8 114.4,245.5 115.5,246.4 116.1,247.0 117.0,247.8 117.7,248.5 118.5,249.3 119.1,250.0 119.9,251.0 120.5,251.8 121.5,252.3 123.0,252.1 124.5,252.0 126.0,252.2 127.5,252.4 128.5,252.7 129.5,252.9 130.5,253.2 131.5,253.5 132.5,253.8 133.5,254.1 134.5,254.4 135.5,254.8 136.5,255.1 137.5,255.4 138.5,255.8 139.5,256.1 140.5,256.5 141.5,256.9 142.5,257.3 143.5,257.7 144.5,258.1 145.5,258.5 146.5,258.9 147.5,259.4 148.5,259.8 149.5,260.3 150.5,260.7 151.5,261.2 152.5,261.6 153.4,262.0 154.5,262.5 155.5,263.0 156.5,263.5 157.5,264.0 158.5,264.5 159.4,265.0 160.3,265.5 161.2,266.0 162.2,266.5 163.0,267.0 163.9,267.5 164.8,268.0 165.7,268.5 166.5,269.0 167.3,269.5 168.2,270.0 169.0,270.5 169.7,271.0 170.5,271.5 171.3,272.0 172.0,272.5 172.7,273.0 173.5,273.5 174.5,274.3 175.4,275.0 176.5,275.9 177.1,276.5 178.0,277.4 179.0,278.5 180.0,278.2 181.0,277.9 182.5,277.7 184.0,277.7 185.5,277.8 187.0,277.8 188.5,278.0 190.0,278.2 191.5,278.5 193.0,278.7 194.5,279.0 196.0,279.3 197.3,279.5 198.5,279.7 200.0,280.0 200.2,280.0 M223.0,280.0 224.0,279.8 225.4,279.5 226.5,279.2 227.5,279.0 228.5,278.7 229.5,278.5 230.5,278.3 231.5,278.0 232.5,277.8 233.5,277.6 234.5,277.4 235.5,277.2 237.0,276.9 238.5,276.6 240.0,276.4 241.5,276.2 242.6,276.0 244.0,275.8 245.5,275.6 247.0,275.4 248.5,275.1 250.0,274.8 251.5,274.7 252.6,274.5 254.0,274.3 255.5,274.0 257.0,273.8 258.5,273.5 260.0,273.3 261.3,273.0 262.5,272.8 263.5,272.5 264.5,272.3 265.5,272.1 267.0,271.8 268.5,271.5 270.0,271.3 271.5,271.2 273.0,271.2 274.5,271.3 275.5,271.6 276.5,271.9 277.5,272.4 278.5,272.9 279.5,273.5 280.3,274.0 281.1,274.5 281.8,275.0 282.5,275.5 283.2,276.0 284.0,276.5 284.8,277.0 285.6,277.5 286.5,278.0 287.5,278.3 288.8,278.5 290.0,278.2 290.8,277.5 291.5,276.6 292.0,275.7 292.5,274.5 292.9,273.5 293.2,272.5 293.5,271.5 293.8,270.5 294.1,269.5 294.4,268.5 294.7,267.5 295.0,266.5 295.3,265.5 295.7,264.5 296.2,263.5 296.7,262.5 297.3,261.5 298.0,260.5 298.9,259.5 299.5,258.9 300.0,258.4 M0.0,222.7 0.6,223.5 1.3,224.5 2.0,225.4 2.8,226.5 3.5,227.5 4.2,228.5 5.0,229.5 5.5,230.2 6.1,231.0 6.8,232.0 7.5,233.0 8.3,234.0 9.0,235.0 9.8,236.0 10.5,236.9 11.5,238.0 12.4,239.0 13.0,239.6 13.9,240.5 15.0,241.4 15.9,242.0 16.8,242.5 18.0,242.9 19.0,243.1 20.5,243.2 21.6,243.0 23.0,242.6 24.0,242.1 25.0,241.6 26.0,241.1 26.9,240.5 27.7,240.0 28.5,239.5 29.2,239.0 30.0,238.5 30.7,238.0 31.4,237.5 32.1,237.0 32.8,236.5 33.5,236.0 34.2,235.5 35.0,235.0 35.7,234.5 36.4,234.0 37.2,233.5 37.9,233.0 38.7,232.5 39.5,232.0 40.4,231.5 41.3,231.0 42.2,230.5 43.0,230.1 44.0,229.6 45.0,229.2 46.0,228.8 47.0,228.5 48.0,228.2 49.0,227.9 50.0,227.7 51.5,227.4 53.0,227.2 54.5,227.2 56.0,227.1 57.5,227.2 59.0,227.3 60.5,227.4 62.0,227.6 63.5,227.8 64.6,228.0 66.0,228.2 67.3,228.5 68.5,228.7 69.5,229.0 70.5,229.2 71.5,229.4 72.5,229.7 73.5,229.9 74.5,230.2 75.5,230.5 76.5,230.8 77.5,231.1 78.5,231.5 79.5,231.8 80.5,232.2 81.4,232.5 82.5,232.9 83.5,233.3 84.5,233.7 85.5,234.1 86.4,234.5 87.5,235.0 88.5,235.4 89.5,235.8 90.5,236.3 91.5,236.7 92.5,237.2 93.5,237.7 94.5,238.1 95.5,238.6 96.4,239.0 97.4,239.5 98.5,240.0 99.5,240.5 100.5,241.0 101.5,241.5 102.5,242.0 103.4,242.5 104.4,243.0 105.3,243.5 106.2,244.0 107.0,244.4 108.0,245.0 108.8,245.5 109.7,246.0 110.5,246.5 111.2,247.0 112.0,247.5 113.0,248.2 114.0,249.0 115.0,249.8 115.8,250.5 116.5,251.1 117.4,252.0 118.4,253.0 119.0,253.7 119.7,254.5 120.5,255.5 121.0,256.2 122.0,256.0 123.5,255.8 125.0,255.8 126.3,256.0 127.5,256.2 128.5,256.4 129.5,256.7 130.5,257.0 131.5,257.3 132.5,257.6 133.5,257.9 134.5,258.2 135.5,258.6 136.5,258.9 137.5,259.3 138.5,259.6 139.5,260.0 140.5,260.4 141.5,260.8 142.5,261.2 143.5,261.6 144.5,262.0 145.5,262.4 146.5,262.8 147.5,263.3 148.5,263.8 149.5,264.3 150.5,264.7 151.5,265.1 152.5,265.6 153.4,266.0 154.4,266.5 155.5,267.0 156.5,267.5 157.4,268.0 158.4,268.5 159.3,269.0 160.3,269.5 161.2,270.0 162.0,270.4 163.0,271.0 163.9,271.5 164.8,272.0 165.6,272.5 166.5,273.0 167.3,273.5 168.1,274.0 169.0,274.5 169.8,275.0 170.5,275.5 171.3,276.0 172.0,276.5 172.8,277.0 173.5,277.5 174.2,278.0 175.0,278.6 176.0,279.4 176.7,280.0 M241.9,280.0 243.0,279.8 244.5,279.6 246.0,279.4 247.5,279.2 248.8,279.0 250.0,278.8 251.5,278.6 253.0,278.4 254.5,278.1 256.0,277.9 257.5,277.7 259.0,277.4 260.5,277.1 261.5,276.9 262.5,276.7 263.5,276.5 264.5,276.3 265.5,276.0 266.5,275.8 267.5,275.6 268.5,275.4 270.0,275.1 271.5,274.9 273.0,274.8 274.5,274.8 275.9,275.0 277.0,275.3 278.0,275.7 279.0,276.1 280.0,276.7 281.0,277.3 282.0,277.9 282.9,278.5 283.6,279.0 284.4,279.5 285.1,280.0 M292.5,280.0 293.0,279.0 293.4,278.0 293.8,277.0 294.1,276.0 294.4,275.0 294.7,274.0 295.0,273.0 295.3,272.0 295.6,271.0 295.9,270.0 296.2,269.0 296.6,268.0 297.0,267.1 297.5,266.1 298.0,265.2 298.5,264.4 299.2,263.5 300.0,262.6 M0.0,226.4 0.8,227.5 1.5,228.5 2.2,229.5 3.0,230.5 3.5,231.2 4.0,232.0 4.8,233.0 5.5,234.0 6.0,234.7 6.6,235.5 7.3,236.5 8.0,237.4 8.8,238.5 9.5,239.4 10.4,240.5 11.0,241.2 11.7,242.0 12.5,242.9 13.5,243.9 14.1,244.5 15.0,245.2 16.0,245.9 17.0,246.4 18.0,246.8 19.0,247.0 20.4,247.0 21.5,246.8 22.5,246.6 23.5,246.2 24.5,245.7 25.5,245.2 26.5,244.6 27.5,244.0 28.2,243.5 29.0,243.0 29.7,242.5 30.4,242.0 31.1,241.5 31.8,241.0 32.6,240.5 33.3,240.0 34.0,239.5 34.7,239.0 35.4,238.5 36.2,238.0 36.9,237.5 37.7,237.0 38.4,236.5 39.2,236.0 40.0,235.5 40.9,235.0 41.8,234.5 42.8,234.0 43.9,233.5 45.0,233.0 46.0,232.6 47.0,232.3 48.0,232.0 49.0,231.7 50.0,231.5 51.5,231.3 53.0,231.1 54.5,231.0 56.0,231.0 57.5,231.1 59.0,231.2 60.5,231.3 61.7,231.5 63.0,231.7 64.5,231.9 66.0,232.2 67.0,232.4 68.0,232.6 69.0,232.8 70.0,233.1 71.0,233.3 72.0,233.6 73.0,233.8 74.0,234.1 75.0,234.4 76.0,234.7 76.9,235.0 78.0,235.3 79.0,235.7 80.0,236.0 81.0,236.4 82.0,236.8 83.0,237.2 83.9,237.5 85.0,237.9 86.0,238.4 87.0,238.8 88.0,239.2 89.0,239.6 90.0,240.1 91.0,240.5 92.0,241.0 93.0,241.4 94.0,241.9 95.0,242.3 96.0,242.8 97.0,243.3 98.0,243.7 99.0,244.2 100.0,244.7 101.0,245.2 102.0,245.7 103.0,246.2 104.0,246.7 105.0,247.2 106.0,247.7 107.0,248.3 108.0,248.8 109.0,249.4 110.0,250.0 110.8,250.5 111.5,251.0 112.3,251.5 113.0,252.0 114.0,252.8 114.9,253.5 116.0,254.4 116.6,255.0 117.5,255.8 118.2,256.5 119.0,257.4 119.9,258.5 120.5,259.3 121.5,259.8 123.0,259.6 124.5,259.6 126.0,259.7 127.5,260.0 128.5,260.2 129.5,260.5 130.5,260.8 131.5,261.1 132.5,261.4 133.5,261.7 134.5,262.1 135.5,262.4 136.5,262.8 137.5,263.1 138.5,263.5 139.5,263.9 140.5,264.3 141.5,264.7 142.5,265.1 143.5,265.5 144.5,265.9 145.5,266.4 146.5,266.8 147.5,267.3 148.5,267.8 149.5,268.3 150.5,268.7 151.5,269.2 152.5,269.6 153.5,270.1 154.4,270.5 155.4,271.0 156.4,271.5 157.3,272.0 158.3,272.5 159.2,273.0 160.1,273.5 161.0,274.0 162.0,274.5 162.9,275.0 163.8,275.5 164.7,276.0 165.5,276.5 166.4,277.0 167.3,277.5 168.1,278.0 168.9,278.5 169.7,279.0 170.5,279.5 171.3,280.0 M265.4,280.0 266.5,279.8 267.5,279.6 268.5,279.3 269.5,279.1 270.5,278.9 272.0,278.6 273.5,278.4 275.0,278.3 276.5,278.5 277.5,278.7 278.5,279.0 279.5,279.4 280.5,279.9 280.8,280.0 M294.9,280.0 295.2,279.0 295.5,278.0 295.8,277.0 296.1,276.0 296.4,275.0 296.7,274.0 297.0,273.0 297.3,272.0 297.7,271.0 298.2,270.0 298.7,269.0 299.3,268.0 300.0,267.0 300.0,267.0 M0.0,230.2 0.6,231.0 1.3,232.0 2.0,232.9 2.8,234.0 3.5,235.0 4.0,235.7 4.6,236.5 5.3,237.5 6.0,238.5 6.8,239.5 7.5,240.5 8.0,241.2 8.6,242.0 9.4,243.0 10.0,243.8 10.6,244.5 11.4,245.5 12.0,246.2 12.8,247.0 13.5,247.7 14.4,248.5 15.5,249.4 16.5,250.0 17.5,250.4 18.5,250.7 20.0,250.9 21.5,250.7 22.5,250.4 23.5,250.0 24.5,249.6 25.5,249.0 26.4,248.5 27.2,248.0 28.0,247.5 28.7,247.0 29.4,246.5 30.2,246.0 30.9,245.5 31.6,245.0 32.3,244.5 33.0,244.0 33.7,243.5 34.4,243.0 35.2,242.5 35.9,242.0 36.6,241.5 37.4,241.0 38.2,240.5 38.9,240.0 39.8,239.5 40.6,239.0 41.5,238.5 42.5,238.0 43.5,237.5 44.5,237.1 45.5,236.6 46.5,236.3 47.5,236.0 48.5,235.7 49.5,235.5 51.0,235.2 52.5,235.0 54.0,234.9 55.5,234.9 57.0,235.0 58.5,235.1 60.0,235.2 61.5,235.4 63.0,235.6 64.5,235.9 66.0,236.2 67.0,236.4 68.0,236.6 69.0,236.8 70.0,237.1 71.0,237.3 72.0,237.6 73.0,237.9 74.0,238.1 75.0,238.4 76.0,238.7 77.0,239.1 78.0,239.4 79.0,239.7 80.0,240.1 81.0,240.4 82.0,240.8 83.0,241.2 84.0,241.6 85.0,242.0 86.0,242.4 87.0,242.8 88.0,243.2 89.0,243.6 89.8,244.0 91.0,244.5 92.0,244.9 93.0,245.4 94.0,245.8 95.0,246.3 96.0,246.7 97.0,247.2 98.0,247.6 99.0,248.1 99.9,248.5 100.9,249.0 101.9,249.5 102.9,250.0 103.9,250.5 104.9,251.0 105.9,251.5 106.8,252.0 107.7,252.5 108.5,252.9 109.5,253.5 110.3,254.0 111.1,254.5 111.9,255.0 112.6,255.5 113.5,256.2 114.5,256.9 115.2,257.5 116.0,258.2 116.9,259.0 117.9,260.0 118.5,260.6 119.3,261.5 120.0,262.4 120.8,263.5 122.0,263.5 123.5,263.3 125.0,263.4 126.5,263.6 128.0,263.9 129.0,264.2 130.0,264.4 131.0,264.7 132.0,265.1 133.0,265.4 134.0,265.7 135.0,266.1 136.0,266.5 137.0,266.8 138.0,267.2 139.0,267.6 140.0,268.0 141.0,268.4 142.0,268.8 143.0,269.2 144.0,269.7 145.0,270.1 145.8,270.5 146.9,271.0 147.9,271.5 148.9,272.0 149.9,272.5 151.0,273.0 152.0,273.4 153.0,273.9 154.0,274.4 155.0,274.9 156.0,275.4 157.0,275.9 158.0,276.4 159.0,277.0 160.0,277.5 160.9,278.0 161.9,278.5 162.8,279.0 163.7,279.5 164.5,280.0 164.6,280.0 M296.9,280.0 297.1,279.0 297.4,278.0 297.7,277.0 298.1,276.0 298.4,275.0 298.8,274.0 299.3,273.0 299.8,272.0 300.0,271.7 M0.0,234.0 0.8,235.0 1.5,236.0 2.2,237.0 2.9,238.0 3.5,238.8 4.0,239.5 4.7,240.5 5.5,241.5 6.0,242.2 6.6,243.0 7.3,244.0 8.0,245.0 8.8,246.0 9.5,247.0 10.3,248.0 11.0,248.8 11.6,249.5 12.5,250.5 13.5,251.5 14.5,252.4 15.2,253.0 16.0,253.5 16.9,254.0 18.0,254.4 19.0,254.7 20.5,254.7 21.7,254.5 23.0,254.1 24.0,253.7 25.0,253.2 26.0,252.6 27.0,252.0 27.7,251.5 28.5,251.0 29.2,250.5 30.0,250.0 30.7,249.5 31.4,249.0 32.1,248.5 32.8,248.0 33.5,247.5 34.2,247.0 34.9,246.5 35.7,246.0 36.4,245.5 37.1,245.0 37.9,244.5 38.7,244.0 39.5,243.5 40.3,243.0 41.2,242.5 42.0,242.1 43.0,241.6 44.0,241.1 45.0,240.7 46.0,240.3 46.9,240.0 48.0,239.7 49.0,239.4 50.0,239.2 51.5,239.0 53.0,238.9 54.5,238.8 56.0,238.8 57.5,238.9 58.8,239.0 60.0,239.1 61.5,239.3 63.0,239.6 64.5,239.9 66.0,240.2 67.0,240.4 68.0,240.6 69.0,240.8 70.0,241.1 71.0,241.3 72.0,241.6 73.0,241.9 74.0,242.1 75.0,242.4 76.0,242.7 77.0,243.1 78.0,243.4 79.0,243.7 80.0,244.1 81.0,244.4 82.0,244.8 83.0,245.2 84.0,245.6 85.0,246.0 86.0,246.4 87.0,246.8 88.0,247.2 89.0,247.6 89.9,248.0 91.0,248.5 92.0,248.9 93.0,249.3 94.0,249.8 95.0,250.2 96.0,250.6 97.0,251.1 97.9,251.5 99.0,252.0 100.0,252.4 101.0,252.9 102.0,253.4 103.0,253.9 104.0,254.4 105.0,254.9 106.0,255.4 107.0,255.9 108.0,256.5 109.0,257.0 109.8,257.5 110.6,258.0 111.4,258.5 112.2,259.0 112.9,259.5 114.0,260.3 114.9,261.0 116.0,261.9 117.0,262.9 117.6,263.5 118.5,264.4 119.5,265.5 120.0,266.2 120.6,267.0 121.5,267.4 123.0,267.2 124.5,267.1 126.0,267.3 127.0,267.5 128.5,267.8 129.5,268.1 130.5,268.4 131.5,268.7 132.5,269.1 133.5,269.4 134.5,269.8 135.5,270.2 136.5,270.6 137.5,270.9 138.5,271.3 139.5,271.7 140.5,272.2 141.5,272.6 142.5,273.0 143.5,273.4 144.5,273.9 145.5,274.4 146.5,274.8 147.5,275.3 148.5,275.8 149.5,276.3 150.5,276.8 151.5,277.3 152.5,277.7 153.5,278.2 154.5,278.7 155.5,279.2 156.5,279.7 157.0,280.0 M298.8,280.0 299.2,279.0 299.5,278.1 299.9,277.0 300.0,276.8 M0.0,237.7 0.6,238.5 1.3,239.5 2.0,240.4 2.8,241.5 3.5,242.5 4.0,243.2 4.6,244.0 5.3,245.0 6.0,246.0 6.5,246.7 7.1,247.5 7.8,248.5 8.5,249.4 9.3,250.5 10.0,251.4 10.9,252.5 11.5,253.2 12.2,254.0 13.0,254.9 13.6,255.5 14.5,256.3 15.4,257.0 16.2,257.5 17.0,257.9 18.0,258.3 19.0,258.5 20.5,258.6 22.0,258.3 23.0,258.0 24.0,257.5 25.0,257.0 25.9,256.5 26.8,256.0 27.5,255.5 28.3,255.0 29.0,254.5 29.8,254.0 30.5,253.5 31.2,253.0 31.9,252.5 32.6,252.0 33.3,251.5 34.0,251.0 34.7,250.5 35.4,250.0 36.2,249.5 36.9,249.0 37.7,248.5 38.4,248.0 39.2,247.5 40.0,247.0 40.9,246.5 41.8,246.0 42.8,245.5 43.9,245.0 45.0,244.5 46.0,244.2 47.0,243.8 48.0,243.5 49.0,243.3 50.0,243.1 51.5,242.9 53.0,242.7 54.5,242.7 56.0,242.7 57.5,242.8 59.0,242.9 60.5,243.1 62.0,243.3 63.5,243.6 65.0,243.9 66.0,244.1 67.0,244.3 68.0,244.6 69.0,244.8 70.0,245.0 71.0,245.3 72.0,245.6 73.0,245.8 74.0,246.1 75.0,246.4 76.0,246.7 77.0,247.0 78.0,247.4 79.0,247.7 80.0,248.1 81.0,248.4 82.0,248.8 83.0,249.2 83.9,249.5 85.0,249.9 86.0,250.3 87.0,250.7 88.0,251.1 88.9,251.5 90.0,252.0 91.0,252.4 92.0,252.8 93.0,253.2 94.0,253.7 95.0,254.1 95.9,254.5 97.0,255.0 98.0,255.4 99.0,255.8 100.0,256.3 101.0,256.7 102.0,257.2 103.0,257.7 104.0,258.2 105.0,258.7 106.0,259.2 107.0,259.7 108.0,260.2 109.0,260.8 110.0,261.4 111.0,262.0 111.8,262.5 112.5,263.0 113.5,263.7 114.5,264.5 115.2,265.0 116.0,265.7 116.9,266.5 117.5,267.1 118.3,268.0 119.0,268.7 119.6,269.5 120.4,270.5 121.0,271.3 122.0,271.1 123.5,270.9 125.0,271.0 126.5,271.2 127.5,271.4 128.5,271.7 129.5,272.0 130.5,272.3 131.5,272.6 132.5,273.0 133.5,273.3 134.5,273.7 135.5,274.1 136.5,274.5 137.5,274.9 138.5,275.3 139.5,275.7 140.5,276.1 141.4,276.5 142.5,277.0 143.5,277.5 144.5,277.9 145.5,278.4 146.5,278.9 147.5,279.4 148.5,279.9 148.7,280.0 M0.0,241.4 0.8,242.5 1.5,243.5 2.2,244.5 2.9,245.5 3.5,246.3 4.0,247.0 4.5,247.7 5.0,248.4 5.5,249.1 6.0,249.8 6.5,250.5 7.2,251.5 8.0,252.5 8.5,253.2 9.1,254.0 9.8,255.0 10.5,255.9 11.4,257.0 12.0,257.7 12.8,258.5 13.5,259.2 14.3,260.0 15.0,260.6 16.0,261.3 17.0,261.8 18.0,262.2 19.0,262.4 20.5,262.5 22.0,262.2 23.0,261.9 23.8,261.5 24.9,261.0 25.8,260.5 26.6,260.0 27.4,259.5 28.1,259.0 28.9,258.5 29.6,258.0 30.3,257.5 31.0,257.0 31.7,256.5 32.4,256.0 33.1,255.5 33.8,255.0 34.5,254.5 35.2,254.0 36.0,253.5 36.7,253.0 37.4,252.5 38.2,252.0 39.0,251.5 39.8,251.0 40.7,250.5 41.5,250.0 42.5,249.5 43.5,249.0 44.5,248.6 45.5,248.2 46.5,247.8 47.5,247.5 48.5,247.3 49.5,247.0 51.0,246.8 52.5,246.6 54.0,246.6 55.5,246.6 57.0,246.7 58.5,246.8 60.0,247.0 61.5,247.2 63.0,247.4 64.5,247.7 65.5,247.9 66.5,248.2 67.5,248.4 68.5,248.6 69.5,248.9 70.5,249.1 71.5,249.4 72.5,249.7 73.5,249.9 74.5,250.2 75.5,250.5 76.5,250.9 77.5,251.2 78.5,251.5 79.5,251.9 80.5,252.2 81.5,252.6 82.5,252.9 83.5,253.3 84.5,253.7 85.5,254.1 86.5,254.5 87.5,254.9 88.5,255.3 89.5,255.7 90.5,256.1 91.5,256.5 92.5,256.9 93.5,257.3 94.5,257.8 95.5,258.2 96.5,258.6 97.4,259.0 98.5,259.5 99.5,259.9 100.5,260.3 101.5,260.8 102.5,261.3 103.5,261.7 104.5,262.2 105.5,262.7 106.5,263.2 107.5,263.8 108.5,264.3 109.5,264.9 110.5,265.4 111.4,266.0 112.2,266.5 112.9,267.0 114.0,267.8 114.9,268.5 116.0,269.5 117.0,270.4 117.6,271.0 118.5,271.9 119.4,273.0 120.0,273.7 120.6,274.5 121.3,275.0 122.5,274.8 124.0,274.7 125.5,274.9 127.0,275.1 128.0,275.4 129.0,275.7 130.0,276.0 131.0,276.3 132.0,276.7 132.9,277.0 134.0,277.4 135.0,277.8 136.0,278.2 137.0,278.6 137.9,279.0 139.0,279.5 140.0,279.9 140.2,280.0 M0.0,245.2 0.6,246.0 1.3,247.0 2.0,248.0 2.7,249.0 3.5,250.0 4.0,250.8 4.5,251.5 5.0,252.2 5.5,252.9 6.0,253.6 6.5,254.3 7.0,255.0 7.7,256.0 8.5,257.0 9.0,257.7 9.6,258.5 10.3,259.5 11.0,260.3 11.6,261.0 12.4,262.0 13.4,263.0 14.5,264.0 15.5,264.8 16.5,265.4 17.5,265.9 18.5,266.2 20.0,266.4 21.5,266.2 22.5,265.9 23.5,265.6 24.5,265.1 25.5,264.6 26.4,264.0 27.2,263.5 28.0,263.0 28.7,262.5 29.4,262.0 30.1,261.5 30.8,261.0 32.0,260.2 32.9,259.5 34.0,258.7 35.0,258.0 35.8,257.5 36.5,257.0 37.2,256.5 38.0,256.0 38.8,255.5 39.6,255.0 40.4,254.5 41.3,254.0 42.3,253.5 43.3,253.0 44.4,252.5 45.5,252.0 46.5,251.7 47.5,251.4 48.5,251.1 49.5,250.9 51.0,250.7 52.5,250.5 54.0,250.5 55.5,250.5 57.0,250.5 58.5,250.7 60.0,250.9 61.5,251.1 63.0,251.4 64.5,251.6 65.5,251.9 66.5,252.1 67.5,252.3 68.5,252.6 69.5,252.8 70.5,253.1 71.5,253.3 72.5,253.6 73.5,253.9 74.5,254.2 75.5,254.5 76.5,254.8 77.5,255.1 78.5,255.4 79.5,255.8 80.5,256.1 81.5,256.5 82.5,256.9 83.5,257.2 84.5,257.6 85.5,258.0 86.5,258.4 87.5,258.8 88.5,259.2 89.4,259.5 90.5,260.0 91.5,260.4 92.5,260.8 93.5,261.2 94.5,261.6 95.5,262.0 96.5,262.4 97.5,262.8 98.5,263.3 99.5,263.7 100.5,264.1 101.5,264.6 102.4,265.0 103.4,265.5 104.5,266.0 105.5,266.5 106.5,267.0 107.5,267.5 108.4,268.0 109.3,268.5 110.2,269.0 111.0,269.5 111.8,270.0 112.5,270.5 113.2,271.0 114.0,271.6 115.0,272.4 115.7,273.0 116.5,273.7 117.4,274.5 118.0,275.2 118.8,276.0 119.5,276.9 120.4,278.0 121.0,278.9 122.0,278.7 123.5,278.5 125.0,278.6 126.5,278.9 127.5,279.1 128.5,279.4 129.5,279.7 130.4,280.0 M0.0,248.9 0.8,250.0 1.5,251.0 2.0,251.7 2.5,252.4 3.0,253.1 3.5,253.8 4.0,254.5 4.5,255.3 5.0,256.0 5.5,256.7 6.0,257.4 6.5,258.1 7.0,258.8 7.5,259.5 8.2,260.5 8.9,261.5 9.5,262.3 10.1,263.0 10.9,264.0 11.5,264.8 12.1,265.5 13.0,266.5 14.0,267.5 15.0,268.3 15.9,269.0 16.8,269.5 18.0,270.0 19.0,270.2 20.5,270.3 22.0,270.0 23.0,269.7 24.0,269.3 25.0,268.8 26.0,268.2 27.0,267.6 27.9,267.0 28.6,266.5 29.3,266.0 30.0,265.5 31.0,264.8 32.0,264.1 32.8,263.5 33.5,263.0 34.5,262.3 35.5,261.6 36.3,261.0 37.1,260.5 37.8,260.0 38.6,259.5 39.4,259.0 40.2,258.5 41.0,258.0 42.0,257.5 43.0,257.0 44.0,256.5 45.0,256.1 46.0,255.7 47.0,255.4 48.0,255.1 49.0,254.9 50.5,254.6 52.0,254.4 53.5,254.3 55.0,254.3 56.5,254.4 57.9,254.5 59.0,254.6 60.5,254.8 61.6,255.0 63.0,255.3 64.2,255.5 65.5,255.8 66.5,256.0 67.5,256.2 68.5,256.5 69.5,256.7 70.5,257.0 71.5,257.2 72.5,257.5 73.5,257.8 74.5,258.1 75.5,258.4 76.5,258.7 77.4,259.0 78.5,259.3 79.5,259.7 80.4,260.0 81.5,260.4 82.5,260.7 83.5,261.1 84.5,261.5 85.5,261.9 86.5,262.2 87.5,262.6 88.5,263.0 89.5,263.4 90.5,263.8 91.5,264.2 92.5,264.6 93.5,265.0 94.5,265.4 95.5,265.8 96.5,266.2 97.5,266.7 98.5,267.1 99.5,267.5 100.5,267.9 101.5,268.4 102.5,268.8 103.5,269.3 104.5,269.8 105.5,270.3 106.5,270.8 107.5,271.3 108.5,271.8 109.5,272.4 110.5,273.0 111.4,273.5 112.2,274.0 112.9,274.5 114.0,275.3 114.8,276.0 115.5,276.6 116.5,277.4 117.5,278.4 118.5,279.5 119.0,280.0 M0.0,252.7 0.6,253.5 1.3,254.5 2.0,255.5 2.5,256.2 3.0,256.9 3.5,257.6 4.0,258.3 4.5,259.1 5.0,259.8 5.5,260.5 6.0,261.2 6.5,261.9 7.0,262.6 7.5,263.4 8.0,264.1 8.7,265.0 9.4,266.0 10.0,266.8 10.5,267.5 11.3,268.5 12.0,269.3 12.6,270.0 13.5,270.9 14.5,271.9 15.3,272.5 16.0,273.0 16.9,273.5 18.0,274.0 19.0,274.2 20.5,274.2 21.9,274.0 23.0,273.7 24.0,273.2 25.0,272.7 26.0,272.1 27.0,271.5 27.8,271.0 28.5,270.5 29.2,270.0 29.9,269.5 31.0,268.7 32.0,268.0 33.0,267.3 34.0,266.5 34.8,266.0 35.5,265.5 36.2,265.0 36.9,264.5 37.6,264.0 38.4,263.5 39.2,263.0 40.0,262.5 40.9,262.0 41.8,261.5 42.7,261.0 43.8,260.5 44.9,260.0 46.0,259.6 47.0,259.3 47.9,259.0 49.0,258.7 50.3,258.5 51.5,258.3 53.0,258.2 54.5,258.2 56.0,258.2 57.5,258.3 59.0,258.5 60.5,258.7 62.0,259.0 63.5,259.2 64.5,259.4 65.5,259.7 66.5,259.9 67.5,260.1 68.5,260.4 69.5,260.6 70.5,260.9 71.5,261.1 72.5,261.4 73.5,261.7 74.5,262.0 75.5,262.3 76.5,262.6 77.5,262.9 78.5,263.2 79.5,263.6 80.5,263.9 81.5,264.3 82.5,264.6 83.5,265.0 84.5,265.3 85.5,265.7 86.5,266.1 87.5,266.5 88.5,266.8 89.5,267.2 90.5,267.6 91.4,268.0 92.5,268.4 93.5,268.8 94.5,269.2 95.5,269.6 96.4,270.0 97.5,270.4 98.5,270.8 99.5,271.3 100.5,271.7 101.5,272.1 102.5,272.6 103.4,273.0 104.5,273.5 105.5,274.0 106.5,274.5 107.5,275.0 108.4,275.5 109.3,276.0 110.2,276.5 111.0,277.0 111.8,277.5 112.5,278.0 113.2,278.5 114.0,279.1 115.0,279.9 115.1,280.0 M0.0,256.5 0.7,257.5 1.4,258.5 2.0,259.3 2.5,260.0 3.0,260.7 3.5,261.4 4.0,262.2 4.5,262.9 5.0,263.6 5.5,264.3 6.0,265.1 6.5,265.8 7.0,266.5 7.5,267.2 8.0,267.9 8.5,268.6 9.1,269.5 9.9,270.5 10.5,271.3 11.4,272.5 12.0,273.2 12.7,274.0 13.5,274.8 14.2,275.5 15.0,276.2 16.0,276.9 17.0,277.5 18.0,277.9 19.0,278.2 20.5,278.2 21.8,278.0 23.0,277.6 24.0,277.2 25.0,276.7 26.0,276.1 26.9,275.5 27.7,275.0 28.4,274.5 29.1,274.0 29.8,273.5 31.0,272.6 31.9,272.0 33.0,271.2 33.9,270.5 35.0,269.7 36.0,269.0 36.8,268.5 37.5,268.0 38.2,267.5 39.0,267.0 39.8,266.5 40.7,266.0 41.5,265.5 42.5,265.0 43.5,264.5 44.5,264.1 45.5,263.7 46.5,263.3 47.5,263.0 48.5,262.7 49.5,262.5 51.0,262.3 52.5,262.1 54.0,262.1 55.5,262.1 57.0,262.2 58.5,262.3 60.0,262.5 61.5,262.7 63.0,263.0 64.0,263.2 65.0,263.4 66.0,263.6 67.0,263.9 68.0,264.1 69.0,264.3 70.0,264.6 71.0,264.9 72.0,265.1 73.0,265.4 74.0,265.7 75.0,266.0 76.0,266.3 77.0,266.6 78.0,266.9 79.0,267.2 80.0,267.6 81.0,267.9 82.0,268.3 83.0,268.6 84.0,269.0 85.0,269.3 86.0,269.7 87.0,270.1 88.0,270.5 89.0,270.8 90.0,271.2 91.0,271.6 92.0,272.0 93.0,272.4 94.0,272.8 95.0,273.2 96.0,273.6 97.0,274.0 98.0,274.4 99.0,274.8 100.0,275.2 101.0,275.7 102.0,276.1 102.9,276.5 103.9,277.0 105.0,277.5 106.0,278.0 107.0,278.5 107.9,279.0 108.9,279.5 109.7,280.0 M0.0,260.3 0.5,261.0 1.0,261.7 1.5,262.4 2.0,263.1 2.5,263.8 3.0,264.5 3.5,265.3 4.0,266.0 4.5,266.7 5.0,267.5 5.5,268.2 6.0,268.9 6.5,269.6 7.0,270.4 7.5,271.1 8.0,271.8 8.5,272.5 9.0,273.2 9.6,274.0 10.3,275.0 11.0,275.9 11.9,277.0 12.5,277.7 13.2,278.5 14.0,279.3 14.8,280.0 M26.1,280.0 26.9,279.5 27.6,279.0 28.3,278.5 29.1,278.0 30.0,277.3 31.0,276.6 31.8,276.0 32.5,275.5 33.5,274.8 34.5,274.0 35.2,273.5 36.0,272.9 37.0,272.2 38.0,271.6 38.9,271.0 39.7,270.5 40.5,270.0 41.3,269.5 42.3,269.0 43.3,268.5 44.3,268.0 45.5,267.5 46.5,267.2 47.5,266.9 48.5,266.6 49.5,266.4 51.0,266.1 52.3,266.0 53.5,265.9 55.0,265.9 56.5,266.0 58.0,266.1 59.5,266.3 61.0,266.5 62.0,266.7 63.5,267.0 64.5,267.2 65.5,267.4 66.5,267.6 67.5,267.8 68.5,268.1 69.5,268.3 70.5,268.6 71.5,268.8 72.5,269.1 73.5,269.4 74.5,269.7 75.5,270.0 76.5,270.3 77.5,270.6 78.5,270.9 79.5,271.2 80.5,271.6 81.5,271.9 82.5,272.3 83.5,272.6 84.5,273.0 85.5,273.3 86.5,273.7 87.5,274.1 88.5,274.4 89.5,274.8 90.5,275.2 91.5,275.6 92.5,276.0 93.5,276.4 94.5,276.8 95.5,277.2 96.4,277.5 97.5,278.0 98.5,278.4 99.5,278.8 100.5,279.2 101.5,279.6 102.3,280.0 M0.0,264.1 0.5,264.8 1.0,265.5 1.5,266.2 2.0,266.9 2.5,267.6 3.0,268.4 3.5,269.1 4.0,269.8 4.5,270.6 5.0,271.3 5.5,272.1 6.0,272.8 6.5,273.5 7.0,274.3 7.5,275.0 8.0,275.7 8.5,276.4 9.0,277.1 9.6,278.0 10.4,279.0 11.0,279.8 11.1,280.0 M31.7,280.0 32.5,279.4 33.5,278.7 34.4,278.0 35.5,277.2 36.5,276.5 37.2,276.0 38.0,275.5 38.7,275.0 39.5,274.5 40.3,274.0 41.2,273.5 42.0,273.0 43.0,272.5 44.0,272.0 45.0,271.6 46.0,271.2 47.0,270.9 48.0,270.6 49.0,270.3 50.0,270.1 51.5,269.9 53.0,269.8 54.5,269.8 56.0,269.8 57.5,269.9 59.0,270.1 60.5,270.3 61.9,270.5 63.0,270.7 64.5,271.0 65.5,271.2 66.5,271.4 67.5,271.7 68.5,271.9 69.5,272.1 70.5,272.4 71.5,272.7 72.5,272.9 73.5,273.2 74.5,273.5 75.5,273.8 76.5,274.1 77.5,274.4 78.5,274.7 79.5,275.0 80.5,275.4 81.5,275.7 82.5,276.1 83.5,276.4 84.5,276.8 85.5,277.1 86.5,277.5 87.5,277.8 88.5,278.2 89.5,278.6 90.5,279.0 91.5,279.4 92.5,279.7 93.2,280.0 M0.0,267.9 0.5,268.6 1.0,269.3 1.5,270.0 2.0,270.8 2.5,271.5 3.0,272.2 3.5,273.0 4.0,273.7 4.5,274.5 5.0,275.2 5.5,275.9 6.0,276.7 6.5,277.4 7.0,278.2 7.5,278.9 8.0,279.6 8.3,280.0 M37.1,280.0 37.8,279.5 38.6,279.0 39.4,278.5 40.1,278.0 41.0,277.5 41.9,277.0 42.8,276.5 43.8,276.0 44.9,275.5 46.0,275.1 47.0,274.7 48.0,274.4 49.0,274.2 50.0,274.0 51.5,273.8 53.0,273.7 54.5,273.6 56.0,273.6 57.5,273.7 59.0,273.9 60.5,274.1 62.0,274.3 63.5,274.6 65.0,274.9 66.0,275.1 67.0,275.4 68.0,275.6 69.0,275.8 70.0,276.1 71.0,276.3 72.0,276.6 73.0,276.9 74.0,277.1 75.0,277.4 76.0,277.7 77.0,278.0 78.0,278.3 79.0,278.7 80.0,279.0 81.0,279.3 82.0,279.7 83.0,280.0 83.0,280.0 M0.0,271.7 0.5,272.4 1.0,273.2 1.5,273.9 2.0,274.6 2.5,275.4 3.0,276.1 3.5,276.8 4.0,277.6 4.5,278.3 5.0,279.1 5.5,279.8 5.6,280.0 M43.6,280.0 44.5,279.6 45.5,279.2 46.5,278.8 47.5,278.5 48.5,278.2 49.5,277.9 51.0,277.7 52.5,277.5 54.0,277.5 55.5,277.5 57.0,277.5 58.5,277.7 60.0,277.8 61.1,278.0 62.5,278.2 63.9,278.5 65.0,278.7 66.0,278.9 67.0,279.2 68.0,279.4 69.0,279.6 70.0,279.9 70.5,280.0 M0.0,275.6 0.5,276.3 1.0,277.0 1.5,277.7 2.0,278.5 2.5,279.2 3.0,280.0 3.0,280.0 M0.0,279.4 0.4,280.0" stroke="#b6b6b6" stroke-width="0.45"/>
<path d="M0.0,12.3 1.0,12.6 2.0,13.0 3.0,13.3 4.0,13.7 5.0,14.0 6.0,14.4 7.0,14.8 8.0,15.1 9.0,15.5 10.0,15.8 11.0,16.2 11.9,16.5 13.0,16.9 14.0,17.3 15.0,17.6 16.0,18.0 17.0,18.3 18.0,18.7 18.9,19.0 20.0,19.4 21.0,19.8 22.0,20.1 23.0,20.5 24.0,20.8 25.0,21.2 26.0,21.7 27.0,22.1 27.9,22.5 29.0,23.0 30.0,23.4 31.0,23.8 32.0,24.2 33.0,24.7 34.0,25.1 35.0,25.5 36.0,25.9 37.0,26.4 38.0,26.8 39.0,27.2 40.0,27.6 40.9,28.0 42.0,28.5 43.0,28.9 44.0,29.3 45.0,29.7 46.0,30.2 47.0,30.6 48.0,31.0 49.0,31.4 50.0,31.8 51.0,32.2 52.0,32.5 53.0,32.9 54.0,33.3 55.0,33.7 55.9,34.0 57.0,34.4 58.0,34.8 59.0,35.1 60.0,35.5 61.0,35.8 62.0,36.2 63.0,36.6 64.0,36.9 65.0,37.3 66.0,37.6 67.0,38.0 68.0,38.4 69.0,38.7 70.0,39.1 71.0,39.5 72.0,39.9 73.0,40.2 74.0,40.6 75.0,41.0 76.0,41.4 77.0,41.7 78.0,42.0 79.0,42.4 80.0,42.8 81.0,43.1 82.0,43.5 83.0,43.9 84.0,44.2 85.0,44.6 86.0,45.0 87.0,45.4 88.0,45.8 89.0,46.2 90.0,46.6 91.0,47.0 92.0,47.4 93.0,47.8 94.0,48.2 95.0,48.7 96.0,49.1 96.9,49.5 98.0,50.0 99.0,50.5 100.0,51.0 101.0,51.5 102.0,52.0 102.9,52.5 103.7,53.0 104.5,53.6 105.4,54.5 106.0,55.2 106.6,56.0 107.2,57.0 107.6,58.0 108.1,59.0 108.4,60.0 108.8,61.0 109.2,62.0 109.5,62.9 109.9,64.0 110.3,65.0 110.8,66.0 111.4,67.0 111.9,68.0 112.5,68.8 113.1,69.5 113.8,70.5 114.5,71.4 115.0,72.2 115.5,73.0 116.0,74.0 116.5,75.0 117.0,76.0 117.4,77.0 117.8,78.0 118.2,79.0 118.6,80.0 119.0,80.9 119.4,82.0 119.8,83.0 120.2,84.0 120.6,85.0 121.0,86.0 121.3,85.0 121.7,84.0 122.0,83.0 122.3,82.0 122.6,81.0 123.0,80.0 123.3,79.0 123.6,78.0 124.0,77.0 124.3,76.0 124.6,75.0 125.0,74.0 125.3,73.0 125.7,72.0 126.1,71.0 126.5,70.1 127.0,69.0 127.4,68.0 127.8,67.0 128.2,66.0 128.6,65.0 129.0,64.1 129.5,63.0 130.0,62.0 130.5,61.0 131.0,60.0 131.5,59.2 132.0,58.5 132.8,57.5 133.5,56.8 134.4,56.0 135.5,55.2 136.5,54.7 137.5,54.2 138.5,53.8 139.5,53.5 140.5,53.2 141.5,52.9 142.5,52.7 143.5,52.5 145.0,52.2 146.4,52.0 147.5,51.8 149.0,51.6 150.2,51.5 151.5,51.3 153.0,51.2 154.5,51.0 156.0,50.9 157.5,50.7 159.0,50.6 160.5,50.6 162.0,50.9 163.0,51.1 164.0,51.4 165.0,51.6 166.0,51.9 167.0,52.3 168.0,52.7 169.0,53.3 170.0,53.9 170.8,54.5 171.5,55.1 172.2,56.0 172.7,57.0 173.2,58.0 173.6,59.0 174.0,60.0 174.4,61.0 174.8,62.0 175.1,63.0 175.5,64.0 175.8,65.0 176.1,66.0 176.4,67.0 176.6,68.0 176.9,69.0 177.1,70.0 177.4,71.0 177.6,72.0 177.8,73.0 178.0,74.0 178.3,75.0 178.5,76.0 178.7,77.5 179.0,78.9 179.3,77.5 179.6,76.5 179.9,75.5 180.2,74.5 180.5,73.5 180.9,72.5 181.3,71.5 181.7,70.5 182.2,69.5 182.8,68.5 183.4,67.5 184.0,66.8 184.9,66.0 186.0,65.2 187.0,64.8 188.0,64.6 189.0,64.1 190.0,63.6 191.0,63.3 192.0,63.1 193.5,62.9 195.0,62.9 196.5,63.0 198.0,63.2 199.0,63.4 200.0,63.7 201.0,64.0 202.0,64.4 203.0,64.8 204.0,65.3 205.0,65.9 205.8,66.5 206.5,67.1 207.5,67.9 208.1,68.5 209.0,69.4 210.0,70.5 210.8,71.5 211.5,72.4 212.0,73.1 212.6,72.5 213.5,71.7 214.4,71.0 215.3,70.5 216.5,70.1 218.0,69.9 219.5,69.7 221.0,69.8 222.5,69.9 223.6,70.0 225.0,70.2 226.0,70.9 226.9,71.5 227.7,72.0 228.4,72.5 229.2,73.0 229.9,73.5 230.7,74.0 231.5,74.5 232.3,75.0 233.1,75.5 234.0,76.0 234.8,76.5 235.8,77.0 236.9,77.5 238.0,78.0 239.0,78.4 240.0,78.9 241.0,79.3 242.0,79.7 243.0,80.1 244.0,80.5 245.0,80.8 246.0,81.1 247.0,81.4 248.0,81.7 249.0,82.0 250.0,82.3 251.0,82.6 252.0,82.9 253.0,83.1 254.0,83.4 255.0,83.7 256.5,83.9 258.0,84.1 259.5,84.3 260.9,84.5 262.0,84.6 263.5,84.8 264.9,85.0 266.5,85.1 268.0,85.2 269.5,85.3 271.0,85.5 272.5,85.6 274.0,85.7 275.5,85.8 277.0,85.9 278.5,86.0 280.0,86.2 281.5,86.3 283.0,86.5 284.5,86.6 286.0,86.8 287.5,87.0 289.0,87.2 290.5,87.3 291.7,87.5 293.0,87.7 294.5,87.9 296.0,88.1 297.5,88.4 299.0,88.6 300.0,88.7 M0.0,16.7 1.0,17.1 2.0,17.4 3.0,17.8 4.0,18.2 5.0,18.6 6.0,19.0 7.0,19.3 8.0,19.7 9.0,20.1 10.0,20.5 11.0,20.9 12.0,21.3 13.0,21.6 13.9,22.0 15.0,22.4 16.0,22.8 17.0,23.2 18.0,23.6 19.0,24.0 20.0,24.3 21.0,24.7 22.0,25.1 23.0,25.5 24.0,25.9 25.0,26.3 26.0,26.8 27.0,27.2 28.0,27.7 29.0,28.1 30.0,28.6 30.9,29.0 32.0,29.5 33.0,29.9 34.0,30.4 35.0,30.8 36.0,31.3 37.0,31.7 38.0,32.1 39.0,32.6 40.0,33.0 41.0,33.4 42.0,33.8 43.0,34.2 44.0,34.7 44.9,35.0 46.0,35.5 47.0,35.8 48.0,36.2 49.0,36.6 50.0,37.0 51.0,37.4 52.0,37.7 53.0,38.1 54.0,38.4 55.0,38.8 56.0,39.1 57.0,39.5 58.0,39.8 59.0,40.1 60.0,40.5 61.0,40.9 62.0,41.2 63.0,41.6 64.0,41.9 65.0,42.3 66.0,42.6 67.0,43.0 68.0,43.4 69.0,43.7 70.0,44.1 71.0,44.5 72.0,44.9 73.0,45.3 74.0,45.7 75.0,46.1 76.0,46.5 77.0,46.8 78.0,47.2 79.0,47.6 80.0,48.0 81.0,48.3 82.0,48.7 83.0,49.1 83.9,49.5 85.0,49.9 86.0,50.3 87.0,50.8 88.0,51.2 89.0,51.7 90.0,52.1 91.0,52.6 92.0,53.2 93.0,53.8 94.0,54.4 94.9,55.0 96.0,55.9 96.7,56.5 97.5,57.3 98.1,58.0 98.9,59.0 99.5,59.8 100.0,60.5 100.8,61.5 101.5,62.5 102.0,63.3 102.5,64.0 103.0,64.7 103.5,65.5 104.3,66.5 105.0,67.4 106.0,68.5 107.0,69.5 108.0,70.5 109.0,71.4 110.0,72.5 110.9,73.5 111.5,74.2 112.2,75.0 113.0,76.0 113.8,77.0 114.5,78.0 115.0,78.8 115.5,79.5 116.0,80.4 116.5,81.2 116.9,82.0 117.5,83.0 118.0,84.0 118.5,85.0 119.0,85.9 119.5,86.9 120.0,88.0 120.5,89.0 121.0,90.0 121.4,89.0 121.8,88.0 122.2,87.0 122.6,86.0 123.0,85.0 123.4,84.0 123.8,83.0 124.2,82.0 124.6,81.0 125.0,80.1 125.5,79.0 125.9,78.0 126.3,77.0 126.8,76.0 127.2,75.0 127.7,74.0 128.2,73.0 128.8,72.0 129.4,71.0 130.0,70.1 130.5,69.4 131.0,68.7 131.5,68.0 132.3,67.0 133.0,66.1 133.9,65.0 134.9,64.0 136.0,63.0 136.7,62.5 137.4,62.0 138.2,61.5 139.2,61.0 140.0,60.6 141.0,60.2 142.0,59.8 142.9,59.5 144.0,59.2 145.0,58.9 146.0,58.7 147.0,58.5 148.5,58.2 149.6,58.0 151.0,57.8 152.5,57.6 154.0,57.4 155.5,57.2 157.0,57.0 158.5,56.8 160.0,56.7 161.5,57.0 163.0,57.3 164.0,57.5 165.0,57.8 166.0,58.1 167.0,58.5 168.0,58.9 169.0,59.5 169.8,60.0 170.5,60.5 171.5,61.4 172.3,62.5 172.7,63.5 173.2,64.5 173.6,65.5 174.0,66.4 174.4,67.5 174.8,68.5 175.1,69.5 175.4,70.5 175.8,71.5 176.1,72.5 176.3,73.5 176.6,74.5 176.9,75.5 177.1,76.5 177.4,77.5 177.6,78.5 177.8,79.5 178.1,80.5 178.3,81.5 178.5,82.5 178.8,84.0 179.0,85.2 179.3,84.0 179.6,83.0 179.9,82.0 180.2,81.0 180.5,80.0 180.9,79.0 181.3,78.0 181.7,77.0 182.2,76.0 182.8,75.0 183.4,74.0 184.0,73.3 184.9,72.5 186.0,71.7 187.0,71.3 188.0,71.1 189.0,70.5 190.0,70.1 191.0,69.8 192.0,69.5 193.5,69.4 195.0,69.3 196.5,69.5 198.0,69.7 199.0,69.9 200.0,70.2 201.0,70.5 202.0,70.9 203.0,71.3 204.0,71.8 205.0,72.4 205.8,73.0 206.5,73.5 207.5,74.4 208.2,75.0 209.0,75.8 209.6,76.5 210.5,77.5 211.3,78.5 212.0,79.5 213.0,78.5 214.0,77.6 214.9,77.0 216.0,76.5 217.0,76.3 218.5,76.0 220.0,75.9 221.5,75.9 223.0,75.9 224.5,76.1 225.5,76.4 226.4,77.0 227.3,77.5 228.1,78.0 229.0,78.5 229.9,79.0 230.7,79.5 231.7,80.0 232.5,80.5 233.5,81.0 234.5,81.5 235.5,81.9 236.5,82.3 237.5,82.7 238.5,83.1 239.5,83.5 240.5,83.8 241.5,84.2 242.5,84.5 243.5,84.9 244.5,85.2 245.5,85.5 246.5,85.7 247.5,86.0 248.5,86.2 249.5,86.5 250.5,86.7 251.5,87.0 252.5,87.2 253.5,87.4 254.5,87.7 256.0,87.9 257.5,88.1 259.0,88.2 260.5,88.4 262.0,88.6 263.5,88.7 265.0,88.9 266.5,88.9 268.0,89.0 269.5,89.1 271.0,89.2 272.5,89.2 274.0,89.3 275.5,89.4 277.0,89.5 278.5,89.5 280.0,89.6 281.5,89.7 283.0,89.8 284.5,90.0 286.0,90.1 287.5,90.2 289.0,90.3 290.5,90.5 292.0,90.6 293.5,90.8 295.0,91.0 296.5,91.2 298.0,91.4 299.5,91.6 300.0,91.6 M0.0,21.2 1.0,21.6 1.9,22.0 3.0,22.5 4.0,22.9 5.0,23.3 6.0,23.7 7.0,24.1 8.0,24.5 9.0,24.9 10.0,25.3 11.0,25.8 12.0,26.2 13.0,26.6 14.0,27.0 15.0,27.4 16.0,27.8 17.0,28.3 18.0,28.7 19.0,29.1 20.0,29.5 21.0,29.9 22.0,30.3 23.0,30.7 24.0,31.1 25.0,31.6 26.0,32.1 26.8,32.5 27.8,33.0 28.9,33.5 29.9,34.0 31.0,34.5 32.0,35.0 33.0,35.4 34.0,35.9 35.0,36.3 36.0,36.7 37.0,37.1 38.0,37.6 39.0,38.0 40.0,38.4 41.0,38.8 42.0,39.2 42.9,39.5 44.0,39.9 45.0,40.3 46.0,40.7 46.9,41.0 48.0,41.4 49.0,41.7 50.0,42.1 51.0,42.4 52.0,42.8 53.0,43.1 54.0,43.4 55.0,43.8 56.0,44.1 57.0,44.4 58.0,44.8 59.0,45.1 60.0,45.4 61.0,45.8 62.0,46.1 63.0,46.5 64.0,46.9 65.0,47.2 66.0,47.6 67.0,48.0 68.0,48.3 69.0,48.7 70.0,49.1 71.0,49.5 72.0,49.9 73.0,50.3 74.0,50.8 75.0,51.2 76.0,51.6 77.0,51.9 78.0,52.3 79.0,52.7 80.0,53.2 81.0,53.6 81.9,54.0 83.0,54.5 84.0,55.0 85.0,55.5 85.9,56.0 86.8,56.5 87.6,57.0 88.4,57.5 89.1,58.0 90.0,58.7 91.0,59.5 92.0,60.4 92.7,61.0 93.5,61.8 94.1,62.5 95.0,63.5 95.8,64.5 96.5,65.3 97.4,66.5 98.0,67.2 98.7,68.0 99.5,68.9 100.5,69.9 101.2,70.5 102.0,71.2 102.9,72.0 103.5,72.6 104.5,73.5 105.5,74.5 106.5,75.5 107.5,76.5 108.5,77.5 109.4,78.5 110.0,79.1 110.8,80.0 111.5,80.8 112.1,81.5 113.0,82.5 113.9,83.5 114.5,84.2 115.1,85.0 115.9,86.0 116.5,86.8 117.0,87.5 117.5,88.2 118.0,89.0 118.5,89.7 119.0,90.5 119.5,91.3 120.0,92.1 120.5,92.9 121.0,93.7 121.5,92.7 122.0,91.7 122.5,90.6 123.0,89.6 123.5,88.5 124.0,87.5 124.5,86.5 125.0,85.5 125.5,84.5 126.0,83.5 126.5,82.5 127.0,81.5 127.5,80.6 128.0,79.7 128.5,78.9 129.0,78.1 129.5,77.3 130.0,76.6 130.5,75.8 131.1,75.0 132.0,74.0 132.9,73.0 133.5,72.4 134.4,71.5 135.5,70.6 136.3,70.0 137.0,69.5 137.8,69.0 138.6,68.5 139.5,68.0 140.5,67.5 141.5,67.0 142.5,66.6 143.5,66.2 144.5,65.8 145.5,65.5 146.5,65.2 147.5,65.0 148.5,64.7 149.5,64.5 150.5,64.3 152.0,64.0 153.5,63.8 155.0,63.6 156.5,63.4 158.0,63.2 159.5,63.1 161.0,63.2 162.5,63.5 163.5,63.7 164.5,64.0 165.5,64.3 166.5,64.7 167.5,65.1 168.3,65.5 169.1,66.0 169.9,66.5 171.0,67.4 172.0,68.5 172.5,69.5 173.0,70.5 173.4,71.5 173.8,72.5 174.2,73.5 174.6,74.5 174.9,75.5 175.3,76.5 175.6,77.5 175.9,78.5 176.2,79.5 176.5,80.5 176.8,81.5 177.0,82.5 177.3,83.5 177.5,84.5 177.7,85.5 178.0,86.5 178.2,87.5 178.5,88.5 178.7,89.5 179.0,90.5 179.4,89.5 179.7,88.5 180.1,87.5 180.4,86.5 180.8,85.5 181.2,84.5 181.6,83.5 182.1,82.5 182.7,81.5 183.4,80.5 184.0,79.8 184.8,79.0 185.5,78.5 186.3,78.0 187.5,77.6 188.5,77.2 189.5,76.7 190.5,76.4 191.5,76.1 193.0,75.9 194.5,75.8 196.0,75.9 197.5,76.1 199.0,76.4 200.0,76.7 201.0,77.0 202.0,77.4 203.0,77.8 204.0,78.3 205.0,78.9 205.9,79.5 207.0,80.4 207.7,81.0 208.5,81.7 209.3,82.5 210.0,83.2 210.7,84.0 211.5,85.0 212.7,85.0 213.5,84.3 214.5,83.5 215.3,83.0 216.5,82.6 217.5,82.3 218.5,82.1 220.0,81.9 221.5,81.8 223.0,81.8 224.5,81.9 225.5,82.2 226.5,82.7 227.5,83.2 228.5,83.7 229.5,84.2 230.5,84.7 231.5,85.2 232.5,85.6 233.5,86.1 234.5,86.5 235.5,86.9 236.5,87.2 237.5,87.6 238.5,87.9 239.5,88.2 240.5,88.5 241.5,88.8 242.5,89.1 243.5,89.4 244.5,89.6 245.5,89.9 246.5,90.1 247.5,90.3 248.5,90.5 249.5,90.7 250.5,90.9 251.5,91.1 252.5,91.3 253.5,91.5 255.0,91.8 256.5,92.0 258.0,92.1 259.5,92.3 261.0,92.4 262.1,92.5 263.5,92.6 265.0,92.7 266.5,92.8 268.0,92.8 269.5,92.8 271.0,92.9 272.5,92.9 274.0,93.0 275.5,93.0 277.0,93.0 278.5,93.1 280.0,93.1 281.5,93.2 283.0,93.2 284.5,93.3 286.0,93.4 287.5,93.5 289.0,93.6 290.5,93.7 292.0,93.8 293.5,93.9 294.8,94.0 296.0,94.1 297.5,94.3 299.0,94.4 300.0,94.5 M0.0,25.9 1.0,26.4 2.0,26.8 3.0,27.3 4.0,27.7 5.0,28.1 6.0,28.6 6.9,29.0 8.0,29.5 9.0,29.9 10.0,30.4 11.0,30.8 12.0,31.3 13.0,31.8 14.0,32.2 15.0,32.7 16.0,33.1 17.0,33.6 17.8,34.0 18.9,34.5 20.0,35.0 21.0,35.5 22.0,35.9 23.0,36.3 24.0,36.8 25.0,37.3 26.0,37.8 27.0,38.3 28.0,38.8 29.0,39.3 30.0,39.7 31.0,40.2 32.0,40.6 32.9,41.0 34.0,41.5 35.0,41.9 36.0,42.3 37.0,42.7 37.9,43.0 39.0,43.4 40.0,43.8 41.0,44.1 42.0,44.5 43.0,44.8 44.0,45.2 45.0,45.5 46.0,45.8 47.0,46.2 48.0,46.5 49.0,46.8 50.0,47.2 51.0,47.5 52.0,47.8 53.0,48.1 54.0,48.4 55.0,48.7 56.0,49.0 57.0,49.4 58.0,49.7 59.0,50.0 60.0,50.4 61.0,50.7 62.0,51.1 63.0,51.4 64.0,51.8 65.0,52.2 65.9,52.5 67.0,52.9 68.0,53.3 69.0,53.7 70.0,54.1 71.0,54.5 72.0,54.9 73.0,55.4 74.0,55.8 75.0,56.3 76.0,56.7 77.0,57.1 77.9,57.5 79.0,58.0 80.0,58.5 81.0,59.0 81.9,59.5 82.8,60.0 83.6,60.5 84.4,61.0 85.2,61.5 85.9,62.0 87.0,62.8 87.9,63.5 89.0,64.4 89.6,65.0 90.5,65.8 91.2,66.5 92.0,67.2 92.8,68.0 93.5,68.7 94.3,69.5 95.0,70.2 95.8,71.0 96.5,71.7 97.3,72.5 98.0,73.2 98.7,74.0 99.5,74.9 100.1,75.5 101.0,76.5 102.0,77.5 102.9,78.5 103.5,79.1 104.3,80.0 105.0,80.7 105.7,81.5 106.5,82.3 107.2,83.0 108.0,83.9 108.6,84.5 109.5,85.4 110.2,86.0 111.0,86.8 111.7,87.5 112.5,88.2 113.4,89.0 114.5,90.0 115.5,90.9 116.5,91.9 117.5,93.0 118.3,94.0 119.0,94.8 119.6,95.5 120.4,96.5 121.0,97.3 121.5,96.5 122.0,95.6 122.5,94.8 123.0,93.9 123.5,93.0 124.0,92.1 124.5,91.3 125.0,90.5 125.5,89.6 126.0,88.7 126.5,87.9 127.0,87.1 127.5,86.3 128.0,85.5 128.5,84.7 129.0,84.0 129.7,83.0 130.5,82.0 131.3,81.0 132.0,80.2 132.7,79.5 133.5,78.7 134.2,78.0 135.0,77.3 136.0,76.6 136.8,76.0 137.5,75.5 138.4,75.0 139.2,74.5 140.2,74.0 141.3,73.5 142.4,73.0 143.5,72.6 144.5,72.2 145.5,71.9 146.5,71.6 147.5,71.4 148.5,71.1 149.5,70.9 150.5,70.7 152.0,70.4 153.5,70.2 154.6,70.0 156.0,69.8 157.5,69.6 159.0,69.5 160.4,69.5 161.5,69.7 162.5,69.9 163.5,70.2 164.5,70.4 165.5,70.8 166.5,71.1 167.5,71.6 168.5,72.1 169.5,72.8 170.4,73.5 171.5,74.5 172.2,75.5 172.7,76.5 173.1,77.5 173.5,78.4 174.0,79.5 174.4,80.5 174.7,81.5 175.1,82.5 175.4,83.5 175.8,84.5 176.1,85.5 176.4,86.5 176.7,87.5 177.0,88.5 177.3,89.5 177.6,90.5 177.9,91.5 178.2,92.5 178.5,93.5 178.8,94.5 179.5,94.0 179.9,93.0 180.4,92.0 180.8,91.0 181.3,90.0 181.9,89.0 182.5,88.0 183.0,87.3 183.6,86.5 184.5,85.6 185.2,85.0 186.0,84.5 187.0,84.0 188.0,83.8 189.0,83.3 190.0,82.9 191.0,82.6 192.5,82.3 194.0,82.2 195.5,82.3 197.0,82.4 198.5,82.7 199.5,83.0 200.5,83.2 201.5,83.6 202.5,84.0 203.5,84.4 204.5,84.9 205.5,85.5 206.2,86.0 207.0,86.6 208.0,87.4 209.0,88.4 209.7,89.0 210.5,89.9 211.5,91.0 212.0,91.7 212.7,91.0 213.5,90.3 214.5,89.5 215.4,89.0 216.5,88.6 217.5,88.2 218.5,88.0 220.0,87.8 221.5,87.6 223.0,87.6 224.5,87.6 225.5,87.8 226.5,88.2 227.5,88.7 228.5,89.1 229.5,89.5 230.5,89.9 231.5,90.3 232.5,90.6 233.4,91.0 234.5,91.4 235.5,91.7 236.5,92.0 237.5,92.2 238.5,92.5 239.5,92.8 240.5,93.0 241.5,93.3 242.5,93.5 243.5,93.7 244.5,94.0 245.5,94.2 247.0,94.5 248.5,94.7 250.0,95.0 251.5,95.3 252.8,95.5 254.0,95.7 255.5,95.9 257.0,96.0 258.5,96.2 260.0,96.3 261.5,96.4 263.0,96.5 264.5,96.6 266.0,96.6 267.5,96.6 269.0,96.6 270.5,96.7 272.0,96.7 273.5,96.7 275.0,96.7 276.5,96.7 278.0,96.7 279.5,96.7 281.0,96.7 282.5,96.7 284.0,96.7 285.5,96.7 287.0,96.8 288.5,96.8 290.0,96.8 291.5,96.9 293.0,97.0 294.5,97.0 296.0,97.1 297.5,97.2 299.0,97.3 300.0,97.4 M0.0,30.8 1.0,31.3 2.0,31.8 3.0,32.3 4.0,32.8 5.0,33.3 6.0,33.8 7.0,34.3 8.0,34.8 9.0,35.3 10.0,35.9 11.0,36.4 12.0,36.9 13.0,37.4 14.0,38.0 15.0,38.5 16.0,39.0 16.9,39.5 17.9,40.0 19.0,40.5 20.0,40.9 21.0,41.3 22.0,41.6 23.0,42.0 24.0,42.4 25.0,42.8 26.0,43.2 27.0,43.7 28.0,44.2 29.0,44.7 30.0,45.2 31.0,45.6 32.0,46.1 32.8,46.5 34.0,47.0 35.0,47.4 36.0,47.8 37.0,48.2 38.0,48.5 39.0,48.8 40.0,49.2 41.0,49.5 42.0,49.8 43.0,50.1 44.0,50.4 45.0,50.7 45.9,51.0 47.0,51.3 48.0,51.6 49.0,51.9 50.0,52.2 51.0,52.5 52.0,52.8 53.0,53.1 54.0,53.4 55.0,53.7 55.9,54.0 57.0,54.3 58.0,54.7 59.0,55.0 60.0,55.3 61.0,55.7 62.0,56.0 63.0,56.4 64.0,56.7 65.0,57.1 66.0,57.5 67.0,57.9 68.0,58.3 69.0,58.7 70.0,59.1 71.0,59.5 72.0,59.9 73.0,60.4 74.0,60.9 75.0,61.3 76.0,61.8 77.0,62.2 78.0,62.7 79.0,63.2 80.0,63.8 81.0,64.3 82.0,64.9 82.9,65.5 83.7,66.0 84.4,66.5 85.1,67.0 86.0,67.6 87.0,68.4 87.8,69.0 88.5,69.6 89.5,70.4 90.2,71.0 91.0,71.7 91.8,72.5 92.5,73.1 93.4,74.0 94.0,74.7 94.8,75.5 95.5,76.3 96.1,77.0 96.9,78.0 97.5,78.7 98.1,79.5 98.9,80.5 99.5,81.3 100.1,82.0 100.9,83.0 101.5,83.7 102.2,84.5 103.0,85.4 104.0,86.5 104.9,87.5 105.9,88.5 107.0,89.5 108.0,90.4 108.7,91.0 109.5,91.6 110.5,92.4 111.3,93.0 112.0,93.5 113.0,94.2 114.0,94.8 114.9,95.5 116.0,96.3 116.9,97.0 118.0,97.9 118.6,98.5 119.5,99.3 120.2,100.0 121.0,100.9 121.5,100.2 122.0,99.5 122.5,98.7 123.0,98.0 123.5,97.3 124.0,96.6 124.5,95.9 125.0,95.1 125.5,94.4 126.0,93.7 126.5,93.0 127.0,92.3 127.6,91.5 128.3,90.5 129.0,89.6 129.9,88.5 130.5,87.8 131.2,87.0 132.0,86.2 132.7,85.5 133.5,84.7 134.3,84.0 135.0,83.5 136.0,82.7 137.0,82.0 137.8,81.5 138.7,81.0 139.5,80.5 140.5,80.0 141.5,79.6 142.5,79.2 143.5,78.8 144.5,78.4 145.5,78.1 146.5,77.8 147.5,77.6 148.5,77.3 149.5,77.1 151.0,76.8 152.5,76.6 154.0,76.4 155.5,76.2 157.0,76.0 158.5,75.9 160.0,75.8 161.5,76.1 162.5,76.3 163.5,76.6 164.5,76.9 165.5,77.2 166.5,77.6 167.5,78.1 168.5,78.7 169.5,79.3 170.3,80.0 171.0,80.6 171.8,81.5 172.4,82.5 172.9,83.5 173.3,84.5 173.8,85.5 174.2,86.5 174.6,87.5 175.0,88.5 175.4,89.5 175.8,90.5 176.2,91.5 176.5,92.4 176.9,93.5 177.2,94.5 177.6,95.5 178.0,96.5 178.3,97.5 178.7,98.5 179.7,98.0 180.2,97.0 180.8,96.0 181.4,95.0 182.0,94.1 182.9,93.0 183.5,92.3 184.4,91.5 185.5,90.7 186.5,90.2 187.5,89.9 188.5,89.6 189.5,89.2 190.5,88.9 191.5,88.7 192.9,88.5 194.5,88.5 196.0,88.5 197.5,88.7 198.8,89.0 200.0,89.3 201.0,89.6 202.0,89.9 203.0,90.3 204.0,90.8 205.0,91.3 206.0,92.0 206.8,92.5 207.5,93.0 208.5,93.8 209.2,94.5 210.0,95.2 210.8,96.0 211.5,96.8 213.0,96.5 214.0,95.7 215.0,95.0 216.0,94.5 217.0,94.1 218.0,93.8 219.0,93.6 220.5,93.3 222.0,93.2 223.5,93.1 225.0,93.0 226.0,93.4 227.0,93.7 228.0,94.0 229.0,94.4 230.0,94.7 230.9,95.0 232.0,95.3 233.0,95.6 234.0,95.9 235.0,96.2 236.0,96.5 237.0,96.7 238.0,96.9 239.0,97.1 240.0,97.3 241.0,97.5 242.0,97.7 243.3,98.0 244.5,98.2 246.0,98.5 247.5,98.7 249.0,98.9 250.5,99.2 252.0,99.4 253.5,99.7 255.0,99.9 256.3,100.0 257.5,100.1 259.0,100.2 260.5,100.3 262.0,100.4 263.5,100.5 265.0,100.5 266.5,100.5 268.0,100.5 269.5,100.5 271.0,100.5 272.5,100.5 274.0,100.4 275.5,100.4 277.0,100.4 278.5,100.3 280.0,100.3 281.5,100.2 283.0,100.2 284.5,100.2 286.0,100.1 287.5,100.1 289.0,100.1 290.5,100.1 292.0,100.1 293.5,100.1 295.0,100.2 296.5,100.2 298.0,100.3 299.5,100.3 300.0,100.3 M0.0,36.0 0.9,36.5 1.7,37.0 2.5,37.4 3.5,38.0 4.3,38.5 5.2,39.0 6.0,39.5 6.8,40.0 7.7,40.5 8.5,40.9 9.5,41.4 10.5,41.9 11.5,42.2 12.5,42.6 13.5,42.8 14.5,43.1 15.5,43.4 16.5,43.6 17.5,43.9 18.5,44.1 19.5,44.4 20.5,44.8 21.5,45.1 22.4,45.5 23.5,46.0 24.5,46.5 25.3,47.0 26.1,47.5 26.9,48.0 27.6,48.5 28.3,49.0 29.1,49.5 29.8,50.0 30.5,50.5 31.3,51.0 32.2,51.5 33.0,51.9 34.0,52.4 35.0,52.8 36.0,53.2 37.0,53.6 38.0,53.9 39.0,54.2 40.0,54.5 41.0,54.8 42.0,55.1 43.0,55.3 44.0,55.6 45.0,55.9 46.0,56.2 47.0,56.4 48.0,56.7 49.0,57.0 50.0,57.3 51.0,57.6 52.0,57.8 53.0,58.1 54.0,58.4 55.0,58.7 56.0,59.0 57.0,59.3 58.0,59.6 59.0,60.0 60.0,60.3 61.0,60.6 62.0,61.0 63.0,61.3 64.0,61.7 64.9,62.0 66.0,62.4 67.0,62.8 68.0,63.2 69.0,63.6 70.0,64.0 71.0,64.4 72.0,64.8 73.0,65.3 74.0,65.7 75.0,66.2 76.0,66.6 77.0,67.1 77.8,67.5 78.8,68.0 79.7,68.5 80.6,69.0 81.5,69.5 82.3,70.0 83.1,70.5 83.9,71.0 84.6,71.5 85.3,72.0 86.5,72.9 87.3,73.5 88.0,74.1 89.0,75.0 90.0,75.9 91.0,77.0 M107.3,95.5 108.5,96.4 109.4,97.0 110.2,97.5 111.0,98.0 111.8,98.5 112.7,99.0 113.7,99.5 114.5,99.9 115.5,100.5 116.3,101.0 117.1,101.5 117.9,102.0 119.0,102.8 119.8,103.5 120.5,104.1 121.8,103.5 122.5,102.7 123.1,102.0 123.9,101.0 124.5,100.3 125.2,99.5 126.0,98.5 126.8,97.5 127.5,96.7 128.1,96.0 129.0,95.0 129.9,94.0 130.5,93.4 131.4,92.5 132.0,91.9 133.0,91.0 134.0,90.1 134.8,89.5 136.0,88.7 137.0,88.0 137.8,87.5 138.7,87.0 139.5,86.6 140.5,86.1 141.5,85.6 142.5,85.2 143.5,84.8 144.5,84.5 145.5,84.2 146.5,83.9 147.5,83.7 148.5,83.4 150.0,83.2 151.5,82.9 153.0,82.7 154.3,82.5 155.5,82.4 157.0,82.3 158.5,82.2 160.0,82.1 161.0,82.3 162.0,82.6 163.0,82.8 164.0,83.1 165.0,83.5 166.0,83.8 167.0,84.3 168.0,84.8 169.0,85.4 169.8,86.0 170.5,86.6 171.4,87.5 172.2,88.5 172.8,89.5 173.3,90.5 173.8,91.5 174.3,92.5 174.7,93.5 175.2,94.5 175.7,95.5 176.1,96.5 176.5,97.4 177.0,98.5 177.4,99.5 177.9,100.5 178.3,101.5 178.7,102.5 179.7,102.0 180.4,101.0 181.0,100.1 181.9,99.0 182.9,98.0 184.0,97.1 184.9,96.5 186.0,96.0 187.0,95.7 188.5,95.3 189.5,94.9 190.5,94.7 191.7,94.5 193.0,94.4 194.5,94.4 196.0,94.5 197.5,94.7 199.0,95.0 200.0,95.2 201.0,95.5 202.0,95.9 203.0,96.2 204.0,96.7 205.0,97.2 206.0,97.7 207.0,98.4 207.8,99.0 208.5,99.5 209.5,100.4 210.2,101.0 211.0,101.8 211.7,102.5 213.0,102.0 214.0,101.2 215.0,100.5 216.0,100.0 217.0,99.6 218.0,99.3 219.0,99.0 220.0,98.8 221.5,98.6 223.0,98.4 224.5,98.3 225.9,98.5 227.0,98.8 228.0,99.0 229.0,99.3 230.0,99.6 231.0,99.8 232.0,100.1 233.0,100.3 234.0,100.6 235.0,100.8 236.2,101.0 237.5,101.2 239.0,101.5 240.5,101.8 241.9,102.0 243.0,102.2 244.5,102.4 246.0,102.7 247.5,102.8 248.7,103.0 250.0,103.2 251.5,103.4 253.0,103.6 254.5,103.8 256.0,104.0 257.5,104.1 259.0,104.2 260.5,104.3 262.0,104.4 263.5,104.4 265.0,104.5 266.5,104.5 268.0,104.5 269.5,104.4 271.0,104.4 272.5,104.3 274.0,104.3 275.5,104.2 277.0,104.1 278.5,104.0 280.0,103.9 281.5,103.8 283.0,103.8 284.5,103.7 286.0,103.6 287.5,103.5 289.0,103.5 290.5,103.4 292.0,103.3 293.5,103.3 295.0,103.3 296.5,103.3 298.0,103.3 299.5,103.3 300.0,103.3 M0.0,41.7 1.0,42.3 2.0,42.9 3.0,43.5 4.0,44.0 5.0,44.5 6.0,44.8 7.0,45.1 8.0,45.4 9.5,45.6 11.0,45.8 12.5,45.9 13.6,46.0 15.0,46.2 16.5,46.4 17.5,46.6 18.5,46.9 19.5,47.2 20.5,47.6 21.4,48.0 22.4,48.5 23.2,49.0 24.0,49.5 25.0,50.3 25.8,51.0 26.5,51.7 27.4,52.5 28.0,53.1 28.9,54.0 30.0,55.0 31.0,55.8 32.0,56.5 32.8,57.0 33.7,57.5 34.8,58.0 36.0,58.5 M111.6,103.0 112.5,103.5 113.5,103.9 114.5,104.4 115.5,104.9 116.5,105.4 117.5,106.0 118.4,106.5 119.1,107.0 119.8,107.5 121.0,108.4 121.8,107.5 122.5,106.8 123.2,106.0 124.0,105.2 124.7,104.5 125.5,103.7 126.1,103.0 127.0,102.1 128.0,101.1 129.0,100.1 129.7,99.5 130.5,98.7 131.3,98.0 132.0,97.4 133.0,96.6 133.7,96.0 134.5,95.4 135.5,94.7 136.5,94.1 137.5,93.5 138.3,93.0 139.3,92.5 140.3,92.0 141.5,91.5 142.5,91.1 143.5,90.7 144.5,90.4 145.5,90.1 146.5,89.8 147.5,89.6 148.5,89.4 150.0,89.1 151.5,88.9 153.0,88.7 154.5,88.5 156.0,88.4 157.5,88.3 159.0,88.3 160.5,88.4 161.5,88.6 162.5,88.9 163.5,89.2 164.5,89.5 165.5,89.9 166.5,90.3 167.5,90.7 168.5,91.3 169.5,91.9 170.3,92.5 171.0,93.1 172.0,94.0 172.5,94.8 173.0,95.6 173.5,96.5 174.0,97.3 174.5,98.2 174.9,99.0 175.5,100.0 176.0,101.0 176.5,101.9 177.0,102.9 177.5,103.8 178.0,104.8 178.5,105.8 179.0,106.9 179.6,106.0 180.5,105.0 181.4,104.0 182.0,103.4 183.0,102.6 184.0,102.0 185.0,101.5 186.0,101.1 187.0,100.9 188.5,100.6 189.5,100.4 191.0,100.1 192.2,100.0 193.5,100.0 195.0,100.0 196.5,100.2 198.0,100.4 199.0,100.6 200.0,100.9 201.0,101.2 202.0,101.5 203.0,101.8 204.0,102.3 205.0,102.7 206.0,103.3 207.0,103.9 207.9,104.5 209.0,105.3 209.8,106.0 210.5,106.6 211.4,107.5 212.0,108.1 212.7,107.5 213.5,106.9 214.5,106.1 215.5,105.6 216.5,105.1 217.5,104.7 218.5,104.4 219.5,104.1 220.5,103.9 222.0,103.6 223.5,103.4 225.0,103.3 226.1,103.5 227.5,103.8 228.7,104.0 230.0,104.3 231.2,104.5 232.5,104.7 233.8,105.0 235.0,105.2 236.5,105.4 238.0,105.7 239.5,105.9 241.0,106.1 242.5,106.3 244.0,106.5 245.5,106.7 247.0,106.9 248.5,107.1 250.0,107.2 251.5,107.4 253.0,107.7 254.5,107.9 255.9,108.0 257.0,108.1 258.5,108.2 260.0,108.3 261.5,108.4 263.0,108.4 264.5,108.5 266.0,108.5 267.5,108.4 269.0,108.4 270.5,108.3 272.0,108.3 273.5,108.2 275.0,108.1 276.5,107.9 278.0,107.8 279.5,107.7 281.0,107.5 282.5,107.4 284.0,107.3 285.5,107.1 287.0,107.0 288.5,106.9 290.0,106.8 291.5,106.6 293.0,106.5 294.5,106.5 296.0,106.4 297.5,106.3 299.0,106.3 300.0,106.3 M0.0,47.3 1.0,47.9 2.0,48.4 3.0,48.8 4.0,49.1 5.5,49.3 7.0,49.4 8.5,49.2 10.0,49.0 11.5,48.8 13.0,48.7 14.5,48.6 16.0,48.7 17.5,49.0 18.5,49.3 19.5,49.7 20.5,50.1 21.5,50.7 22.5,51.4 23.2,52.0 24.0,52.7 24.7,53.5 25.5,54.4 26.4,55.5 27.0,56.3 27.6,57.0 M114.0,108.5 115.0,109.0 116.0,109.5 116.9,110.0 117.8,110.5 118.6,111.0 119.4,111.5 120.5,112.4 121.7,112.0 122.5,111.2 123.2,110.5 124.0,109.7 124.7,109.0 125.5,108.3 126.3,107.5 127.0,106.9 128.0,106.0 129.0,105.2 129.8,104.5 130.5,103.9 131.5,103.1 132.3,102.5 133.0,102.0 134.0,101.3 135.0,100.6 135.9,100.0 136.7,99.5 137.5,99.1 138.5,98.5 139.5,98.0 140.5,97.6 141.5,97.1 142.5,96.7 143.5,96.4 144.5,96.1 145.5,95.8 146.5,95.5 147.5,95.3 149.0,95.0 150.5,94.8 152.0,94.6 153.5,94.4 155.0,94.3 156.5,94.2 158.0,94.2 159.5,94.2 161.0,94.5 162.0,94.7 163.0,95.0 164.0,95.3 165.0,95.6 166.0,96.0 167.0,96.4 168.0,96.8 169.0,97.4 170.0,98.0 170.7,98.5 171.5,99.1 172.3,100.0 173.0,100.9 173.5,101.6 174.0,102.3 174.5,103.1 175.0,103.8 175.5,104.6 176.0,105.4 176.5,106.2 177.0,107.0 177.5,107.9 178.0,108.7 178.5,109.5 179.0,110.4 179.9,109.5 180.5,108.9 181.5,108.1 182.3,107.5 183.2,107.0 184.3,106.5 185.5,106.1 186.5,105.9 188.0,105.8 189.0,105.6 190.5,105.4 192.0,105.3 193.5,105.3 195.0,105.4 196.5,105.6 198.0,105.8 199.0,106.0 200.0,106.3 201.0,106.6 202.0,106.9 203.0,107.2 204.0,107.6 204.9,108.0 205.8,108.5 206.7,109.0 207.5,109.5 208.2,110.0 209.0,110.6 210.0,111.3 210.8,112.0 211.5,112.7 212.8,112.5 213.5,112.0 214.5,111.3 215.5,110.7 216.5,110.2 217.5,109.8 218.5,109.4 219.5,109.1 220.5,108.9 221.5,108.7 222.6,108.5 224.0,108.3 225.5,108.2 227.0,108.4 228.5,108.6 230.0,108.8 231.1,109.0 232.5,109.2 234.0,109.4 235.5,109.6 237.0,109.8 238.5,110.0 240.0,110.1 241.5,110.3 243.0,110.5 244.5,110.7 246.0,110.8 247.4,111.0 249.0,111.2 250.5,111.3 251.7,111.5 253.0,111.7 254.5,111.9 255.7,112.0 257.0,112.1 258.5,112.2 260.0,112.3 261.5,112.4 263.0,112.4 264.5,112.5 266.0,112.5 267.5,112.4 269.0,112.4 270.5,112.3 272.0,112.2 273.5,112.1 275.0,111.9 276.5,111.8 278.0,111.6 279.5,111.4 281.0,111.3 282.5,111.1 284.0,110.9 285.5,110.7 287.0,110.5 288.5,110.3 290.0,110.1 291.2,110.0 292.5,109.9 294.0,109.7 295.5,109.6 297.0,109.4 298.5,109.3 300.0,109.2 M0.0,52.7 1.0,53.1 2.0,53.5 3.0,53.7 4.5,53.8 6.0,53.6 7.0,53.3 7.9,53.0 9.0,52.6 10.0,52.2 11.0,51.8 11.9,51.5 13.0,51.2 14.5,51.0 16.0,51.1 17.5,51.3 18.5,51.6 19.3,52.0 20.2,52.5 21.0,53.0 22.0,53.9 22.6,54.5 23.5,55.5 24.3,56.5 25.0,57.5 M116.1,114.0 117.0,114.5 117.8,115.0 118.6,115.5 119.3,116.0 120.5,116.9 121.8,116.5 122.5,115.8 123.4,115.0 124.0,114.4 125.0,113.5 126.0,112.6 126.7,112.0 127.5,111.3 128.5,110.5 129.5,109.7 130.4,109.0 131.5,108.2 132.5,107.5 133.2,107.0 134.0,106.5 134.8,106.0 135.6,105.5 136.4,105.0 137.3,104.5 138.3,104.0 139.3,103.5 140.4,103.0 141.5,102.6 142.5,102.2 143.5,101.8 144.5,101.5 145.5,101.3 146.5,101.0 147.5,100.8 149.0,100.5 150.5,100.3 152.0,100.1 153.5,100.0 155.0,99.9 156.5,99.9 158.0,99.9 159.5,99.9 161.0,100.2 162.0,100.4 163.0,100.6 164.0,100.9 165.0,101.2 166.0,101.6 167.0,102.0 168.0,102.4 169.0,102.9 170.0,103.4 171.0,104.0 171.7,104.5 172.5,105.3 173.1,106.0 173.9,107.0 174.5,107.7 175.1,108.5 175.8,109.5 176.5,110.4 177.3,111.5 178.0,112.5 178.5,113.3 179.0,114.1 180.0,113.2 181.0,112.5 181.8,112.0 182.9,111.5 184.0,111.1 185.0,110.9 186.5,110.7 188.0,110.6 189.5,110.4 191.0,110.4 192.5,110.4 194.0,110.5 195.5,110.6 197.0,110.8 198.5,111.1 199.5,111.3 200.5,111.6 201.5,111.9 202.5,112.2 203.5,112.6 204.5,113.0 205.5,113.4 206.5,113.9 207.5,114.5 208.3,115.0 209.1,115.5 209.8,116.0 210.5,116.5 211.5,117.3 213.0,117.0 213.8,116.5 214.6,116.0 215.5,115.5 216.5,115.1 217.5,114.7 218.5,114.3 219.5,114.0 220.5,113.7 221.5,113.5 223.0,113.2 224.5,113.0 225.7,113.0 227.0,113.1 228.5,113.2 230.0,113.4 231.5,113.5 233.0,113.7 234.5,113.8 236.0,114.0 237.5,114.1 239.0,114.2 240.5,114.4 241.9,114.5 243.5,114.7 245.0,114.8 246.5,115.0 248.0,115.1 249.5,115.2 251.0,115.4 252.5,115.6 254.0,115.8 255.5,116.0 257.0,116.1 258.5,116.2 260.0,116.3 261.5,116.4 263.0,116.4 264.5,116.5 266.0,116.4 267.5,116.4 269.0,116.3 270.5,116.2 272.0,116.1 273.4,116.0 274.5,115.9 276.0,115.7 277.5,115.5 279.0,115.3 280.5,115.1 282.0,114.8 283.5,114.6 285.0,114.4 286.5,114.1 288.0,113.9 289.5,113.6 291.0,113.4 292.5,113.2 293.6,113.0 295.0,112.8 296.5,112.6 297.6,112.5 299.0,112.3 300.0,112.2 M9.8,55.5 10.6,55.0 11.5,54.5 12.5,54.0 13.5,53.7 14.5,53.5 16.0,53.4 17.5,53.7 18.4,54.0 19.3,54.5 20.1,55.0 21.0,55.8 21.6,56.5 M122.0,120.5 123.0,119.6 123.8,119.0 124.5,118.4 125.5,117.6 126.3,117.0 127.0,116.5 128.0,115.7 128.9,115.0 130.0,114.2 131.0,113.5 131.8,113.0 132.5,112.5 133.3,112.0 134.0,111.5 134.9,111.0 135.7,110.5 136.5,110.1 137.5,109.5 138.5,109.0 139.5,108.6 140.5,108.1 141.5,107.7 142.5,107.4 143.5,107.0 144.5,106.8 145.5,106.5 146.5,106.3 147.8,106.0 149.0,105.8 150.5,105.6 152.0,105.4 153.5,105.3 155.0,105.3 156.5,105.2 158.0,105.3 159.5,105.3 160.6,105.5 162.0,105.8 163.0,106.0 164.0,106.3 165.0,106.6 166.0,106.9 167.0,107.3 168.0,107.7 169.0,108.1 169.9,108.5 170.8,109.0 171.7,109.5 172.5,110.2 173.3,111.0 174.0,111.7 174.7,112.5 175.5,113.4 176.5,114.5 177.3,115.5 178.0,116.4 178.8,117.5 M180.0,117.1 181.0,116.5 182.0,116.1 183.0,115.8 184.0,115.6 185.5,115.4 187.0,115.3 188.5,115.3 190.0,115.2 191.5,115.3 193.0,115.3 194.5,115.5 196.0,115.7 197.5,115.9 199.0,116.2 200.0,116.4 201.0,116.7 202.0,117.0 203.0,117.3 204.0,117.6 204.9,118.0 206.0,118.5 207.0,119.0 208.0,119.5 208.9,120.0 209.7,120.5 210.5,121.0 211.2,121.5 212.0,122.1 212.9,121.5 213.8,121.0 214.7,120.5 215.8,120.0 217.0,119.5 218.0,119.1 219.0,118.8 220.0,118.6 221.0,118.3 222.0,118.1 223.5,117.8 225.0,117.6 226.5,117.6 228.0,117.7 229.5,117.8 231.0,117.9 232.5,118.0 234.0,118.1 235.5,118.2 237.0,118.3 238.5,118.4 240.0,118.5 241.5,118.6 243.0,118.7 244.5,118.8 246.0,119.0 247.5,119.1 249.0,119.2 250.5,119.4 252.0,119.6 253.5,119.8 255.0,119.9 256.5,120.1 258.0,120.2 259.5,120.3 261.0,120.4 262.5,120.4 264.0,120.4 265.5,120.4 267.0,120.4 268.5,120.3 270.0,120.2 271.5,120.1 273.0,119.9 274.5,119.8 276.0,119.5 277.5,119.3 279.0,119.1 280.5,118.8 282.0,118.5 283.5,118.2 284.7,118.0 286.0,117.7 287.2,117.5 288.5,117.2 289.7,117.0 291.0,116.8 292.4,116.5 293.5,116.3 295.0,116.0 296.5,115.8 298.0,115.5 299.5,115.3 300.0,115.3 M16.0,56.0 17.5,56.2 M124.0,122.5 124.9,122.0 125.8,121.5 126.5,121.0 127.3,120.5 128.1,120.0 128.9,119.5 129.6,119.0 130.4,118.5 131.2,118.0 132.0,117.5 132.8,117.0 133.6,116.5 134.5,116.0 135.4,115.5 136.3,115.0 137.3,114.5 138.3,114.0 139.4,113.5 140.5,113.1 141.5,112.7 142.5,112.3 143.5,112.0 144.5,111.7 145.5,111.5 146.5,111.3 147.9,111.0 149.0,110.9 150.5,110.7 152.0,110.5 153.5,110.4 155.0,110.4 156.5,110.4 158.0,110.4 159.5,110.5 161.0,110.8 162.0,111.0 163.0,111.2 164.0,111.5 165.0,111.8 166.0,112.1 167.0,112.4 168.0,112.7 169.0,113.1 169.9,113.5 171.0,114.0 171.9,114.5 173.0,115.4 173.7,116.0 174.5,116.8 M194.5,120.3 195.8,120.5 197.0,120.7 198.5,121.0 199.5,121.2 200.5,121.4 201.5,121.6 202.5,121.9 203.5,122.2 204.5,122.6 205.5,122.9 206.5,123.3 207.5,123.8 208.5,124.3 209.5,124.8 M214.0,125.2 215.0,124.8 216.0,124.4 217.0,124.0 218.0,123.7 219.0,123.4 220.0,123.1 221.0,122.9 222.0,122.7 223.5,122.4 225.0,122.2 226.5,122.2 228.0,122.2 229.5,122.2 231.0,122.2 232.5,122.3 234.0,122.3 235.5,122.4 237.0,122.4 238.5,122.4 239.9,122.5 241.5,122.6 243.0,122.7 244.5,122.7 246.0,122.8 247.5,122.9 249.0,123.0 250.5,123.1 252.0,123.3 253.5,123.5 255.0,123.6 256.5,123.8 258.0,123.9 259.2,124.0 260.5,124.1 262.0,124.2 263.5,124.2 265.0,124.2 266.5,124.2 268.0,124.2 269.5,124.1 270.8,124.0 272.0,123.9 273.5,123.7 274.9,123.5 276.0,123.3 277.5,123.1 279.0,122.8 280.5,122.5 281.5,122.3 282.5,122.1 283.5,121.9 284.5,121.6 285.5,121.4 286.5,121.2 287.5,120.9 288.5,120.7 289.5,120.5 290.5,120.2 291.5,120.0 292.5,119.8 293.5,119.6 294.5,119.3 295.5,119.1 296.5,118.9 298.0,118.7 299.5,118.4 300.0,118.3 M126.0,124.5 127.0,124.1 128.0,123.6 129.0,123.1 130.0,122.7 131.0,122.2 132.0,121.7 133.0,121.2 134.0,120.7 135.0,120.1 136.0,119.6 137.0,119.2 138.0,118.7 139.0,118.3 140.0,117.9 141.0,117.5 142.0,117.2 143.0,116.9 144.0,116.6 145.0,116.3 146.0,116.1 147.5,115.9 149.0,115.7 150.5,115.5 152.0,115.4 153.5,115.3 155.0,115.3 156.5,115.3 158.0,115.4 159.2,115.5 160.5,115.7 161.5,115.9 162.5,116.1 163.5,116.3 164.5,116.6 M227.5,126.6 229.0,126.5 230.5,126.4 232.0,126.4 233.5,126.4 235.0,126.3 236.5,126.3 238.0,126.2 239.5,126.2 241.0,126.2 242.5,126.2 244.0,126.2 245.5,126.3 247.0,126.3 248.5,126.4 250.0,126.5 251.5,126.6 253.0,126.8 254.5,126.9 256.0,127.1 257.5,127.3 259.0,127.4 260.5,127.6 262.0,127.7 263.5,127.8 265.0,127.8 266.5,127.9 268.0,127.9 269.5,127.8 271.0,127.7 272.5,127.6 274.0,127.4 275.5,127.1 277.0,126.9 278.5,126.6 279.5,126.4 280.5,126.2 281.5,125.9 282.5,125.7 283.5,125.4 284.5,125.2 285.5,124.9 286.5,124.7 287.5,124.4 288.5,124.1 289.5,123.9 290.5,123.6 291.5,123.3 292.5,123.1 293.5,122.8 294.5,122.6 295.5,122.3 296.5,122.1 297.5,121.9 298.5,121.6 299.5,121.4 300.0,121.3 M135.0,124.0 136.0,123.6 137.0,123.2 M275.0,130.9 276.5,130.6 278.0,130.3 279.0,130.1 280.0,129.9 281.0,129.6 282.0,129.4 283.0,129.1 284.0,128.8 285.0,128.6 286.0,128.3 286.9,128.0 288.0,127.7 289.0,127.4 290.0,127.1 291.0,126.8 292.0,126.5 293.0,126.2 294.0,125.9 295.0,125.7 296.0,125.4 297.0,125.1 298.0,124.9 299.0,124.6 300.0,124.4 M286.5,131.6 287.5,131.2 288.5,130.9 289.5,130.6 290.5,130.3 291.5,130.0 292.5,129.6 293.5,129.3 294.5,129.0 295.5,128.7 296.5,128.4 297.5,128.1 298.5,127.8 299.5,127.6 300.0,127.4 M294.5,132.2 295.5,131.9 296.5,131.6 297.5,131.2 298.5,130.9 299.5,130.6 300.0,130.5" stroke="#78b2f0" stroke-width="0.6"/>
<path d="M4,4 L4,8.0 L5,8.4 L6,8.8 L7,9.2 L8,9.6 L9,10.0 L10,10.4 L11,10.8 L12,11.2 L13,11.6 L14,12.0 L15,12.4 L16,12.8 L17,13.2 L18,13.6 L19,14.0 L20,14.4 L21,14.8 L22,15.2 L23,15.6 L24,16.0 L25,16.4 L26,16.8 L27,17.2 L28,17.5 L29,17.9 L30,18.3 L31,18.7 L32,19.1 L33,19.5 L34,19.8 L35,20.2 L36,20.6 L37,21.0 L38,21.4 L39,21.8 L40,22.2 L41,22.7 L42,23.1 L43,23.5 L44,23.9 L45,24.3 L46,24.8 L47,25.2 L48,25.6 L49,26.0 L50,26.4 L51,26.8 L52,27.2 L53,27.5 L54,27.9 L55,28.3 L56,28.7 L57,29.1 L58,29.5 L59,29.8 L60,30.2 L61,30.6 L62,31.0 L63,31.4 L64,31.8 L65,32.2 L66,32.5 L67,32.9 L68,33.3 L69,33.7 L70,34.1 L71,34.5 L72,34.8 L73,35.2 L74,35.6 L75,36.0 L76,36.3 L77,36.6 L78,36.9 L79,37.2 L80,37.5 L81,37.8 L82,38.2 L83,38.5 L84,38.8 L85,39.1 L86,39.4 L87,39.7 L88,40.0 L89,40.3 L90,40.7 L91,41.0 L92,41.3 L93,41.7 L94,42.0 L95,42.3 L96,42.7 L97,43.0 L98,43.3 L99,43.7 L100,44.0 L101,44.4 L102,44.9 L103,45.3 L104,45.8 L105,46.2 L106,46.6 L107,47.1 L108,47.5 L109,48.1 L110,48.7 L111,49.2 L112,49.8 L113,50.4 L114,51.0 L115,52.2 L116,53.5 L117,54.8 L118,56.0 L119,58.0 L120,60.0 L121,62.0 L122,62.8 L123,63.5 L124,61.8 L125,60.0 L126,57.7 L127,55.3 L128,53.0 L129,51.9 L130,50.8 L131,49.6 L132,48.5 L133,48.0 L134,47.5 L135,47.0 L136,46.5 L137,46.0 L138,45.8 L139,45.6 L140,45.4 L141,45.2 L142,45.1 L143,44.9 L144,44.7 L145,44.5 L146,44.5 L147,44.4 L148,44.4 L149,44.4 L150,44.3 L151,44.3 L152,44.3 L153,44.2 L154,44.2 L155,44.2 L156,44.1 L157,44.1 L158,44.1 L159,44.0 L160,44.0 L161,44.1 L162,44.2 L163,44.4 L164,44.5 L165,44.6 L166,44.8 L167,44.9 L168,45.0 L169,45.5 L170,46.0 L171,46.5 L172,47.0 L173,47.5 L174,49.7 L175,51.9 L176,54.8 L177,58.2 L178,60.9 L179,62.6 L180,63.2 L181,62.6 L182,62.0 L183,61.6 L184,61.2 L185,60.9 L186,60.5 L187,60.2 L188,60.0 L189,59.8 L190,59.5 L191,59.2 L192,59.0 L193,58.8 L194,58.6 L195,58.4 L196,58.2 L197,58.0 L198,57.8 L199,57.6 L200,57.4 L201,57.2 L202,57.0 L203,57.0 L204,57.1 L205,57.1 L206,57.2 L207,57.2 L208,57.3 L209,57.4 L210,57.4 L211,57.5 L212,57.5 L213,57.8 L214,58.0 L215,58.2 L216,58.5 L217,58.8 L218,59.0 L219,59.2 L220,59.5 L221,60.2 L222,60.9 L223,61.6 L224,62.2 L225,62.9 L226,63.6 L227,64.3 L228,65.0 L229,66.0 L230,67.0 L231,68.0 L232,69.0 L233,70.0 L234,71.0 L235,72.0 L236,73.0 L237,73.8 L238,74.7 L239,75.5 L240,76.3 L241,77.2 L242,78.0 L243,78.8 L244,79.7 L245,80.5 L246,81.2 L247,82.0 L248,82.8 L249,83.5 L250,84.2 L251,85.0 L252,85.8 L253,86.5 L254,87.2 L255,88.0 L256,88.5 L257,89.0 L258,89.5 L259,90.0 L260,90.5 L261,91.0 L262,91.5 L263,92.0 L264,92.5 L265,93.0 L266,93.3 L267,93.7 L268,94.0 L269,94.4 L270,94.8 L271,95.1 L272,95.5 L273,95.8 L274,96.2 L275,96.5 L276,96.8 L277,97.0 L278,97.2 L279,97.5 L280,97.8 L281,98.0 L282,98.2 L283,98.5 L284,98.8 L285,99.0 L286,99.2 L287,99.4 L288,99.5 L289,99.7 L290,99.9 L291,100.1 L292,100.3 L293,100.5 L294,100.6 L295,100.8 L296,101.0 L296,4 Z" fill="#fff" stroke="none"/>
<path d="M24.0,16.0 L37.0,21.0 L49.0,26.0 L62.0,31.0 L75.0,36.0 L88.0,40.0 L100.0,44.0 L108.0,47.5 L114.0,51.0 L118.0,56.0 L121.0,62.0 L123.0,63.5 L125.0,60.0 L128.0,53.0 L132.0,48.5 L137.0,46.0 L145.0,44.5 L160.0,44.0 L168.0,45.0 L173.0,47.5 L175.5,53.0 L177.5,60.0 L179.5,63.5 L182.0,62.0 L186.0,60.5 L192.0,59.0 L202.0,57.0 L212.0,57.5 L220.0,59.5 L228.0,65.0 L236.0,73.0 L245.0,80.5 L255.0,88.0 L265.0,93.0 L275.0,96.5 L285.0,99.0 L296.0,101.0" stroke="#3fe0ee" stroke-width="0.9"/>
</g>
<g clip-path="url(#mapclip)">
<line x1="77" y1="41.5" x2="35" y2="233" stroke="#3a3a3a" stroke-width="0.6"/>
<line x1="78.6" y1="41.8" x2="75.4" y2="41.2" stroke="#3a3a3a" stroke-width="0.6"/>
<line x1="33.4" y1="232.7" x2="36.6" y2="233.3" stroke="#3a3a3a" stroke-width="0.6"/>
<line x1="168" y1="52" x2="44" y2="268" stroke="#f08a50" stroke-width="0.6"/>
<line x1="169.4" y1="52.8" x2="166.6" y2="51.2" stroke="#f08a50" stroke-width="0.6"/>
<line x1="42.6" y1="267.2" x2="45.4" y2="268.8" stroke="#f08a50" stroke-width="0.6"/>
<line x1="208" y1="60" x2="100" y2="268" stroke="#3a3a3a" stroke-width="0.6"/>
<line x1="209.4" y1="60.7" x2="206.6" y2="59.3" stroke="#3a3a3a" stroke-width="0.6"/>
<line x1="98.6" y1="267.3" x2="101.4" y2="268.7" stroke="#3a3a3a" stroke-width="0.6"/>
<path d="M50,26 48.5,40 46,60 44,80 42,100 40,125 39,150 38.5,175 38,195 37.5,215 38.5,232 41,245 45,253 50,259 58,263 70,264 90,262 105,258 115,253 125,245 135,235 148,218 160,202 167,196 174,191.5 182,188.5 190,190 200,195 212,201 225,207.5 235,210.5 245,210 255,203 262,193 268,183 272,172 274.5,160 275,145 274,130 273,118 274,95" fill="none" stroke="#ff1a1a" stroke-width="0.9"/>
<path d="M48.6,39.6L52.9,42.1L48.3,42.0ZM46.5,55.9L50.8,58.5L46.2,58.3ZM44.8,72.3L49.1,74.8L44.5,74.8ZM43.1,88.8L47.5,91.2L42.9,91.2ZM41.6,105.2L46.0,107.6L41.4,107.6ZM40.3,121.6L44.7,124.0L40.1,124.1ZM39.5,138.1L44.0,140.3L39.4,140.5ZM38.9,154.6L43.5,156.7L38.9,157.0ZM38.6,171.1L43.1,173.2L38.5,173.5ZM38.2,187.6L42.7,189.7L38.1,190.0ZM37.8,204.1L42.3,206.2L37.7,206.5ZM37.8,220.6L42.5,222.3L38.0,223.0ZM39.5,237.0L44.3,238.1L39.9,239.3ZM44.6,252.5L49.4,251.1L46.2,254.4ZM57.1,262.9L59.5,258.5L59.5,263.1ZM73.6,263.6L75.1,258.9L76.0,263.4ZM90.0,262.0L90.7,257.0L92.3,261.4ZM105.9,257.6L105.6,252.6L108.0,256.5ZM119.9,249.1L118.6,244.2L121.8,247.6ZM132.0,238.0L130.2,233.3L133.8,236.2ZM142.5,225.2L140.1,220.8L144.0,223.3ZM152.5,212.1L150.0,207.7L153.9,210.1ZM163.0,199.4L161.5,194.6L164.8,197.9Z" fill="#ff1a1a"/>
<path d="M169.5,194.4L168.7,189.3L171.6,193.0ZM175.5,190.9L175.8,185.7L177.9,190.0ZM182.1,188.5L185.0,184.2L184.5,189.0ZM189.0,189.5L193.1,186.2L191.3,190.7ZM195.3,192.7L199.3,189.3L197.6,193.8ZM201.6,195.8L205.6,192.5L203.8,196.9ZM207.8,198.9L211.8,195.6L210.1,200.0ZM214.1,202.0L218.1,198.7L216.3,203.2ZM220.4,205.2L224.4,201.9L222.6,206.3ZM226.7,208.0L230.1,204.1L229.1,208.7ZM233.4,210.0L236.8,206.1L235.8,210.8ZM240.4,210.2L242.2,205.4L242.9,210.1ZM246.9,208.7L245.9,203.5L249.0,207.2ZM252.7,204.6L251.7,199.5L254.7,203.2ZM257.4,199.6L254.7,195.2L258.8,197.5ZM261.5,193.9L258.5,189.7L262.8,191.7ZM265.1,187.9L262.1,183.7L266.4,185.7ZM268.4,181.8L264.7,178.2L269.3,179.4ZM270.8,175.2L267.1,171.6L271.7,172.9ZM272.7,168.5L268.5,165.5L273.2,166.0ZM274.2,161.7L269.9,158.6L274.7,159.2ZM274.7,154.7L270.0,152.4L274.8,152.2ZM274.9,147.7L270.2,145.4L275.0,145.2ZM274.7,140.7L269.8,138.9L274.5,138.2ZM274.2,133.7L269.4,131.9L274.1,131.2ZM273.7,126.7L268.8,125.0L273.5,124.2ZM273.1,119.8L268.2,118.1L272.9,117.3ZM273.2,112.8L268.6,110.5L273.3,110.3ZM273.5,105.8L268.9,103.5L273.6,103.3ZM273.8,98.8L269.2,96.5L273.9,96.3Z" fill="#ff1a1a"/>
<path d="M122,68 123,78 122,88 120,96 116,104 109,111 102,116 94,119 84,123 78,128 74,135 70,143 67,151 65,159 66,164 70,167 78,169 90,170.5 102,171.5 116,172.5 130,173.5 145,175 158,177.5 170,181.5 180,186" fill="none" stroke="#ff1a1a" stroke-width="0.9" stroke-dasharray="3.4,1.8"/>
<path d="M122.5,72.7L125.5,73.7L122.6,74.2ZM122.4,83.7L125.2,85.2L122.3,85.2ZM120.4,94.4L122.9,96.4L120.0,95.9ZM115.7,104.3L116.8,107.3L114.6,105.4ZM107.7,111.9L108.4,115.0L106.5,112.8ZM98.3,117.4L98.1,120.5L96.9,117.9ZM88.1,121.4L87.9,124.5L86.6,121.9ZM78.9,127.2L79.8,130.3L77.7,128.2ZM73.2,136.6L75.2,139.0L72.5,137.9ZM68.7,146.6L70.9,148.8L68.1,148.0ZM65.5,157.1L68.0,159.0L65.1,158.6ZM69.1,166.4L71.9,164.8L70.4,167.3ZM79.7,169.2L81.3,166.5L81.2,169.4ZM90.6,170.5L92.1,167.8L92.1,170.7ZM101.5,171.5L103.0,168.7L103.1,171.6ZM112.5,172.3L114.0,169.5L114.0,172.4ZM123.5,173.0L125.0,170.2L125.0,173.1ZM134.4,173.9L136.0,171.2L136.0,174.1ZM145.4,175.1L147.2,172.5L146.9,175.4ZM156.2,177.2L158.0,174.6L157.7,177.4ZM166.7,180.4L168.8,178.1L168.1,180.9ZM176.8,184.6L179.2,182.5L178.2,185.2Z" fill="#ff1a1a"/>
</g>
<text transform="translate(26,37) scale(0.91,1)" font-size="9.2" fill="#222" stroke="#222" stroke-width="0.2">150</text>
<text transform="translate(24,51) scale(0.91,1)" font-size="9.2" fill="#222" stroke="#222" stroke-width="0.2">175</text>
<text transform="translate(23,65.5) scale(0.91,1)" font-size="9.2" fill="#222" stroke="#222" stroke-width="0.2">200</text>
<text transform="translate(20,96.7) scale(0.91,1)" font-size="9.2" fill="#222" stroke="#222" stroke-width="0.2">225</text>
<text transform="translate(18.1,134.8) scale(0.91,1)" font-size="9.2" fill="#222" stroke="#222" stroke-width="0.2">250</text>
<text transform="translate(18,165) scale(0.91,1)" font-size="9.2" fill="#222" stroke="#222" stroke-width="0.2">275</text>
<text transform="translate(22,188) scale(0.91,1)" font-size="9.2" fill="#222" stroke="#222" stroke-width="0.2">300</text>
<text transform="translate(22,203) scale(0.91,1)" font-size="9.2" fill="#222" stroke="#222" stroke-width="0.2">325</text>
<text transform="translate(23,224) scale(0.91,1)" font-size="9.2" fill="#222" stroke="#222" stroke-width="0.2">350</text>
<text transform="translate(20,237.5) scale(0.91,1)" font-size="9.2" fill="#222" stroke="#222" stroke-width="0.2">375</text>
<text transform="translate(19,252) scale(0.91,1)" font-size="9.2" fill="#222" stroke="#222" stroke-width="0.2">400</text>
<text transform="translate(19,268) scale(0.91,1)" font-size="9.2" fill="#222" stroke="#222" stroke-width="0.2">425</text>
<text transform="translate(101,47) scale(0.91,1)" font-size="9.2" fill="#222" stroke="#222" stroke-width="0.2">135</text>
<circle cx="65.5" cy="93.7" r="2.4" fill="#fff" stroke="#e640e6" stroke-width="0.7"/><circle cx="65.5" cy="93.7" r="1.0" fill="#e640e6"/>
<text transform="translate(69,103.5) scale(0.88,1)" font-size="9.8" fill="#1414e6" stroke="#1414e6" stroke-width="0.2">ZG94</text>
<circle cx="148" cy="116.6" r="2.4" fill="#fff" stroke="#e640e6" stroke-width="0.7"/><circle cx="148" cy="116.6" r="1.0" fill="#e640e6"/>
<text transform="translate(153.4,118.8) scale(0.88,1)" font-size="9.8" fill="#1414e6" stroke="#1414e6" stroke-width="0.2">XD04</text>
<circle cx="195" cy="114.3" r="2.4" fill="#fff" stroke="#e640e6" stroke-width="0.7"/><circle cx="195" cy="114.3" r="1.0" fill="#e640e6"/>
<text transform="translate(190.2,108.8) scale(0.88,1)" font-size="9.8" fill="#1414e6" stroke="#1414e6" stroke-width="0.2">XD02</text>
<circle cx="221.4" cy="112" r="2.4" fill="#fff" stroke="#e640e6" stroke-width="0.7"/><circle cx="221.4" cy="112" r="1.0" fill="#e640e6"/>
<text transform="translate(227.3,118) scale(0.88,1)" font-size="9.8" fill="#1414e6" stroke="#1414e6" stroke-width="0.2">XD03</text>
<circle cx="121" cy="132" r="2.4" fill="#fff" stroke="#e640e6" stroke-width="0.7"/><circle cx="121" cy="132" r="1.0" fill="#e640e6"/>
<text transform="translate(126,140.3) scale(0.88,1)" font-size="9.8" fill="#22dd22" stroke="#22dd22" stroke-width="0.2">ZG118</text>
<circle cx="164.2" cy="145.8" r="2.4" fill="#fff" stroke="#e640e6" stroke-width="0.7"/><circle cx="164.2" cy="145.8" r="1.0" fill="#e640e6"/>
<text transform="translate(168,155) scale(0.88,1)" font-size="9.8" fill="#1414e6" stroke="#1414e6" stroke-width="0.2">ZG93</text>
<circle cx="232.3" cy="146.5" r="2.4" fill="#fff" stroke="#e640e6" stroke-width="0.7"/><circle cx="232.3" cy="146.5" r="1.0" fill="#e640e6"/>
<text transform="translate(238.6,150.7) scale(0.88,1)" font-size="9.8" fill="#22dd22" stroke="#22dd22" stroke-width="0.2">XD01</text>
<circle cx="46.1" cy="180.3" r="2.4" fill="#fff" stroke="#e640e6" stroke-width="0.7"/><circle cx="46.1" cy="180.3" r="1.0" fill="#e640e6"/>
<text transform="translate(50.9,185.8) scale(0.88,1)" font-size="9.8" fill="#1414e6" stroke="#1414e6" stroke-width="0.2">ZG91</text>
<circle cx="88" cy="181.6" r="2.4" fill="#fff" stroke="#e640e6" stroke-width="0.7"/><circle cx="88" cy="181.6" r="1.0" fill="#e640e6"/>
<text transform="translate(92.4,190) scale(0.88,1)" font-size="9.8" fill="#1414e6" stroke="#1414e6" stroke-width="0.2">ZG119</text>
<circle cx="72.7" cy="220.6" r="2.4" fill="#fff" stroke="#e640e6" stroke-width="0.7"/><circle cx="72.7" cy="220.6" r="1.0" fill="#e640e6"/>
<text transform="translate(77.1,227.3) scale(0.88,1)" font-size="9.8" fill="#1414e6" stroke="#1414e6" stroke-width="0.2">ZG120</text>
<circle cx="132.3" cy="207.1" r="2.4" fill="#fff" stroke="#e640e6" stroke-width="0.7"/><circle cx="132.3" cy="207.1" r="1.0" fill="#e640e6"/>
<text transform="translate(134.6,214.6) scale(0.88,1)" font-size="9.8" fill="#1414e6" stroke="#1414e6" stroke-width="0.2">ZG92</text>
<text transform="translate(105.2,90.7) scale(0.82,1)" font-size="8.8" fill="#ff2a2a" stroke="#ff2a2a" stroke-width="0.12">Reservoir water level fluctuation zone</text>
<text transform="translate(168.3,170.4) scale(0.78,1)" font-size="9.2" fill="#111" stroke="#111" stroke-width="0.15">Early warning area</text>
<text transform="translate(80.5,42.5) scale(0.92,1)" font-size="12.4" fill="#222" stroke="#222" stroke-width="0.45">I<tspan dx="0.8" dy="-1">′</tspan></text>
<text transform="translate(171,49.6) scale(0.92,1)" font-size="12.4" fill="#f07030" stroke="#f07030" stroke-width="0.2">II<tspan dx="0.8" dy="-1">′</tspan></text>
<text transform="translate(212.2,57.6) scale(0.92,1)" font-size="12.4" fill="#222" stroke="#222" stroke-width="0.45">III<tspan dx="0.8" dy="-1">′</tspan></text>
<text transform="translate(31.8,246.2) scale(0.92,1)" font-size="12.4" fill="#222" stroke="#222" stroke-width="0.45">I</text>
<text transform="translate(48,275.2) scale(0.92,1)" font-size="12.4" fill="#f07030" stroke="#f07030" stroke-width="0.2">II</text>
<text transform="translate(108,272.4) scale(0.92,1)" font-size="12.4" fill="#222" stroke="#222" stroke-width="0.45">III</text>
<path d="M136.4,21.1 L172.3,28.9 L172,26.4 L187.6,32.4 L171.6,33.6 L172,31.5 L136.9,25.4 L139.6,23.3 Z" fill="#1c2e78"/>
<text transform="translate(145.8,16.6) rotate(12) scale(0.88,1)" font-size="7.4" fill="#222" font-style="italic" stroke="#222" stroke-width="0.2">Yangtze River</text>
<text transform="translate(271.7,9.6)" font-size="6.0" fill="#111" text-anchor="middle" stroke="#111" stroke-width="0.15">N</text>
<path d="M272,10.5 L268,28 L272,23.5 Z" fill="#111"/>
<path d="M272,10.5 L276,28 L272,23.5 Z" fill="#fff" stroke="#111" stroke-width="0.6" stroke-linejoin="round"/>
<circle cx="272" cy="19.5" r="2.9" fill="none" stroke="#222" stroke-width="1.1"/>
<path d="M256.3,34.5 V39.3 H290 V34.5" fill="none" stroke="#444" stroke-width="0.6"/>
<text x="256.3" y="32" font-size="3.6" text-anchor="middle" fill="#222">0</text>
<text x="289" y="32" font-size="3.6" text-anchor="middle" fill="#222">100m</text>
<rect x="5.5" y="6" width="18.5" height="16.2" fill="#c4c4c4"/>
<text transform="translate(6.0,18.7) scale(0.94,1)" font-size="15.6" fill="#000" font-weight="bold">(a)</text>
<line x1="1" y1="278.6" x2="298.5" y2="278.6" stroke="#cfcfcf" stroke-width="0.6"/>
<rect x="6.7" y="282.2" width="25.1" height="14.4" fill="#fff" stroke="#555" stroke-width="0.7"/>
<rect x="59.6" y="282.2" width="27.3" height="14.4" fill="#fff" stroke="#555" stroke-width="0.7"/>
<rect x="134" y="282.2" width="27.8" height="14.4" fill="#fff" stroke="#555" stroke-width="0.7"/>
<rect x="221" y="282.2" width="27.5" height="14.4" fill="#fff" stroke="#555" stroke-width="0.7"/>
<path d="M10,294 C9,286 12,283 17,283.5 C22,284 25,287 27.5,295" fill="none" stroke="#f03030" stroke-width="0.6"/>
<path d="M10,290 l1.8,0.6 l-1.8,0.6Z M16.5,283.5 l0.6,1.6 l0.8,-1.6Z M24.5,286.5 l-1.3,1.1 l1.7,0.3Z M26.3,291 l-1.7,0.5 l1.9,0.8Z" fill="#f03030"/>
<text transform="translate(33.3,288.3) scale(0.95,1)" font-size="6.2" fill="#111" stroke="#111" stroke-width="0.12">Landslide</text>
<text transform="translate(33.3,294.6) scale(0.94,1)" font-size="6.2" fill="#111" stroke="#111" stroke-width="0.12">boundary</text>
<circle cx="73.2" cy="286.5" r="2.4" fill="none" stroke="#e640e6" stroke-width="0.7"/><circle cx="73.2" cy="286.5" r="0.7" fill="#e640e6"/>
<text transform="translate(73.2,294.5)" font-size="4.6" fill="#22e022" text-anchor="middle">ZG118</text>
<text transform="translate(88.8,291.7) scale(0.95,1)" font-size="6.2" fill="#111" stroke="#111" stroke-width="0.12">Monitoring point</text>
<line x1="135" y1="283" x2="161" y2="296" stroke="#4a90d0" stroke-width="0.7"/>
<text transform="translate(164.6,287.2) scale(0.94,1)" font-size="6.2" fill="#111" stroke="#111" stroke-width="0.12">Reservoir water level</text>
<text transform="translate(166.5,293.8) scale(0.94,1)" font-size="6.2" fill="#111" stroke="#111" stroke-width="0.1" letter-spacing="0.3">(135-145m)</text>
<path d="M225,286 V293 M225,289.5 H244.5 M244.5,286 V293" fill="none" stroke="#333" stroke-width="0.7"/>
<text transform="translate(251.6,290.4) scale(0.92,1)" font-size="6.2" fill="#111" stroke="#111" stroke-width="0.12">Monitoring profile</text>
<defs>
<clipPath id="satclip"><rect x="309" y="1.5" width="241" height="134"/></clipPath>
<filter id="blur6" x="-20%" y="-20%" width="140%" height="140%"><feGaussianBlur stdDeviation="6"/></filter>
<filter id="blur3" x="-20%" y="-20%" width="140%" height="140%"><feGaussianBlur stdDeviation="2.5"/></filter>
<filter id="blur1" x="-20%" y="-20%" width="140%" height="140%"><feGaussianBlur stdDeviation="1"/></filter>
<filter id="noise" x="0" y="0" width="100%" height="100%" filterUnits="userSpaceOnUse" color-interpolation-filters="sRGB">
 <feTurbulence type="fractalNoise" baseFrequency="0.32" numOctaves="3" seed="7" result="t"/>
 <feColorMatrix in="t" type="matrix" values="0 0 0 0 0.5  0 0 0 0 0.53  0 0 0 0 0.45  2.8 0 0 0 -1.35" />
</filter>
<filter id="ridges" x="0" y="0" width="100%" height="100%" filterUnits="userSpaceOnUse" color-interpolation-filters="sRGB">
 <feTurbulence type="turbulence" baseFrequency="0.055 0.075" numOctaves="3" seed="11" result="t"/>
 <feColorMatrix in="t" type="matrix" values="0 0 0 0 0.12  0 0 0 0 0.21  0 0 0 0 0.16  -4 0 0 0 0.8" />
</filter>
<filter id="patches" x="0" y="0" width="100%" height="100%" filterUnits="userSpaceOnUse" color-interpolation-filters="sRGB">
 <feTurbulence type="fractalNoise" baseFrequency="0.03" numOctaves="2" seed="21" result="t"/>
 <feColorMatrix in="t" type="matrix" values="0 0 0 0 0.18  0 0 0 0 0.27  0 0 0 0 0.2  3 0 0 0 -1.3" />
</filter>
</defs>
<g clip-path="url(#satclip)">
<rect x="309" y="1.5" width="241" height="134" fill="#405444"/>
<g filter="url(#blur6)">
<path d="M300,-5 H410 L405,25 L375,34 L345,44 L300,58 Z" fill="#6e7c6a"/>
<path d="M300,60 L350,60 L395,80 L420,100 L415,140 L300,140 Z" fill="#415239"/>
<path d="M440,0 H462 L462,60 L445,62 Z" fill="#34493a"/>
<path d="M365,62 L400,60 L430,68 L425,82 L390,90 L365,80 Z" fill="#64725e"/>
<path d="M430,95 L470,100 L480,140 L430,140 Z" fill="#3b4e36"/>
<path d="M528,88 L555,85 L555,130 L530,125 Z" fill="#747a5a"/>
<path d="M470,68 L555,68 L555,92 L500,100 L470,90 Z" fill="#5a6a50"/>
<path d="M462,0 H480 V70 H462 Z" fill="#5a6a4c"/>
</g>
<rect x="309" y="1.5" width="241" height="134" filter="url(#patches)" opacity="0.7"/>
<rect x="309" y="1.5" width="241" height="134" filter="url(#ridges)" opacity="0.75"/>
<rect x="309" y="1.5" width="241" height="134" filter="url(#noise)" opacity="0.6"/>
<g fill="none" stroke-linecap="round" stroke-linejoin="round">
<path d="M316,40 C330,37 345,36 362,39 C380,42 400,45 415,50 C428,55 438,62 446,69" stroke="#7a887a" stroke-width="9" opacity="0.6" filter="url(#blur3)"/>
<path d="M330,37 C345,36 362,39 380,42 C400,45 415,50 428,56 C438,62 446,69 455,78 C460,84 463,88 470,90" stroke="#8a9c94" stroke-width="1.0" opacity="0.4"/>
<path d="M439,1 C436,10 434,20 432,30 C430,40 432,50 436,57 C439,62 442,66 446,69" stroke="#8a9c94" stroke-width="0.9" opacity="0.4"/>
<path d="M531,111 C538,110 544,109 552,108" stroke="#6a938a" stroke-width="2.5" opacity="0.7" filter="url(#blur1)"/>
<path d="M455,77 C459,82 462,86 468,88 C476,89 486,88 494,91 C500,93 504,96 508,98" stroke="#6b938a" stroke-width="3.4" fill="none" opacity="0.85" filter="url(#blur1)"/>
<path d="M502,96 L512,99 L522,104 L531,111 L519,126 L512,121 L506,112 L502,103 Z" fill="#6b978d" stroke="none" opacity="0.9" filter="url(#blur1)"/>
</g>
<path d="M498,114 C503,118 510,123 518,127 L521,136 L505,136 C503,128 500,120 498,114 Z M530,113 L546,112 L549,124 L534,122 Z" fill="#a6a48e" filter="url(#blur3)"/>
</g>
<path d="M301.5,3 L318.3,24.5" stroke="#ee8438" stroke-width="1.3" stroke-dasharray="3.2,2.2" fill="none"/>
<path d="M299.8,1.2 L304.8,3.4 L302.4,5.6 Z" fill="#ee8438"/>
<path d="M316,22 L318.3,24.5 L321,23" stroke="#ee8438" stroke-width="1.2" fill="none"/>
<rect x="309.5" y="1.8" width="19" height="16.8" fill="#bdbdbd"/>
<text x="310" y="15.6" font-size="15.6" font-weight="bold" fill="#000">(b)</text>
<text x="330.4" y="21.3" font-size="7.9" font-weight="bold" fill="#ffff00" stroke="#ffff00" stroke-width="0.25">Baishuihe Landslide</text>
<rect x="318.3" y="24.5" width="30" height="17.3" fill="none" stroke="#ee8438" stroke-width="1.3" stroke-dasharray="3,2"/>
<circle cx="330.7" cy="34.4" r="3.1" fill="#ff1010"/>
<text x="0" y="0" font-size="7.8" font-weight="bold" fill="#ffff00" stroke="#ffff00" stroke-width="0.25" transform="translate(395.3,45.2) rotate(25.5)">Yangtze River</text>
<path d="M441,64 L454,72.6" stroke="#ffff00" stroke-width="1.1"/>
<path d="M458,75.5 L451.5,74.3 L454.5,69.8 Z" fill="#ffff00" stroke="#ffff00" stroke-width="0.25"/>
<text x="479.2" y="106" font-size="7.7" font-weight="bold" fill="#ffff00" stroke="#ffff00" stroke-width="0.25">Three Gorges Dam</text>
<path d="M531.6,110.4 L518.5,126" stroke="#f07830" stroke-width="3"/>
<path d="M413.6,128.2 V132.1 H446 V128.2" fill="none" stroke="#ffff00" stroke-width="1.4"/>
<text x="421.2" y="127.7" font-size="6.7" font-weight="bold" fill="#ffff00" stroke="#ffff00" stroke-width="0.25">9 Km</text>
<rect x="541.6" y="122.7" width="8.4" height="12.8" fill="#fff"/>
<path d="M545.8,124 L543.6,133.5 L545.8,131 L548,133.5 Z" fill="#111"/><circle cx="545.8" cy="129" r="1.4" fill="none" stroke="#111" stroke-width="0.5"/>
<rect x="480" y="1.5" width="69.5" height="68" fill="#fff" stroke="#d0d0d0" stroke-width="0.4"/>
<polygon points="481.6,25.5 484,21 486.6,18.1 489.8,17.3 492.5,13.5 495.6,10.7 498.5,13 501.3,16.5 504.5,19.5 507.9,20.6 513,21.2 519.3,21 523.5,19.5 527.2,15.6 529.3,11.5 531.3,7.4 533.8,3.6 537,3 539.5,5.7 541.1,8.2 545.2,9 546.9,12.3 542.8,14.8 538.7,18.9 534.6,22.1 531.3,23.8 530.5,26.2 533,28.7 531.3,31.1 533,33.5 534.8,36.6 533.5,40.5 530.8,44.4 527.6,46.4 523,48.4 519,48.4 515.7,47 510.5,47.7 508.5,43.1 505.2,42.5 501.3,40.2 496,39.5 492.3,38.6 489,36.5 486.6,34.5 483.5,30" fill="#f4f4f4" stroke="#6a6a6a" stroke-width="0.55"/>
<path d="M495.6,10.7 L497,20 L501,27 M497,20 L490,26 L486,30 M501,27 L507,26 L513,24 L519.3,21 M507,26 L509,33 L506,40 M509,33 L515,33 L519,30 L524,28 L527.2,22 M515,33 L517,40 L515.7,47 M519,30 L521,34 M524,28 L526,33 L531.3,31.1 M521,40 L527,42 L530.8,44.4 M517,40 L521,40 M527,42 L528,35" fill="none" stroke="#cdcdcd" stroke-width="0.35"/>
<path d="M531,25 C533,29 535,33 535,37 C534,42 531,45 527,47 C525,48.5 523,49 521,49.5" fill="none" stroke="#86c2ec" stroke-width="0.6"/>
<path d="M519.8,35.8 L521.5,34 L523.6,34.4 L525.2,35 L526.9,35.8 L526.4,37.6 L524,38.5 L521.8,37.8 L520.2,38.2 Z" fill="#5a62c8"/>
<rect x="526.8" y="35.6" width="5.6" height="1.6" fill="#9a9a9a"/>
<circle cx="524.8" cy="36.4" r="0.75" fill="#d82020"/>
<circle cx="528.9" cy="24.3" r="0.6" fill="#d82020"/><rect x="529.6" y="23.6" width="3.6" height="1.2" fill="#b0b0b0"/>
<path d="M520.5,50.5 l1,1 M523.5,51.5 l0.8,0.4 M532,46 l0.6,0.8 M535.5,44.5 l0.4,0.9 M521,56 l0.5,0.8 M531.5,51.5 l0.6,0.7 M531,56 l0.4,0.8 M521.5,59.5 l0.5,0.8 M530,60.5 l0.5,0.7 M520,65 l0.6,0.5 M528,66 l0.6,0.4" stroke="#8a8a8a" stroke-width="0.5"/>
<path d="M522,64 C524,62 526,61 528,60.5 C527,62.5 525,64 522,64 Z" fill="#d2e6f6" stroke="#8cc0ea" stroke-width="0.4"/>
<path d="M522.5,49.5 C523,51 523.5,52 523,53" fill="none" stroke="#8cc0ea" stroke-width="0.5"/>
<text x="486.3" y="8.5" font-size="4.9" font-weight="bold" fill="#3a64b4">China</text>
<defs>
<pattern id="gravel" patternUnits="userSpaceOnUse" width="3.2" height="2.8">
 <rect width="3.2" height="2.8" fill="#444"/><ellipse cx="0.8" cy="0.7" rx="0.95" ry="0.72" fill="#e6e6e6"/><ellipse cx="2.4" cy="2.1" rx="0.95" ry="0.72" fill="#e6e6e6"/>
</pattern>
<pattern id="gravel2" patternUnits="userSpaceOnUse" width="2" height="1.8">
 <rect width="2" height="1.8" fill="#474747"/><circle cx="0.5" cy="0.45" r="0.5" fill="#dedede"/><circle cx="1.5" cy="1.35" r="0.5" fill="#dedede"/>
</pattern>
<pattern id="stripes2" patternUnits="userSpaceOnUse" width="6" height="3.3" patternTransform="rotate(45)">
 <rect width="6" height="3.3" fill="#b8d2f0"/><rect y="0" width="6" height="1.0" fill="#1f3468"/>
</pattern>
</defs>
<rect x="311" y="138.4" width="237" height="164" fill="#fff" stroke="#a4a4a4" stroke-width="1"/>
<path d="M545.4,139 V299.7 H312" fill="none" stroke="#ececec" stroke-width="0.5"/>
<rect x="530" y="138.8" width="17.6" height="16.6" fill="#bdbdbd"/>
<text transform="translate(530.5,152.4) scale(0.94,1)" font-size="15.6" fill="#000" font-weight="bold">(c)</text>
<text transform="translate(353.3,149.3)" font-size="8.4" fill="#111" stroke="#111" stroke-width="0.15">NE 15°</text>
<path d="M349,150.8 H394 M376.5,150.8 L382.8,145 L394,150.8" fill="none" stroke="#333" stroke-width="0.5"/>
<path d="M346.3,156.2 V166.4 M399.6,180 V200" stroke="#444" stroke-width="0.5"/>
<path d="M347,162.7 H521.5 M400.3,184.8 H521.5" stroke="#b4b4b4" stroke-width="1"/>
<path d="M346.8,162.7 l3.2,-1.3 v2.6 Z M400,184.8 l3.2,-1.3 v2.6 Z M522,162.7 l-3.2,-1.3 v2.6 Z M522,184.8 l-3.2,-1.3 v2.6 Z" fill="#111"/>
<text transform="translate(414.6,159.6) scale(0.95,1)" font-size="8.8" fill="#111" stroke="#111" stroke-width="0.15">The main landslide</text>
<text transform="translate(436,181.8) scale(0.97,1)" font-size="8.8" fill="#111" stroke="#111" stroke-width="0.15">The warning area</text>
<path d="M339.3,161 V260.7 H522.3 V161" fill="none" stroke="#a8a8a8" stroke-width="1"/>
<text transform="translate(337,165.0)" font-size="6.8" fill="#222" text-anchor="end" stroke="#222" stroke-width="0.12">400</text>
<text transform="translate(525.5,165.0)" font-size="6.8" fill="#222" stroke="#222" stroke-width="0.12">400</text>
<text transform="translate(337,191.9)" font-size="6.8" fill="#222" text-anchor="end" stroke="#222" stroke-width="0.12">300</text>
<text transform="translate(525.5,191.9)" font-size="6.8" fill="#222" stroke="#222" stroke-width="0.12">300</text>
<text transform="translate(337,219.60000000000002)" font-size="6.8" fill="#222" text-anchor="end" stroke="#222" stroke-width="0.12">200</text>
<text transform="translate(525.5,219.60000000000002)" font-size="6.8" fill="#222" stroke="#222" stroke-width="0.12">200</text>
<text transform="translate(337,247.5)" font-size="6.8" fill="#222" text-anchor="end" stroke="#222" stroke-width="0.12">100</text>
<text transform="translate(525.5,247.5)" font-size="6.8" fill="#222" stroke="#222" stroke-width="0.12">100</text>
<text transform="translate(337,263.4)" font-size="6.8" fill="#222" text-anchor="end" stroke="#222" stroke-width="0.12">60</text>
<text transform="translate(527,260.3)" font-size="6.8" fill="#222" stroke="#222" stroke-width="0.12">60</text>
<text transform="translate(339.3,267.6)" font-size="6.8" fill="#222" text-anchor="middle" stroke="#222" stroke-width="0.12">0</text>
<text transform="translate(362.2,267.6)" font-size="6.8" fill="#222" text-anchor="middle" stroke="#222" stroke-width="0.12">100</text>
<text transform="translate(385.0,267.6)" font-size="6.8" fill="#222" text-anchor="middle" stroke="#222" stroke-width="0.12">200</text>
<text transform="translate(407.9,267.6)" font-size="6.8" fill="#222" text-anchor="middle" stroke="#222" stroke-width="0.12">300</text>
<text transform="translate(430.8,267.6)" font-size="6.8" fill="#222" text-anchor="middle" stroke="#222" stroke-width="0.12">400</text>
<text transform="translate(453.7,267.6)" font-size="6.8" fill="#222" text-anchor="middle" stroke="#222" stroke-width="0.12">500</text>
<text transform="translate(476.5,267.6)" font-size="6.8" fill="#222" text-anchor="middle" stroke="#222" stroke-width="0.12">600</text>
<text transform="translate(499.4,267.6)" font-size="6.8" fill="#222" text-anchor="middle" stroke="#222" stroke-width="0.12">700</text>
<text transform="translate(522.3,267.6)" font-size="6.8" fill="#222" text-anchor="middle" stroke="#222" stroke-width="0.12">800</text>
<path d="M339.3,162.7 h1.8 M522.3,162.7 h-1.8 M339.3,189.6 h1.8 M522.3,189.6 h-1.8 M339.3,217.3 h1.8 M522.3,217.3 h-1.8 M339.3,245.2 h1.8 M522.3,245.2 h-1.8 M362.2,260.7 v-2.2 M385.0,260.7 v-2.2 M407.9,260.7 v-2.2 M430.8,260.7 v-2.2 M453.7,260.7 v-2.2 M476.5,260.7 v-2.2 M499.4,260.7 v-2.2" stroke="#888" stroke-width="0.6"/>
<text transform="translate(323.6,208) rotate(-90)" font-size="8.8" fill="#111" text-anchor="middle" stroke="#111" stroke-width="0.12">Elevation/m</text>
<text transform="translate(545.8,208) rotate(-90)" font-size="8.8" fill="#111" text-anchor="middle" stroke="#111" stroke-width="0.12">Elevation/m</text>
<text transform="translate(393.2,277.3) scale(0.975,1)" font-size="8.8" fill="#111" stroke="#111" stroke-width="0.2">Horizontal distance/m</text>
<clipPath id="bodyclip"><polygon points="339.6,164.4 345.0,168.5 360.0,177.2 380.0,188.6 398.0,199.4 400.0,200.3 410.0,206.8 420.0,212.6 430.0,220.5 438.0,228.5 446.0,233.6 456.0,236.4 470.0,237.4 485.0,238.2 499.0,238.8 504.0,239.0 506.0,240.0 512.0,245.5 519.0,252.8 490.0,252.6 465.0,251.8 452.0,250.3 440.0,248.0 432.0,245.7 424.5,243.0 417.0,240.0 409.7,237.6 402.0,235.5 395.0,233.2 387.0,230.5 380.2,227.3 372.0,223.0 365.5,218.5 359.0,213.0 353.7,206.7 349.0,197.5 345.4,187.5 342.0,176.0 339.6,166.0"/></clipPath>
<polygon points="339.6,164.4 345.0,168.5 360.0,177.2 380.0,188.6 398.0,199.4 400.0,200.3 410.0,206.8 420.0,212.6 430.0,220.5 438.0,228.5 446.0,233.6 456.0,236.4 470.0,237.4 485.0,238.2 499.0,238.8 504.0,239.0 506.0,240.0 512.0,245.5 519.0,252.8 490.0,252.6 465.0,251.8 452.0,250.3 440.0,248.0 432.0,245.7 424.5,243.0 417.0,240.0 409.7,237.6 402.0,235.5 395.0,233.2 387.0,230.5 380.2,227.3 372.0,223.0 365.5,218.5 359.0,213.0 353.7,206.7 349.0,197.5 345.4,187.5 342.0,176.0 339.6,166.0" fill="#a8d9e6"/>
<clipPath id="fanclip"><polygon points="330.0,150.0 452.0,150.0 448.0,222.0 418.0,258.0 330.0,258.0"/></clipPath>
<clipPath id="hatchclip"><polygon points="452.0,150.0 530.0,150.0 530.0,260.0 418.0,258.0 448.0,222.0"/></clipPath>
<g clip-path="url(#bodyclip)">
<path d="M341,165.4 342,166.3 343,167.2 344,168.1 345,168.9 346,169.6 347,170.3 348,171.0 349,171.7 350,172.3 351,173.0 352,173.6 353,174.3 354,174.9 355,175.5 356,176.1 357,176.8 358,177.4 359,178.0 360,178.6 361,179.2 362,179.8 363,180.4 364,181.0 365,181.6 366,182.2 367,182.8 368,183.3 369,183.9 370,184.5 371,185.1 372,185.7 373,186.3 374,186.9 375,187.4 376,188.0 377,188.6 378,189.2 379,189.8 380,190.3 381,190.9 382,191.6 383,192.2 384,192.8 385,193.4 386,194.0 387,194.6 388,195.2 389,195.8 390,196.4 391,197.0 392,197.6 393,198.1 394,198.7 395,199.3 396,199.9 397,200.5 398,201.1 399,201.6 400,202.1 401,202.7 402,203.4 403,204.0 404,204.6 405,205.3 406,205.9 407,206.5 408,207.2 409,207.8 410,208.4 411,209.0 412,209.6 413,210.2 414,210.8 415,211.3 416,211.9 417,212.5 418,213.1 419,213.7 420,214.3 421,215.0 422,215.8 423,216.5 424,217.3 425,218.0 426,218.8 427,219.5 428,220.3 429,221.0 430,221.8 431,222.7 432,223.6 433,224.5 434,225.5 435,226.4 436,227.3 437,228.2 438,229.1 439,229.8 440,230.4 441,231.0 442,231.6 443,232.2 444,232.9 445,233.5 446,234.1 447,234.4 448,234.8 449,235.1 450,235.4 451,235.8 M341,165.9 342,167.0 343,168.1 344,169.1 345,170.2 346,171.1 347,171.9 348,172.8 349,173.6 350,174.3 351,175.1 352,175.9 353,176.6 354,177.3 355,178.0 356,178.7 357,179.3 358,180.0 359,180.6 360,181.3 361,181.9 362,182.5 363,183.1 364,183.7 365,184.4 366,185.0 367,185.6 368,186.2 369,186.8 370,187.4 371,188.0 372,188.6 373,189.1 374,189.7 375,190.3 376,190.9 377,191.4 378,192.0 379,192.6 380,193.2 381,193.8 382,194.4 383,195.0 384,195.6 385,196.2 386,196.8 387,197.4 388,197.9 389,198.5 390,199.1 391,199.7 392,200.3 393,200.8 394,201.4 395,202.0 396,202.6 397,203.2 398,203.7 399,204.2 400,204.7 401,205.3 402,205.9 403,206.5 404,207.1 405,207.7 406,208.3 407,208.9 408,209.6 409,210.2 410,210.8 411,211.3 412,211.9 413,212.5 414,213.0 415,213.6 416,214.2 417,214.7 418,215.3 419,215.9 420,216.4 421,217.2 422,217.9 423,218.6 424,219.4 425,220.1 426,220.8 427,221.5 428,222.2 429,223.0 430,223.7 431,224.6 432,225.4 433,226.3 434,227.2 435,228.0 436,228.9 437,229.8 438,230.7 439,231.3 440,231.9 441,232.4 442,233.0 443,233.6 444,234.2 445,234.8 446,235.4 447,235.7 448,236.1 449,236.4 450,236.7 451,237.0 M341,166.4 342,167.8 343,169.0 344,170.2 345,171.5 346,172.5 347,173.5 348,174.5 349,175.5 350,176.4 351,177.2 352,178.1 353,178.9 354,179.7 355,180.5 356,181.2 357,181.9 358,182.6 359,183.3 360,183.9 361,184.6 362,185.2 363,185.9 364,186.5 365,187.1 366,187.8 367,188.4 368,189.0 369,189.6 370,190.2 371,190.8 372,191.4 373,192.0 374,192.6 375,193.1 376,193.7 377,194.3 378,194.9 379,195.5 380,196.0 381,196.6 382,197.2 383,197.8 384,198.4 385,199.0 386,199.6 387,200.1 388,200.7 389,201.3 390,201.8 391,202.4 392,203.0 393,203.5 394,204.1 395,204.7 396,205.2 397,205.8 398,206.3 399,206.8 400,207.3 401,207.9 402,208.4 403,209.0 404,209.6 405,210.2 406,210.8 407,211.4 408,212.0 409,212.5 410,213.1 411,213.7 412,214.2 413,214.8 414,215.3 415,215.9 416,216.4 417,217.0 418,217.5 419,218.1 420,218.6 421,219.3 422,220.0 423,220.7 424,221.4 425,222.1 426,222.8 427,223.5 428,224.2 429,224.9 430,225.6 431,226.4 432,227.3 433,228.1 434,228.9 435,229.7 436,230.5 437,231.4 438,232.2 439,232.8 440,233.3 441,233.9 442,234.5 443,235.0 444,235.6 445,236.1 446,236.7 447,237.0 448,237.4 449,237.7 450,238.0 451,238.3 M341,166.8 342,168.5 343,169.9 344,171.3 345,172.7 346,174.0 347,175.1 348,176.3 349,177.5 350,178.4 351,179.4 352,180.3 353,181.3 354,182.2 355,182.9 356,183.7 357,184.4 358,185.2 359,185.9 360,186.6 361,187.3 362,187.9 363,188.6 364,189.2 365,189.9 366,190.5 367,191.2 368,191.8 369,192.4 370,193.0 371,193.6 372,194.3 373,194.8 374,195.4 375,196.0 376,196.6 377,197.1 378,197.7 379,198.3 380,198.9 381,199.5 382,200.0 383,200.6 384,201.2 385,201.8 386,202.4 387,202.9 388,203.5 389,204.0 390,204.6 391,205.1 392,205.7 393,206.2 394,206.8 395,207.3 396,207.8 397,208.4 398,208.9 399,209.4 400,209.8 401,210.4 402,211.0 403,211.5 404,212.1 405,212.7 406,213.2 407,213.8 408,214.3 409,214.9 410,215.5 411,216.0 412,216.5 413,217.1 414,217.6 415,218.1 416,218.7 417,219.2 418,219.7 419,220.3 420,220.8 421,221.5 422,222.2 423,222.9 424,223.5 425,224.2 426,224.9 427,225.5 428,226.2 429,226.9 430,227.5 431,228.3 432,229.1 433,229.9 434,230.6 435,231.4 436,232.2 437,232.9 438,233.7 439,234.3 440,234.8 441,235.4 442,235.9 443,236.4 444,236.9 445,237.5 446,238.0 447,238.3 448,238.6 449,239.0 450,239.3 451,239.6 M341,167.3 342,169.2 343,170.8 344,172.4 345,174.0 346,175.4 347,176.7 348,178.1 349,179.4 350,180.5 351,181.5 352,182.6 353,183.6 354,184.6 355,185.4 356,186.2 357,187.0 358,187.8 359,188.6 360,189.3 361,190.0 362,190.6 363,191.3 364,192.0 365,192.7 366,193.3 367,194.0 368,194.6 369,195.2 370,195.9 371,196.5 372,197.1 373,197.7 374,198.3 375,198.8 376,199.4 377,200.0 378,200.6 379,201.1 380,201.7 381,202.3 382,202.9 383,203.4 384,204.0 385,204.6 386,205.2 387,205.7 388,206.3 389,206.8 390,207.3 391,207.8 392,208.4 393,208.9 394,209.4 395,210.0 396,210.5 397,211.0 398,211.5 399,212.0 400,212.4 401,213.0 402,213.5 403,214.1 404,214.6 405,215.1 406,215.7 407,216.2 408,216.7 409,217.3 410,217.8 411,218.3 412,218.8 413,219.4 414,219.9 415,220.4 416,220.9 417,221.4 418,222.0 419,222.5 420,223.0 421,223.7 422,224.3 423,225.0 424,225.6 425,226.3 426,226.9 427,227.5 428,228.2 429,228.8 430,229.4 431,230.2 432,230.9 433,231.6 434,232.4 435,233.1 436,233.8 437,234.5 438,235.2 439,235.8 440,236.3 441,236.8 442,237.3 443,237.8 444,238.3 445,238.8 446,239.3 447,239.6 448,239.9 449,240.2 450,240.6 451,240.9 M341,167.7 342,169.9 343,171.7 344,173.5 345,175.3 346,176.9 347,178.4 348,179.8 349,181.3 350,182.5 351,183.6 352,184.8 353,185.9 354,187.0 355,187.9 356,188.7 357,189.5 358,190.4 359,191.2 360,191.9 361,192.6 362,193.3 363,194.1 364,194.8 365,195.5 366,196.1 367,196.8 368,197.4 369,198.1 370,198.7 371,199.3 372,200.0 373,200.5 374,201.1 375,201.7 376,202.3 377,202.8 378,203.4 379,204.0 380,204.6 381,205.1 382,205.7 383,206.3 384,206.8 385,207.4 386,208.0 387,208.5 388,209.0 389,209.5 390,210.1 391,210.6 392,211.1 393,211.6 394,212.1 395,212.6 396,213.1 397,213.6 398,214.1 399,214.6 400,215.0 401,215.5 402,216.1 403,216.6 404,217.1 405,217.6 406,218.1 407,218.6 408,219.1 409,219.6 410,220.1 411,220.6 412,221.1 413,221.6 414,222.1 415,222.6 416,223.1 417,223.6 418,224.2 419,224.7 420,225.2 421,225.8 422,226.5 423,227.1 424,227.7 425,228.3 426,228.9 427,229.5 428,230.1 429,230.7 430,231.4 431,232.0 432,232.7 433,233.4 434,234.1 435,234.8 436,235.4 437,236.1 438,236.8 439,237.3 440,237.8 441,238.3 442,238.7 443,239.2 444,239.7 445,240.1 446,240.6 447,240.9 448,241.2 449,241.5 450,241.8 451,242.2 M341,168.2 342,170.6 343,172.6 344,174.6 345,176.6 346,178.3 347,180.0 348,181.6 349,183.3 350,184.5 351,185.8 352,187.0 353,188.3 354,189.4 355,190.3 356,191.2 357,192.1 358,193.0 359,193.9 360,194.6 361,195.3 362,196.1 363,196.8 364,197.5 365,198.2 366,198.9 367,199.6 368,200.2 369,200.9 370,201.5 371,202.2 372,202.8 373,203.4 374,204.0 375,204.5 376,205.1 377,205.7 378,206.3 379,206.8 380,207.4 381,208.0 382,208.5 383,209.1 384,209.6 385,210.2 386,210.8 387,211.3 388,211.8 389,212.3 390,212.8 391,213.3 392,213.8 393,214.3 394,214.8 395,215.3 396,215.8 397,216.2 398,216.7 399,217.2 400,217.6 401,218.1 402,218.6 403,219.1 404,219.6 405,220.1 406,220.5 407,221.0 408,221.5 409,222.0 410,222.5 411,223.0 412,223.5 413,223.9 414,224.4 415,224.9 416,225.4 417,225.9 418,226.4 419,226.9 420,227.4 421,228.0 422,228.6 423,229.2 424,229.8 425,230.4 426,231.0 427,231.5 428,232.1 429,232.7 430,233.3 431,233.9 432,234.6 433,235.2 434,235.8 435,236.4 436,237.1 437,237.7 438,238.3 439,238.8 440,239.3 441,239.7 442,240.1 443,240.6 444,241.0 445,241.5 446,241.9 447,242.2 448,242.5 449,242.8 450,243.1 451,243.4 M341,168.7 342,171.3 343,173.5 344,175.7 345,177.9 346,179.8 347,181.6 348,183.4 349,185.2 350,186.6 351,187.9 352,189.3 353,190.6 354,191.9 355,192.8 356,193.7 357,194.7 358,195.6 359,196.5 360,197.3 361,198.0 362,198.8 363,199.5 364,200.3 365,201.0 366,201.7 367,202.4 368,203.0 369,203.7 370,204.4 371,205.0 372,205.7 373,206.3 374,206.8 375,207.4 376,208.0 377,208.5 378,209.1 379,209.7 380,210.2 381,210.8 382,211.4 383,211.9 384,212.5 385,213.0 386,213.6 387,214.1 388,214.6 389,215.1 390,215.5 391,216.0 392,216.5 393,217.0 394,217.4 395,217.9 396,218.4 397,218.9 398,219.3 399,219.8 400,220.2 401,220.7 402,221.2 403,221.6 404,222.1 405,222.5 406,223.0 407,223.4 408,223.9 409,224.4 410,224.8 411,225.3 412,225.8 413,226.2 414,226.7 415,227.2 416,227.6 417,228.1 418,228.6 419,229.1 420,229.6 421,230.2 422,230.7 423,231.3 424,231.9 425,232.4 426,233.0 427,233.5 428,234.1 429,234.6 430,235.2 431,235.8 432,236.4 433,237.0 434,237.5 435,238.1 436,238.7 437,239.3 438,239.8 439,240.3 440,240.8 441,241.2 442,241.6 443,242.0 444,242.4 445,242.8 446,243.2 447,243.5 448,243.8 449,244.1 450,244.4 451,244.7 M341,169.1 342,172.0 343,174.4 344,176.7 345,179.1 346,181.2 347,183.2 348,185.2 349,187.1 350,188.6 351,190.0 352,191.5 353,193.0 354,194.3 355,195.3 356,196.2 357,197.2 358,198.2 359,199.2 360,199.9 361,200.7 362,201.5 363,202.3 364,203.0 365,203.8 366,204.5 367,205.2 368,205.9 369,206.5 370,207.2 371,207.9 372,208.5 373,209.1 374,209.7 375,210.2 376,210.8 377,211.4 378,212.0 379,212.5 380,213.1 381,213.6 382,214.2 383,214.7 384,215.3 385,215.8 386,216.3 387,216.9 388,217.4 389,217.8 390,218.3 391,218.7 392,219.2 393,219.7 394,220.1 395,220.6 396,221.0 397,221.5 398,221.9 399,222.4 400,222.8 401,223.2 402,223.7 403,224.1 404,224.6 405,225.0 406,225.4 407,225.9 408,226.3 409,226.7 410,227.2 411,227.6 412,228.1 413,228.5 414,229.0 415,229.4 416,229.9 417,230.3 418,230.8 419,231.3 420,231.8 421,232.3 422,232.9 423,233.4 424,234.0 425,234.5 426,235.0 427,235.5 428,236.1 429,236.6 430,237.1 431,237.7 432,238.2 433,238.7 434,239.3 435,239.8 436,240.3 437,240.8 438,241.4 439,241.8 440,242.2 441,242.6 442,243.0 443,243.4 444,243.7 445,244.1 446,244.5 447,244.8 448,245.1 449,245.4 450,245.7 451,246.0 M341,169.6 342,172.7 343,175.3 344,177.8 345,180.4 346,182.7 347,184.8 348,186.9 349,189.1 350,190.6 351,192.2 352,193.7 353,195.3 354,196.7 355,197.7 356,198.7 357,199.8 358,200.8 359,201.8 360,202.6 361,203.4 362,204.2 363,205.0 364,205.8 365,206.6 366,207.3 367,208.0 368,208.7 369,209.3 370,210.0 371,210.7 372,211.4 373,212.0 374,212.5 375,213.1 376,213.7 377,214.2 378,214.8 379,215.4 380,215.9 381,216.5 382,217.0 383,217.5 384,218.1 385,218.6 386,219.1 387,219.7 388,220.1 389,220.6 390,221.0 391,221.5 392,221.9 393,222.3 394,222.8 395,223.2 396,223.7 397,224.1 398,224.5 399,224.9 400,225.4 401,225.8 402,226.3 403,226.7 404,227.1 405,227.5 406,227.9 407,228.3 408,228.7 409,229.1 410,229.5 411,229.9 412,230.4 413,230.8 414,231.2 415,231.7 416,232.1 417,232.5 418,233.0 419,233.5 420,234.0 421,234.5 422,235.0 423,235.5 424,236.1 425,236.6 426,237.1 427,237.5 428,238.0 429,238.5 430,239.0 431,239.5 432,240.1 433,240.5 434,241.0 435,241.5 436,241.9 437,242.4 438,242.9 439,243.3 440,243.7 441,244.1 442,244.4 443,244.8 444,245.1 445,245.5 446,245.8 447,246.1 448,246.4 449,246.7 450,247.0 451,247.3 M341,170.0 342,173.4 343,176.2 344,178.9 345,181.7 346,184.1 347,186.4 348,188.7 349,191.0 350,192.7 351,194.3 352,196.0 353,197.6 354,199.1 355,200.2 356,201.3 357,202.3 358,203.4 359,204.5 360,205.3 361,206.1 362,206.9 363,207.7 364,208.5 365,209.3 366,210.1 367,210.8 368,211.5 369,212.2 370,212.9 371,213.6 372,214.3 373,214.8 374,215.4 375,215.9 376,216.5 377,217.1 378,217.6 379,218.2 380,218.8 381,219.3 382,219.8 383,220.4 384,220.9 385,221.4 386,221.9 387,222.5 388,222.9 389,223.3 390,223.8 391,224.2 392,224.6 393,225.0 394,225.5 395,225.9 396,226.3 397,226.7 398,227.1 399,227.5 400,227.9 401,228.4 402,228.8 403,229.2 404,229.6 405,229.9 406,230.3 407,230.7 408,231.1 409,231.5 410,231.9 411,232.3 412,232.7 413,233.1 414,233.5 415,233.9 416,234.4 417,234.8 418,235.2 419,235.7 420,236.2 421,236.7 422,237.2 423,237.7 424,238.2 425,238.6 426,239.1 427,239.5 428,240.0 429,240.5 430,240.9 431,241.4 432,241.9 433,242.3 434,242.7 435,243.1 436,243.6 437,244.0 438,244.4 439,244.8 440,245.2 441,245.5 442,245.8 443,246.2 444,246.5 445,246.8 446,247.1 447,247.4 448,247.7 449,248.0 450,248.3 451,248.5" stroke="#2e4656" stroke-width="0.72" fill="none" clip-path="url(#fanclip)"/>
<path d="M360.0,200 L420.0,260 M362.6,200 L422.6,260 M365.2,200 L425.2,260 M367.8,200 L427.8,260 M370.4,200 L430.4,260 M373.0,200 L433.0,260 M375.6,200 L435.6,260 M378.2,200 L438.2,260 M380.8,200 L440.8,260 M383.4,200 L443.4,260 M386.0,200 L446.0,260 M388.6,200 L448.6,260 M391.2,200 L451.2,260 M393.8,200 L453.8,260 M396.4,200 L456.4,260 M399.0,200 L459.0,260 M401.6,200 L461.6,260 M404.2,200 L464.2,260 M406.8,200 L466.8,260 M409.4,200 L469.4,260 M412.0,200 L472.0,260 M414.6,200 L474.6,260 M417.2,200 L477.2,260 M419.8,200 L479.8,260 M422.4,200 L482.4,260 M425.0,200 L485.0,260 M427.6,200 L487.6,260 M430.2,200 L490.2,260 M432.8,200 L492.8,260 M435.4,200 L495.4,260 M438.0,200 L498.0,260 M440.6,200 L500.6,260 M443.2,200 L503.2,260 M445.8,200 L505.8,260 M448.4,200 L508.4,260 M451.0,200 L511.0,260 M453.6,200 L513.6,260 M456.2,200 L516.2,260 M458.8,200 L518.8,260 M461.4,200 L521.4,260 M464.0,200 L524.0,260 M466.6,200 L526.6,260 M469.2,200 L529.2,260 M471.8,200 L531.8,260 M474.4,200 L534.4,260 M477.0,200 L537.0,260 M479.6,200 L539.6,260 M482.2,200 L542.2,260 M484.8,200 L544.8,260 M487.4,200 L547.4,260 M490.0,200 L550.0,260 M492.6,200 L552.6,260 M495.2,200 L555.2,260 M497.8,200 L557.8,260 M500.4,200 L560.4,260 M503.0,200 L563.0,260 M505.6,200 L565.6,260 M508.2,200 L568.2,260 M510.8,200 L570.8,260 M513.4,200 L573.4,260 M516.0,200 L576.0,260 M518.6,200 L578.6,260 M521.2,200 L581.2,260 M523.8,200 L583.8,260 M526.4,200 L586.4,260 M529.0,200 L589.0,260" stroke="#30495a" stroke-width="0.64" fill="none" clip-path="url(#hatchclip)"/>
</g>
<g clip-path="url(#bodyclip)"><polygon points="339.6,166.0 342.0,176.0 345.4,187.5 349.0,197.5 353.7,206.7 359.0,213.0 365.5,218.5 372.0,223.0 380.2,227.3 387.0,230.5 395.0,233.2 402.0,235.5 409.7,237.6 417.0,240.0 424.5,243.0 432.0,245.7 440.0,248.0 452.0,250.3 465.0,251.8 490.0,252.6 519.0,252.8 519.0,251.3 490.0,251.1 465.0,250.3 452.0,248.8 440.0,246.5 432.0,244.0 424.5,241.1 417.0,238.0 409.7,235.4 402.0,233.1 395.0,230.6 387.0,227.7 380.2,224.3 372.0,219.9 365.5,215.3 359.0,209.7 353.7,203.3 349.0,194.0 345.4,184.2 342.0,172.9 339.6,163.0" fill="#acdbe8"/></g>
<polyline points="519.0,252.8 490.0,252.6 465.0,251.8 452.0,250.3 440.0,248.0 432.0,245.7 424.5,243.0 417.0,240.0 409.7,237.6 402.0,235.5 395.0,233.2 387.0,230.5 380.2,227.3 372.0,223.0 365.5,218.5 359.0,213.0 353.7,206.7 349.0,197.5 345.4,187.5 342.0,176.0 339.6,166.0" fill="none" stroke="#c2e8f0" stroke-width="1.2"/>
<polygon points="339.6,162.2 345.0,165.3 360.0,173.8 380.0,185.2 398.0,196.4 398.0,199.4 380.0,188.6 360.0,177.2 345.0,168.5 339.6,164.4" fill="url(#gravel2)"/>
<polygon points="413.0,208.6 420.0,208.8 428.0,213.2 440.0,221.5 455.0,225.2 470.0,228.6 485.0,231.8 497.0,233.6 502.0,235.2 506.0,238.3 504.0,239.0 504.0,239.0 499.0,238.8 485.0,238.2 470.0,237.4 456.0,236.4 446.0,233.6 438.0,228.5 430.0,220.5 420.0,212.6 413.0,208.6" fill="url(#gravel)"/>
<polyline points="413.0,208.6 420.0,208.8 428.0,213.2 440.0,221.5 455.0,225.2 470.0,228.6 485.0,231.8 497.0,233.6 502.0,235.2 506.0,238.3" fill="none" stroke="#333" stroke-width="0.45"/>
<polyline points="400.0,200.3 410.0,206.8 420.0,212.6 430.0,220.5 438.0,228.5 446.0,233.6 456.0,236.4 470.0,237.4 485.0,238.2 499.0,238.8 504.0,239.0" fill="none" stroke="#e02020" stroke-width="0.8"/>
<path d="M437,223.9 H518.5 M497,233.4 H518.5" stroke="#8cc8ee" stroke-width="0.6"/>
<path d="M469.6,220.2 h3.8 l-1.9,3.6 Z M497.8,229.6 h3.8 l-1.9,3.6 Z" fill="#1e90e0"/>
<text transform="translate(476,224.6)" font-size="6.3" fill="#3aa0e0">175m</text>
<text transform="translate(503.2,232.8)" font-size="6.3" fill="#3aa0e0">145m</text>
<text transform="translate(408,202.3)" font-size="6.3" fill="#222" stroke="#222" stroke-width="0.1">Road</text>
<path d="M416.3,204 L427.8,217" stroke="#333" stroke-width="0.4"/>
<text transform="translate(425.3,209.7)" font-size="6.8" fill="#22dd22" stroke="#22dd22" stroke-width="0.1">ZG118</text>
<path d="M440,211 L435.5,218.4 M435,220.6 V233" stroke="#333" stroke-width="0.4"/>
<circle cx="435" cy="219.5" r="1.2" fill="none" stroke="#e02020" stroke-width="0.6"/>
<text transform="translate(445.7,212.3)" font-size="5.3" fill="#222">QZK1</text>
<text transform="translate(445.7,217.8)" font-size="5.2" fill="#222">40.28m</text>
<path d="M445.5,214 H460 M445.5,214 L437.5,220.5" stroke="#333" stroke-width="0.4"/>
<path d="M455,234 q1.5,-2 3,-0.6 q1.5,1.2 3,-0.8" fill="none" stroke="#2030d0" stroke-width="0.8"/>
<text x="361.5" y="175" font-size="7.2" font-style="italic" fill="#2a2ae0" stroke="#2a2ae0" stroke-width="0.1">Q<tspan font-size="4.4" dy="1.6">4</tspan><tspan font-size="4.4" dy="-5">el+dl</tspan></text>
<text x="377" y="187.4" font-size="7.2" font-style="italic" fill="#2a2ae0" stroke="#2a2ae0" stroke-width="0.1">Q<tspan font-size="4.4" dy="1.6">4</tspan><tspan font-size="4.4" dy="-5">col+dl</tspan></text>
<text transform="translate(360.3,233.2)" font-size="6.3" fill="#222" stroke="#222" stroke-width="0.08">15°∠36°</text>
<path d="M359,234.4 H384.8 L393,225.4" fill="none" stroke="#333" stroke-width="0.4"/>
<text x="402" y="246" font-size="6.6" font-style="italic" fill="#222">J<tspan font-size="4.4" dy="1.2">2</tspan><tspan dy="-1.2">s</tspan></text>
<rect x="332.2" y="284" width="21" height="13.2" fill="url(#gravel)" stroke="#333" stroke-width="0.5"/>
<text transform="translate(356,292.2)" font-size="6.9" fill="#111" stroke="#111" stroke-width="0.1">Gravelly soil</text>
<rect x="398.6" y="284.1" width="20.4" height="13.1" fill="#fff" stroke="#555" stroke-width="0.6"/>
<path d="M400,285 C404,292 409,295.5 418.5,296.6" fill="none" stroke="#f04040" stroke-width="0.5"/>
<text transform="translate(423.4,292)" font-size="7.0" fill="#111" stroke="#111" stroke-width="0.1">Sliding zone</text>
<rect x="462.5" y="283.9" width="20.7" height="13.4" fill="url(#stripes2)" stroke="#333" stroke-width="0.6"/>
<text transform="translate(488,292.4)" font-size="7.05" fill="#111" stroke="#111" stroke-width="0.1">Silt mudstone</text>
<path d="M325,41.8 L301.2,292" stroke="#ee8438" stroke-width="1.3" stroke-dasharray="3.6,2.4" fill="none"/>
<path d="M322.5,42.6 H327.5" stroke="#ee8438" stroke-width="1.2"/>
<path d="M298.6,290.5 L303.4,291 L300.5,296.5 Z" fill="#ee8438"/></svg></body></html>
